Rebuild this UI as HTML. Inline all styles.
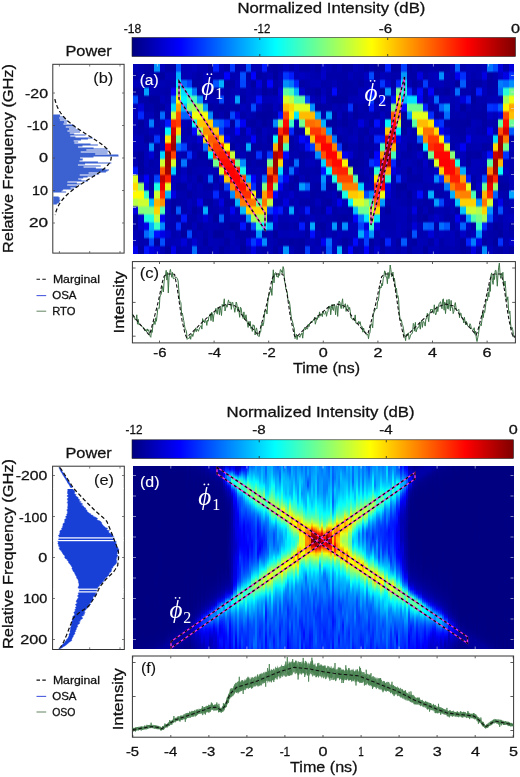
<!DOCTYPE html>
<html><head><meta charset="utf-8"><title>Figure</title>
<style>
html,body{margin:0;padding:0;background:#fff}
#root{position:relative;width:520px;height:777px;overflow:hidden;background:#fff;font-family:"Liberation Sans",sans-serif}
.hm{position:absolute;overflow:hidden;background:#000080}
.hm i{position:absolute;top:0;height:100%;display:block}
.bl{position:absolute;left:0;top:0;right:0;bottom:0;filter:blur(0.7px)}
</style></head><body><div id="root">
<div class="hm" style="left:133px;top:64px;width:381px;height:190px"><div class="bl"><i style="left:0px;width:5px;background:linear-gradient(#0000b5 0.7% 3.5%,#0000a6 4.8% 7.7%,#0000bb 9.0% 11.8%,#0000a1 13.2% 16.0%,#004eff 17.3% 20.2%,#0000b9 21.5% 24.3%,#0000bc 25.7% 28.5%,#0000b4 29.8% 32.7%,#0000b0 34.0% 36.8%,#0000bc 38.2% 41.0%,#0000b8 42.3% 45.2%,#0000ab 46.5% 49.3%,#0000b3 50.7% 53.5%,#0017ff 54.8% 57.7%,#ddff22 59.0% 61.8%,#ffdb00 63.2% 66.0%,#fffc00 67.3% 70.2%,#b9ff46 71.5% 74.3%,#0000e1 75.7% 78.5%,#0000a8 79.8% 82.7%,#0000a6 84.0% 86.8%,#0000b7 88.2% 91.0%,#0000bc 92.3% 95.2%,#0000ec 96.5% 99.3%)"></i><i style="left:5px;width:6px;background:linear-gradient(#0000ad 0.7% 3.5%,#0000b3 4.8% 7.7%,#0000b9 9.0% 11.8%,#0000a4 13.2% 16.0%,#0000aa 17.3% 20.2%,#0000d7 21.5% 24.3%,#0027ff 25.7% 28.5%,#0000a0 29.8% 32.7%,#0000a9 34.0% 36.8%,#0000b7 38.2% 41.0%,#0000b4 42.3% 45.2%,#00009f 46.5% 49.3%,#00009f 50.7% 53.5%,#00009f 54.8% 57.7%,#0000bc 59.0% 61.8%,#97ff68 63.2% 66.0%,#fffc00 67.3% 70.2%,#ceff31 71.5% 74.3%,#83ff7c 75.7% 78.5%,#0000cf 79.8% 82.7%,#0000ca 84.0% 86.8%,#0000b1 88.2% 91.0%,#0000af 92.3% 95.2%,#0000a3 96.5% 99.3%)"></i><i style="left:11px;width:5px;background:linear-gradient(#0000a8 0.7% 3.5%,#00009e 4.8% 7.7%,#0000ab 9.0% 11.8%,#00a0ff 13.2% 16.0%,#0000a8 17.3% 20.2%,#0000aa 21.5% 24.3%,#0000b6 25.7% 28.5%,#0000b7 29.8% 32.7%,#0000ad 34.0% 36.8%,#0000a1 38.2% 41.0%,#0000b4 42.3% 45.2%,#0000ba 46.5% 49.3%,#0000b9 50.7% 53.5%,#0000b1 54.8% 57.7%,#0000ff 59.0% 61.8%,#0000de 63.2% 66.0%,#38ffc7 67.3% 70.2%,#ceff31 71.5% 74.3%,#83ff7c 75.7% 78.5%,#22ffdd 79.8% 82.7%,#0000eb 84.0% 86.8%,#006aff 88.2% 91.0%,#0000b0 92.3% 95.2%,#0013ff 96.5% 99.3%)"></i><i style="left:16px;width:5px;background:linear-gradient(#0000a2 0.7% 3.5%,#0000aa 4.8% 7.7%,#0000b0 9.0% 11.8%,#0000b2 13.2% 16.0%,#00009f 17.3% 20.2%,#0000ac 21.5% 24.3%,#0000b9 25.7% 28.5%,#007dff 29.8% 32.7%,#0000bc 34.0% 36.8%,#0000a8 38.2% 41.0%,#008fff 42.3% 45.2%,#0000d2 46.5% 49.3%,#0000aa 50.7% 53.5%,#0000b1 54.8% 57.7%,#0000ac 59.0% 61.8%,#0000a2 63.2% 66.0%,#0000b5 67.3% 70.2%,#00bdff 71.5% 74.3%,#83ff7c 75.7% 78.5%,#22ffdd 79.8% 82.7%,#00b0ff 84.0% 86.8%,#0095ff 88.2% 91.0%,#0048ff 92.3% 95.2%,#0000e0 96.5% 99.3%)"></i><i style="left:21px;width:6px;background:linear-gradient(#0093ff 0.7% 3.5%,#0000a9 4.8% 7.7%,#0000b2 9.0% 11.8%,#0000af 13.2% 16.0%,#0000a0 17.3% 20.2%,#0000a1 21.5% 24.3%,#0000a2 25.7% 28.5%,#0000ad 29.8% 32.7%,#0000b6 34.0% 36.8%,#0034ff 38.2% 41.0%,#0000a0 42.3% 45.2%,#0000a5 46.5% 49.3%,#0000b1 50.7% 53.5%,#0000ad 54.8% 57.7%,#0041ff 59.0% 61.8%,#1bffe4 63.2% 66.0%,#ceff31 67.3% 70.2%,#ffb000 71.5% 74.3%,#ffd300 75.7% 78.5%,#baff45 79.8% 82.7%,#37ffc8 84.0% 86.8%,#000cff 88.2% 91.0%,#00009f 92.3% 95.2%,#0000d3 96.5% 99.3%)"></i><i style="left:27px;width:5px;background:linear-gradient(#0000bc 0.7% 3.5%,#0000a1 4.8% 7.7%,#0000b4 9.0% 11.8%,#0000ae 13.2% 16.0%,#0000bb 17.3% 20.2%,#0000a2 21.5% 24.3%,#006bff 25.7% 28.5%,#0000bc 29.8% 32.7%,#0000a5 34.0% 36.8%,#0000ab 38.2% 41.0%,#0000bd 42.3% 45.2%,#00d4ff 46.5% 49.3%,#d0ff2f 50.7% 53.5%,#ff5800 54.8% 57.7%,#c10000 59.0% 61.8%,#eb0000 63.2% 66.0%,#ff2800 67.3% 70.2%,#ff8e00 71.5% 74.3%,#50ffaf 75.7% 78.5%,#0000f4 79.8% 82.7%,#008eff 84.0% 86.8%,#0000e7 88.2% 91.0%,#004dff 92.3% 95.2%,#0000b6 96.5% 99.3%)"></i><i style="left:32px;width:6px;background:linear-gradient(#0000a7 0.7% 3.5%,#0000b7 4.8% 7.7%,#0000b1 9.0% 11.8%,#0000aa 13.2% 16.0%,#0000b0 17.3% 20.2%,#0000ba 21.5% 24.3%,#0000b0 25.7% 28.5%,#0017ff 29.8% 32.7%,#00faff 34.0% 36.8%,#ffec00 38.2% 41.0%,#ff0100 42.3% 45.2%,#940000 46.5% 49.3%,#960000 50.7% 53.5%,#a40000 54.8% 57.7%,#ff1f00 59.0% 61.8%,#dfff20 63.2% 66.0%,#00afff 67.3% 70.2%,#0000b5 71.5% 74.3%,#0000ba 75.7% 78.5%,#0000b5 79.8% 82.7%,#0000b0 84.0% 86.8%,#0000cf 88.2% 91.0%,#0000b2 92.3% 95.2%,#0000a1 96.5% 99.3%)"></i><i style="left:38px;width:5px;background:linear-gradient(#0000a8 0.7% 3.5%,#0000b7 4.8% 7.7%,#0000af 9.0% 11.8%,#0000f8 13.2% 16.0%,#0073ff 17.3% 20.2%,#00dbff 21.5% 24.3%,#d0ff2f 25.7% 28.5%,#ff2700 29.8% 32.7%,#d30000 34.0% 36.8%,#b00000 38.2% 41.0%,#9c0000 42.3% 45.2%,#ff4100 46.5% 49.3%,#d8ff27 50.7% 53.5%,#00cdff 54.8% 57.7%,#0000bb 59.0% 61.8%,#0000bc 63.2% 66.0%,#0000e4 67.3% 70.2%,#0000a2 71.5% 74.3%,#0000a1 75.7% 78.5%,#0000b3 79.8% 82.7%,#0000af 84.0% 86.8%,#0000af 88.2% 91.0%,#0000b7 92.3% 95.2%,#0000ed 96.5% 99.3%)"></i><i style="left:43px;width:5px;background:linear-gradient(#0053ff 0.7% 3.5%,#00adff 4.8% 7.7%,#00edff 9.0% 11.8%,#7cff83 13.2% 16.0%,#f6ff09 17.3% 20.2%,#ffa100 21.5% 24.3%,#ff4b00 25.7% 28.5%,#ff3d00 29.8% 32.7%,#ffd400 34.0% 36.8%,#5fffa0 38.2% 41.0%,#006fff 42.3% 45.2%,#0000bb 46.5% 49.3%,#00009e 50.7% 53.5%,#0000a9 54.8% 57.7%,#0000b5 59.0% 61.8%,#0000a4 63.2% 66.0%,#0000b2 67.3% 70.2%,#0000a8 71.5% 74.3%,#005bff 75.7% 78.5%,#0000a5 79.8% 82.7%,#002fff 84.0% 86.8%,#0000b4 88.2% 91.0%,#0000bb 92.3% 95.2%,#0000ad 96.5% 99.3%)"></i><i style="left:48px;width:6px;background:linear-gradient(#0000b6 0.7% 3.5%,#0000b4 4.8% 7.7%,#006bff 9.0% 11.8%,#00dfff 13.2% 16.0%,#00f7ff 17.3% 20.2%,#00b8ff 21.5% 24.3%,#0061ff 25.7% 28.5%,#0000b7 29.8% 32.7%,#0000af 34.0% 36.8%,#0000b1 38.2% 41.0%,#0040ff 42.3% 45.2%,#0000af 46.5% 49.3%,#0074ff 50.7% 53.5%,#0000bc 54.8% 57.7%,#0000c6 59.0% 61.8%,#0000a5 63.2% 66.0%,#0000b1 67.3% 70.2%,#0000af 71.5% 74.3%,#0000ad 75.7% 78.5%,#0016ff 79.8% 82.7%,#0000ab 84.0% 86.8%,#00009f 88.2% 91.0%,#0000d9 92.3% 95.2%,#0000b6 96.5% 99.3%)"></i><i style="left:54px;width:5px;background:linear-gradient(#0000b8 0.7% 3.5%,#0000ba 4.8% 7.7%,#0040ff 9.0% 11.8%,#00dfff 13.2% 16.0%,#47ffb8 17.3% 20.2%,#8bff74 21.5% 24.3%,#005fff 25.7% 28.5%,#0000af 29.8% 32.7%,#0000a5 34.0% 36.8%,#0000ba 38.2% 41.0%,#0000b1 42.3% 45.2%,#0033ff 46.5% 49.3%,#0000ac 50.7% 53.5%,#0000a3 54.8% 57.7%,#0000ae 59.0% 61.8%,#0000bd 63.2% 66.0%,#0000a3 67.3% 70.2%,#0000bd 71.5% 74.3%,#0000b9 75.7% 78.5%,#0000a8 79.8% 82.7%,#0000a6 84.0% 86.8%,#004bff 88.2% 91.0%,#0000b3 92.3% 95.2%,#0000b6 96.5% 99.3%)"></i><i style="left:59px;width:5px;background:linear-gradient(#0000bf 0.7% 3.5%,#0000b0 4.8% 7.7%,#0000a3 9.0% 11.8%,#0076ff 13.2% 16.0%,#47ffb8 17.3% 20.2%,#a3ff5c 21.5% 24.3%,#f3ff0c 25.7% 28.5%,#07fff8 29.8% 32.7%,#0008ff 34.0% 36.8%,#0000b7 38.2% 41.0%,#0000a9 42.3% 45.2%,#0000b9 46.5% 49.3%,#0000a7 50.7% 53.5%,#0000ae 54.8% 57.7%,#0000b9 59.0% 61.8%,#0000af 63.2% 66.0%,#0000b1 67.3% 70.2%,#0000b0 71.5% 74.3%,#0000a1 75.7% 78.5%,#0000ab 79.8% 82.7%,#0000ba 84.0% 86.8%,#0000af 88.2% 91.0%,#0000d0 92.3% 95.2%,#006dff 96.5% 99.3%)"></i><i style="left:64px;width:6px;background:linear-gradient(#0000b3 0.7% 3.5%,#0000a9 4.8% 7.7%,#0000a7 9.0% 11.8%,#0000a2 13.2% 16.0%,#0092ff 17.3% 20.2%,#a3ff5c 21.5% 24.3%,#f3ff0c 25.7% 28.5%,#ffc600 29.8% 32.7%,#9aff65 34.0% 36.8%,#0000d4 38.2% 41.0%,#0000b2 42.3% 45.2%,#0000a1 46.5% 49.3%,#0000aa 50.7% 53.5%,#0000b2 54.8% 57.7%,#0000a1 59.0% 61.8%,#0000b8 63.2% 66.0%,#0000b5 67.3% 70.2%,#0000ea 71.5% 74.3%,#0000af 75.7% 78.5%,#0000b8 79.8% 82.7%,#0000a4 84.0% 86.8%,#0000b7 88.2% 91.0%,#0000b5 92.3% 95.2%,#0000ae 96.5% 99.3%)"></i><i style="left:70px;width:5px;background:linear-gradient(#0000b1 0.7% 3.5%,#0000b8 4.8% 7.7%,#0000ba 9.0% 11.8%,#0000ae 13.2% 16.0%,#0000b4 17.3% 20.2%,#0099ff 21.5% 24.3%,#f3ff0c 25.7% 28.5%,#ffc600 29.8% 32.7%,#ff8d00 34.0% 36.8%,#ffe500 38.2% 41.0%,#006fff 42.3% 45.2%,#0000a4 46.5% 49.3%,#0000ab 50.7% 53.5%,#0000b3 54.8% 57.7%,#0000b6 59.0% 61.8%,#0000a9 63.2% 66.0%,#0000b1 67.3% 70.2%,#0000a2 71.5% 74.3%,#00b1ff 75.7% 78.5%,#0000d4 79.8% 82.7%,#0000b1 84.0% 86.8%,#0000a9 88.2% 91.0%,#0000a2 92.3% 95.2%,#0000b2 96.5% 99.3%)"></i><i style="left:75px;width:5px;background:linear-gradient(#00009f 0.7% 3.5%,#0000aa 4.8% 7.7%,#0000ac 9.0% 11.8%,#0000a8 13.2% 16.0%,#0000b5 17.3% 20.2%,#0000a2 21.5% 24.3%,#008bff 25.7% 28.5%,#ffcd00 29.8% 32.7%,#ff8d00 34.0% 36.8%,#ff5d00 38.2% 41.0%,#ff7c00 42.3% 45.2%,#00f8ff 46.5% 49.3%,#0000a3 50.7% 53.5%,#0000b7 54.8% 57.7%,#006aff 59.0% 61.8%,#0000a7 63.2% 66.0%,#0000b3 67.3% 70.2%,#0000a2 71.5% 74.3%,#0000aa 75.7% 78.5%,#0000b8 79.8% 82.7%,#0000b2 84.0% 86.8%,#0000b5 88.2% 91.0%,#0000b9 92.3% 95.2%,#0000ab 96.5% 99.3%)"></i><i style="left:80px;width:6px;background:linear-gradient(#0021ff 0.7% 3.5%,#0000b0 4.8% 7.7%,#0051ff 9.0% 11.8%,#0000a0 13.2% 16.0%,#0000b3 17.3% 20.2%,#0000ab 21.5% 24.3%,#0000a3 25.7% 28.5%,#0069ff 29.8% 32.7%,#ffc200 34.0% 36.8%,#ff5d00 38.2% 41.0%,#ff3900 42.3% 45.2%,#ff2e00 46.5% 49.3%,#73ff8c 50.7% 53.5%,#0000b5 54.8% 57.7%,#0000aa 59.0% 61.8%,#0000b9 63.2% 66.0%,#0028ff 67.3% 70.2%,#0000b6 71.5% 74.3%,#0000ac 75.7% 78.5%,#0000a0 79.8% 82.7%,#0000b1 84.0% 86.8%,#00009e 88.2% 91.0%,#0000b5 92.3% 95.2%,#0000b8 96.5% 99.3%)"></i><i style="left:86px;width:5px;background:linear-gradient(#0000b4 0.7% 3.5%,#0000b2 4.8% 7.7%,#00afff 9.0% 11.8%,#0000b4 13.2% 16.0%,#004bff 17.3% 20.2%,#0000a2 21.5% 24.3%,#0000b1 25.7% 28.5%,#0058ff 29.8% 32.7%,#0036ff 34.0% 36.8%,#ffd300 38.2% 41.0%,#ff3900 42.3% 45.2%,#ff1d00 46.5% 49.3%,#ff0c00 50.7% 53.5%,#dcff23 54.8% 57.7%,#0000cf 59.0% 61.8%,#0000a4 63.2% 66.0%,#0000b3 67.3% 70.2%,#0000e0 71.5% 74.3%,#0000bb 75.7% 78.5%,#0065ff 79.8% 82.7%,#0000aa 84.0% 86.8%,#00009f 88.2% 91.0%,#0000b3 92.3% 95.2%,#0000a1 96.5% 99.3%)"></i><i style="left:91px;width:6px;background:linear-gradient(#0000a7 0.7% 3.5%,#0000fe 4.8% 7.7%,#0000a1 9.0% 11.8%,#0000a8 13.2% 16.0%,#0000ab 17.3% 20.2%,#0000a8 21.5% 24.3%,#0000a0 25.7% 28.5%,#0023ff 29.8% 32.7%,#0000b9 34.0% 36.8%,#0000f2 38.2% 41.0%,#fffc00 42.3% 45.2%,#ff1d00 46.5% 49.3%,#ff0c00 50.7% 53.5%,#ff0200 54.8% 57.7%,#ffc800 59.0% 61.8%,#003dff 63.2% 66.0%,#0000b2 67.3% 70.2%,#0000a3 71.5% 74.3%,#0000af 75.7% 78.5%,#0000aa 79.8% 82.7%,#0000a6 84.0% 86.8%,#0000b3 88.2% 91.0%,#0000a3 92.3% 95.2%,#0000af 96.5% 99.3%)"></i><i style="left:97px;width:5px;background:linear-gradient(#0038ff 0.7% 3.5%,#0000b2 4.8% 7.7%,#0000a4 9.0% 11.8%,#0000b2 13.2% 16.0%,#0000b7 17.3% 20.2%,#0000aa 21.5% 24.3%,#0048ff 25.7% 28.5%,#00009f 29.8% 32.7%,#0000b4 34.0% 36.8%,#0000b4 38.2% 41.0%,#00009e 42.3% 45.2%,#c6ff39 46.5% 49.3%,#ff0c00 50.7% 53.5%,#ff0200 54.8% 57.7%,#ff0000 59.0% 61.8%,#ff8600 63.2% 66.0%,#008bff 67.3% 70.2%,#0000a0 71.5% 74.3%,#0000f6 75.7% 78.5%,#0000bb 79.8% 82.7%,#00009e 84.0% 86.8%,#0000bc 88.2% 91.0%,#0000bb 92.3% 95.2%,#0000b4 96.5% 99.3%)"></i><i style="left:102px;width:5px;background:linear-gradient(#0000ab 0.7% 3.5%,#0000b5 4.8% 7.7%,#0000c3 9.0% 11.8%,#0000b8 13.2% 16.0%,#00a1ff 17.3% 20.2%,#0000a4 21.5% 24.3%,#0000de 25.7% 28.5%,#0043ff 29.8% 32.7%,#0000ff 34.0% 36.8%,#0000ad 38.2% 41.0%,#0000b7 42.3% 45.2%,#0000ad 46.5% 49.3%,#78ff87 50.7% 53.5%,#ff1000 54.8% 57.7%,#ff0000 59.0% 61.8%,#ff0c00 63.2% 66.0%,#ff6a00 67.3% 70.2%,#00b6ff 71.5% 74.3%,#0000b3 75.7% 78.5%,#0000bb 79.8% 82.7%,#0000a4 84.0% 86.8%,#0000a8 88.2% 91.0%,#0000b3 92.3% 95.2%,#0000bc 96.5% 99.3%)"></i><i style="left:107px;width:6px;background:linear-gradient(#0000af 0.7% 3.5%,#004eff 4.8% 7.7%,#0046ff 9.0% 11.8%,#0000ad 13.2% 16.0%,#0000a7 17.3% 20.2%,#0000bd 21.5% 24.3%,#0000aa 25.7% 28.5%,#0000f7 29.8% 32.7%,#0000a6 34.0% 36.8%,#0000ae 38.2% 41.0%,#0000a8 42.3% 45.2%,#0000b6 46.5% 49.3%,#0088ff 50.7% 53.5%,#1bffe4 54.8% 57.7%,#ff4000 59.0% 61.8%,#ff0c00 63.2% 66.0%,#ff3100 67.3% 70.2%,#ff7c00 71.5% 74.3%,#00bbff 75.7% 78.5%,#0000b9 79.8% 82.7%,#0013ff 84.0% 86.8%,#0000a8 88.2% 91.0%,#0000a4 92.3% 95.2%,#00009e 96.5% 99.3%)"></i><i style="left:113px;width:5px;background:linear-gradient(#004dff 0.7% 3.5%,#0000a7 4.8% 7.7%,#0000b4 9.0% 11.8%,#0000b9 13.2% 16.0%,#0000b6 17.3% 20.2%,#0000b3 21.5% 24.3%,#0000b4 25.7% 28.5%,#0000a5 29.8% 32.7%,#0000de 34.0% 36.8%,#0000b8 38.2% 41.0%,#00aaff 42.3% 45.2%,#0000a5 46.5% 49.3%,#0000a3 50.7% 53.5%,#0000b4 54.8% 57.7%,#00aeff 59.0% 61.8%,#ff8f00 63.2% 66.0%,#ff3100 67.3% 70.2%,#ff7300 71.5% 74.3%,#ffd500 75.7% 78.5%,#0096ff 79.8% 82.7%,#0000a7 84.0% 86.8%,#0000a9 88.2% 91.0%,#0000e0 92.3% 95.2%,#0000b4 96.5% 99.3%)"></i><i style="left:118px;width:5px;background:linear-gradient(#0000b5 0.7% 3.5%,#0000fe 4.8% 7.7%,#0000a2 9.0% 11.8%,#0000b1 13.2% 16.0%,#0000b9 17.3% 20.2%,#004aff 21.5% 24.3%,#0000ad 25.7% 28.5%,#0000a2 29.8% 32.7%,#0000b2 34.0% 36.8%,#0000fc 38.2% 41.0%,#0000a3 42.3% 45.2%,#0000a6 46.5% 49.3%,#0000ae 50.7% 53.5%,#0000af 54.8% 57.7%,#0001ff 59.0% 61.8%,#002eff 63.2% 66.0%,#faff05 67.3% 70.2%,#ff7300 71.5% 74.3%,#ffd500 75.7% 78.5%,#a5ff5a 79.8% 82.7%,#0046ff 84.0% 86.8%,#0000b0 88.2% 91.0%,#003aff 92.3% 95.2%,#0000e0 96.5% 99.3%)"></i><i style="left:123px;width:6px;background:linear-gradient(#0000b4 0.7% 3.5%,#0000a3 4.8% 7.7%,#0000df 9.0% 11.8%,#0000ba 13.2% 16.0%,#0010ff 17.3% 20.2%,#0000bb 21.5% 24.3%,#0000a0 25.7% 28.5%,#0000ae 29.8% 32.7%,#0000a2 34.0% 36.8%,#0000a8 38.2% 41.0%,#0000a5 42.3% 45.2%,#0030ff 46.5% 49.3%,#0000a6 50.7% 53.5%,#0000b4 54.8% 57.7%,#0000b9 59.0% 61.8%,#0000ae 63.2% 66.0%,#0000a1 67.3% 70.2%,#5fffa0 71.5% 74.3%,#ffd500 75.7% 78.5%,#a5ff5a 79.8% 82.7%,#37ffc8 84.0% 86.8%,#0095ff 88.2% 91.0%,#0004ff 92.3% 95.2%,#0000b5 96.5% 99.3%)"></i><i style="left:129px;width:5px;background:linear-gradient(#0019ff 0.7% 3.5%,#0000ad 4.8% 7.7%,#0000a3 9.0% 11.8%,#0000a0 13.2% 16.0%,#0000b6 17.3% 20.2%,#0000a7 21.5% 24.3%,#00009f 25.7% 28.5%,#00009f 29.8% 32.7%,#0000bc 34.0% 36.8%,#0000b5 38.2% 41.0%,#0000aa 42.3% 45.2%,#0000b1 46.5% 49.3%,#0000a5 50.7% 53.5%,#0000b0 54.8% 57.7%,#006dff 59.0% 61.8%,#82ff7d 63.2% 66.0%,#ffa200 67.3% 70.2%,#ff7400 71.5% 74.3%,#ffd300 75.7% 78.5%,#9cff63 79.8% 82.7%,#00feff 84.0% 86.8%,#0000a9 88.2% 91.0%,#008aff 92.3% 95.2%,#0000ae 96.5% 99.3%)"></i><i style="left:134px;width:6px;background:linear-gradient(#0000a6 0.7% 3.5%,#0000b4 4.8% 7.7%,#0001ff 9.0% 11.8%,#0000a9 13.2% 16.0%,#0000b8 17.3% 20.2%,#0000a3 21.5% 24.3%,#0000a0 25.7% 28.5%,#0000a9 29.8% 32.7%,#0000b2 34.0% 36.8%,#0000a2 38.2% 41.0%,#0000a7 42.3% 45.2%,#0038ff 46.5% 49.3%,#7eff81 50.7% 53.5%,#ff6a00 54.8% 57.7%,#c00000 59.0% 61.8%,#eb0000 63.2% 66.0%,#ff2800 67.3% 70.2%,#c1ff3e 71.5% 74.3%,#003dff 75.7% 78.5%,#0000b1 79.8% 82.7%,#00b2ff 84.0% 86.8%,#0000b6 88.2% 91.0%,#0000b5 92.3% 95.2%,#0000b6 96.5% 99.3%)"></i><i style="left:140px;width:5px;background:linear-gradient(#0000a3 0.7% 3.5%,#00009e 4.8% 7.7%,#0000ab 9.0% 11.8%,#00009f 13.2% 16.0%,#0000bc 17.3% 20.2%,#0000bc 21.5% 24.3%,#0000a8 25.7% 28.5%,#008cff 29.8% 32.7%,#0000b3 34.0% 36.8%,#09fff6 38.2% 41.0%,#ffb100 42.3% 45.2%,#af0000 46.5% 49.3%,#960000 50.7% 53.5%,#a40000 54.8% 57.7%,#ff3f00 59.0% 61.8%,#7dff82 63.2% 66.0%,#0002ff 67.3% 70.2%,#0000ae 71.5% 74.3%,#0003ff 75.7% 78.5%,#0000db 79.8% 82.7%,#0000bc 84.0% 86.8%,#00009e 88.2% 91.0%,#0000ae 92.3% 95.2%,#0000a3 96.5% 99.3%)"></i><i style="left:145px;width:5px;background:linear-gradient(#0000ab 0.7% 3.5%,#0000b6 4.8% 7.7%,#0000b9 9.0% 11.8%,#0000db 13.2% 16.0%,#0000cc 17.3% 20.2%,#0000ae 21.5% 24.3%,#000fff 25.7% 28.5%,#8eff71 29.8% 32.7%,#ff2e00 34.0% 36.8%,#b00000 38.2% 41.0%,#9c0000 42.3% 45.2%,#ce0000 46.5% 49.3%,#ffd700 50.7% 53.5%,#00e3ff 54.8% 57.7%,#0053ff 59.0% 61.8%,#0000f7 63.2% 66.0%,#0000ba 67.3% 70.2%,#0000b3 71.5% 74.3%,#0018ff 75.7% 78.5%,#0000b0 79.8% 82.7%,#0000aa 84.0% 86.8%,#0000b9 88.2% 91.0%,#0000a3 92.3% 95.2%,#0000ba 96.5% 99.3%)"></i><i style="left:150px;width:6px;background:linear-gradient(#0000bb 0.7% 3.5%,#0034ff 4.8% 7.7%,#008eff 9.0% 11.8%,#5effa1 13.2% 16.0%,#d8ff27 17.3% 20.2%,#ffbf00 21.5% 24.3%,#ff4b00 25.7% 28.5%,#ff0800 29.8% 32.7%,#d70000 34.0% 36.8%,#ff9f00 38.2% 41.0%,#4affb5 42.3% 45.2%,#0005ff 46.5% 49.3%,#0000b7 50.7% 53.5%,#0000b6 54.8% 57.7%,#0000f1 59.0% 61.8%,#0000b4 63.2% 66.0%,#0000bc 67.3% 70.2%,#0000df 71.5% 74.3%,#0000b5 75.7% 78.5%,#0000b3 79.8% 82.7%,#0000a8 84.0% 86.8%,#0000b5 88.2% 91.0%,#0000a8 92.3% 95.2%,#0094ff 96.5% 99.3%)"></i><i style="left:156px;width:5px;background:linear-gradient(#0000aa 0.7% 3.5%,#001bff 4.8% 7.7%,#0075ff 9.0% 11.8%,#45ffba 13.2% 16.0%,#bfff40 17.3% 20.2%,#ffd800 21.5% 24.3%,#ffeb00 25.7% 28.5%,#39ffc6 29.8% 32.7%,#0028ff 34.0% 36.8%,#0000a7 38.2% 41.0%,#0000a4 42.3% 45.2%,#0000ae 46.5% 49.3%,#0000a9 50.7% 53.5%,#006dff 54.8% 57.7%,#0000af 59.0% 61.8%,#0000a4 63.2% 66.0%,#0000ca 67.3% 70.2%,#0000af 71.5% 74.3%,#00a9ff 75.7% 78.5%,#0000b8 79.8% 82.7%,#0000b0 84.0% 86.8%,#0000bb 88.2% 91.0%,#0000a1 92.3% 95.2%,#0000b7 96.5% 99.3%)"></i><i style="left:161px;width:5px;background:linear-gradient(#0000ba 0.7% 3.5%,#0000b8 4.8% 7.7%,#0024ff 9.0% 11.8%,#00b2ff 13.2% 16.0%,#62ff9d 17.3% 20.2%,#dfff20 21.5% 24.3%,#00e5ff 25.7% 28.5%,#0000b0 29.8% 32.7%,#0000a1 34.0% 36.8%,#0000b9 38.2% 41.0%,#0000ae 42.3% 45.2%,#0000b1 46.5% 49.3%,#006cff 50.7% 53.5%,#0000c2 54.8% 57.7%,#0000a1 59.0% 61.8%,#0000ad 63.2% 66.0%,#0000b1 67.3% 70.2%,#0000b9 71.5% 74.3%,#0000b3 75.7% 78.5%,#0000b9 79.8% 82.7%,#0000a9 84.0% 86.8%,#0000b8 88.2% 91.0%,#0000a5 92.3% 95.2%,#0000a7 96.5% 99.3%)"></i><i style="left:166px;width:6px;background:linear-gradient(#0000a4 0.7% 3.5%,#0000c3 4.8% 7.7%,#0000a6 9.0% 11.8%,#0000ce 13.2% 16.0%,#62ff9d 17.3% 20.2%,#dfff20 21.5% 24.3%,#ffbb00 25.7% 28.5%,#71ff8e 29.8% 32.7%,#0000a6 34.0% 36.8%,#0007ff 38.2% 41.0%,#0000bc 42.3% 45.2%,#0000a5 46.5% 49.3%,#0000ab 50.7% 53.5%,#0000aa 54.8% 57.7%,#0000b9 59.0% 61.8%,#009dff 63.2% 66.0%,#0000b4 67.3% 70.2%,#0000ab 71.5% 74.3%,#0000c0 75.7% 78.5%,#0000ab 79.8% 82.7%,#0019ff 84.0% 86.8%,#0000b6 88.2% 91.0%,#0000a0 92.3% 95.2%,#0000a2 96.5% 99.3%)"></i><i style="left:172px;width:5px;background:linear-gradient(#0000a5 0.7% 3.5%,#0000ba 4.8% 7.7%,#0000ae 9.0% 11.8%,#0000a8 13.2% 16.0%,#0043ff 17.3% 20.2%,#dfff20 21.5% 24.3%,#ffbb00 25.7% 28.5%,#ff6d00 29.8% 32.7%,#e3ff1c 34.0% 36.8%,#0000e2 38.2% 41.0%,#0010ff 42.3% 45.2%,#0000ad 46.5% 49.3%,#0000ba 50.7% 53.5%,#0000ab 54.8% 57.7%,#0000a6 59.0% 61.8%,#0061ff 63.2% 66.0%,#0000b8 67.3% 70.2%,#0000a9 71.5% 74.3%,#001cff 75.7% 78.5%,#0000b5 79.8% 82.7%,#0000aa 84.0% 86.8%,#0000a7 88.2% 91.0%,#0000b2 92.3% 95.2%,#003eff 96.5% 99.3%)"></i><i style="left:177px;width:5px;background:linear-gradient(#0000ae 0.7% 3.5%,#0000b3 4.8% 7.7%,#0000b9 9.0% 11.8%,#0000a8 13.2% 16.0%,#0000bc 17.3% 20.2%,#0093ff 21.5% 24.3%,#ffbb00 25.7% 28.5%,#ff6d00 29.8% 32.7%,#ff3600 34.0% 36.8%,#ffc100 38.2% 41.0%,#0042ff 42.3% 45.2%,#0000b9 46.5% 49.3%,#0000bc 50.7% 53.5%,#0000ad 54.8% 57.7%,#0000b0 59.0% 61.8%,#0000ac 63.2% 66.0%,#0000a3 67.3% 70.2%,#0000aa 71.5% 74.3%,#0000a4 75.7% 78.5%,#0000bc 79.8% 82.7%,#00a9ff 84.0% 86.8%,#000dff 88.2% 91.0%,#0000b6 92.3% 95.2%,#0000b3 96.5% 99.3%)"></i><i style="left:182px;width:6px;background:linear-gradient(#0000a3 0.7% 3.5%,#0000ae 4.8% 7.7%,#0000bb 9.0% 11.8%,#00009e 13.2% 16.0%,#0000ad 17.3% 20.2%,#00009f 21.5% 24.3%,#00a6ff 25.7% 28.5%,#ff7b00 29.8% 32.7%,#ff3600 34.0% 36.8%,#ff1300 38.2% 41.0%,#ff7f00 42.3% 45.2%,#0090ff 46.5% 49.3%,#0000b1 50.7% 53.5%,#0000a9 54.8% 57.7%,#0000b3 59.0% 61.8%,#0000a6 63.2% 66.0%,#0000a8 67.3% 70.2%,#0000bd 71.5% 74.3%,#0000ad 75.7% 78.5%,#0000ae 79.8% 82.7%,#0000a2 84.0% 86.8%,#0000b7 88.2% 91.0%,#0000ae 92.3% 95.2%,#0000ba 96.5% 99.3%)"></i><i style="left:188px;width:5px;background:linear-gradient(#0000c4 0.7% 3.5%,#0000cb 4.8% 7.7%,#0000aa 9.0% 11.8%,#0000b9 13.2% 16.0%,#0000cc 17.3% 20.2%,#0000a5 21.5% 24.3%,#0000ab 25.7% 28.5%,#00afff 29.8% 32.7%,#ff6200 34.0% 36.8%,#ff1300 38.2% 41.0%,#ff0200 42.3% 45.2%,#ff5100 46.5% 49.3%,#00d1ff 50.7% 53.5%,#000fff 54.8% 57.7%,#0096ff 59.0% 61.8%,#0077ff 63.2% 66.0%,#0000aa 67.3% 70.2%,#0000a6 71.5% 74.3%,#0000a0 75.7% 78.5%,#0000b4 79.8% 82.7%,#0000a2 84.0% 86.8%,#0000aa 88.2% 91.0%,#0000f2 92.3% 95.2%,#0000ad 96.5% 99.3%)"></i><i style="left:193px;width:6px;background:linear-gradient(#0000b3 0.7% 3.5%,#0000a9 4.8% 7.7%,#0000ad 9.0% 11.8%,#0000a6 13.2% 16.0%,#0000a7 17.3% 20.2%,#0000a6 21.5% 24.3%,#00a2ff 25.7% 28.5%,#0000a3 29.8% 32.7%,#009fff 34.0% 36.8%,#ff6600 38.2% 41.0%,#ff0200 42.3% 45.2%,#ff0100 46.5% 49.3%,#ff3400 50.7% 53.5%,#01fffe 54.8% 57.7%,#0000b4 59.0% 61.8%,#0000a0 63.2% 66.0%,#0000b1 67.3% 70.2%,#0000a3 71.5% 74.3%,#0000df 75.7% 78.5%,#0000ad 79.8% 82.7%,#0000b5 84.0% 86.8%,#0000b7 88.2% 91.0%,#006bff 92.3% 95.2%,#0058ff 96.5% 99.3%)"></i><i style="left:199px;width:5px;background:linear-gradient(#0000a9 0.7% 3.5%,#0000ab 4.8% 7.7%,#0000b7 9.0% 11.8%,#0008ff 13.2% 16.0%,#00009f 17.3% 20.2%,#0000b5 21.5% 24.3%,#00009f 25.7% 28.5%,#0000a2 29.8% 32.7%,#0000a8 34.0% 36.8%,#0078ff 38.2% 41.0%,#ff8300 42.3% 45.2%,#ff0100 46.5% 49.3%,#ff0a00 50.7% 53.5%,#ff2d00 54.8% 57.7%,#1effe1 59.0% 61.8%,#0000a5 63.2% 66.0%,#0000ba 67.3% 70.2%,#0000b9 71.5% 74.3%,#0000a6 75.7% 78.5%,#0000aa 79.8% 82.7%,#0097ff 84.0% 86.8%,#0000ad 88.2% 91.0%,#0000ba 92.3% 95.2%,#0000bb 96.5% 99.3%)"></i><i style="left:204px;width:5px;background:linear-gradient(#0000b3 0.7% 3.5%,#0000a9 4.8% 7.7%,#0000aa 9.0% 11.8%,#0000a9 13.2% 16.0%,#0000a0 17.3% 20.2%,#0000ae 21.5% 24.3%,#0000bb 25.7% 28.5%,#0000aa 29.8% 32.7%,#0000b8 34.0% 36.8%,#0000a2 38.2% 41.0%,#003cff 42.3% 45.2%,#ffb400 46.5% 49.3%,#ff0a00 50.7% 53.5%,#ff2200 54.8% 57.7%,#ff4800 59.0% 61.8%,#28ffd7 63.2% 66.0%,#00009e 67.3% 70.2%,#0000f1 71.5% 74.3%,#0000b1 75.7% 78.5%,#0000a4 79.8% 82.7%,#0000a2 84.0% 86.8%,#0000bc 88.2% 91.0%,#0000b0 92.3% 95.2%,#00b1ff 96.5% 99.3%)"></i><i style="left:209px;width:6px;background:linear-gradient(#0000a5 0.7% 3.5%,#0000a8 4.8% 7.7%,#0000a5 9.0% 11.8%,#0000a4 13.2% 16.0%,#0000a0 17.3% 20.2%,#0000b6 21.5% 24.3%,#0000a2 25.7% 28.5%,#0000a1 29.8% 32.7%,#0000b1 34.0% 36.8%,#0000ac 38.2% 41.0%,#00009f 42.3% 45.2%,#0000ed 46.5% 49.3%,#fff400 50.7% 53.5%,#ff2200 54.8% 57.7%,#ff4800 59.0% 61.8%,#ff8000 63.2% 66.0%,#1cffe3 67.3% 70.2%,#0000b8 71.5% 74.3%,#0000ae 75.7% 78.5%,#0000a1 79.8% 82.7%,#0090ff 84.0% 86.8%,#0000b4 88.2% 91.0%,#0000a2 92.3% 95.2%,#0000ac 96.5% 99.3%)"></i><i style="left:215px;width:5px;background:linear-gradient(#0000a7 0.7% 3.5%,#0000bb 4.8% 7.7%,#0000a7 9.0% 11.8%,#0000a8 13.2% 16.0%,#0000b4 17.3% 20.2%,#0033ff 21.5% 24.3%,#0000b4 25.7% 28.5%,#0000ac 29.8% 32.7%,#0000ab 34.0% 36.8%,#0000b7 38.2% 41.0%,#0000ad 42.3% 45.2%,#0000d0 46.5% 49.3%,#0000a4 50.7% 53.5%,#b8ff47 54.8% 57.7%,#ff4800 59.0% 61.8%,#ff8000 63.2% 66.0%,#ffc900 67.3% 70.2%,#00faff 71.5% 74.3%,#0000a9 75.7% 78.5%,#0000a8 79.8% 82.7%,#0000b9 84.0% 86.8%,#0000b9 88.2% 91.0%,#0000ae 92.3% 95.2%,#0002ff 96.5% 99.3%)"></i><i style="left:220px;width:5px;background:linear-gradient(#0000b9 0.7% 3.5%,#0000ae 4.8% 7.7%,#0000ad 9.0% 11.8%,#0000a7 13.2% 16.0%,#0000b6 17.3% 20.2%,#0000a5 21.5% 24.3%,#0000a1 25.7% 28.5%,#0000af 29.8% 32.7%,#0000b4 34.0% 36.8%,#0000bc 38.2% 41.0%,#0000ac 42.3% 45.2%,#0000ad 46.5% 49.3%,#0000a0 50.7% 53.5%,#0000a4 54.8% 57.7%,#52ffad 59.0% 61.8%,#ff8000 63.2% 66.0%,#ffc900 67.3% 70.2%,#d9ff26 71.5% 74.3%,#00c1ff 75.7% 78.5%,#0000fd 79.8% 82.7%,#0000bb 84.0% 86.8%,#0000ba 88.2% 91.0%,#0009ff 92.3% 95.2%,#0000a6 96.5% 99.3%)"></i><i style="left:225px;width:6px;background:linear-gradient(#0000b0 0.7% 3.5%,#0000ae 4.8% 7.7%,#0000a5 9.0% 11.8%,#0000bc 13.2% 16.0%,#0000bb 17.3% 20.2%,#0000b0 21.5% 24.3%,#0000ab 25.7% 28.5%,#0000df 29.8% 32.7%,#0000aa 34.0% 36.8%,#0000a4 38.2% 41.0%,#0000a2 42.3% 45.2%,#0000a5 46.5% 49.3%,#0000a5 50.7% 53.5%,#0000aa 54.8% 57.7%,#0000a2 59.0% 61.8%,#00d8ff 63.2% 66.0%,#ffda00 67.3% 70.2%,#d9ff26 71.5% 74.3%,#6bff94 75.7% 78.5%,#0070ff 79.8% 82.7%,#0040ff 84.0% 86.8%,#00acff 88.2% 91.0%,#0000b9 92.3% 95.2%,#0000ad 96.5% 99.3%)"></i><i style="left:231px;width:5px;background:linear-gradient(#0000a2 0.7% 3.5%,#0000c4 4.8% 7.7%,#0000b5 9.0% 11.8%,#0000b9 13.2% 16.0%,#0000bc 17.3% 20.2%,#0000a6 21.5% 24.3%,#0000ae 25.7% 28.5%,#0000b6 29.8% 32.7%,#0000a3 34.0% 36.8%,#0000b5 38.2% 41.0%,#0000a6 42.3% 45.2%,#0000b4 46.5% 49.3%,#0000ae 50.7% 53.5%,#0000b7 54.8% 57.7%,#0000ab 59.0% 61.8%,#0000b7 63.2% 66.0%,#004aff 67.3% 70.2%,#a8ff57 71.5% 74.3%,#6bff94 75.7% 78.5%,#00e8ff 79.8% 82.7%,#0000e1 84.0% 86.8%,#002fff 88.2% 91.0%,#003bff 92.3% 95.2%,#0000ff 96.5% 99.3%)"></i><i style="left:236px;width:5px;background:linear-gradient(#0000ab 0.7% 3.5%,#004aff 4.8% 7.7%,#0000b3 9.0% 11.8%,#0007ff 13.2% 16.0%,#003bff 17.3% 20.2%,#0017ff 21.5% 24.3%,#0000ae 25.7% 28.5%,#0000a0 29.8% 32.7%,#0000bc 34.0% 36.8%,#0000a5 38.2% 41.0%,#0000a9 42.3% 45.2%,#00009f 46.5% 49.3%,#0033ff 50.7% 53.5%,#0000a6 54.8% 57.7%,#0000b6 59.0% 61.8%,#0000ba 63.2% 66.0%,#008dff 67.3% 70.2%,#4effb1 71.5% 74.3%,#d8ff27 75.7% 78.5%,#baff45 79.8% 82.7%,#37ffc8 84.0% 86.8%,#0095ff 88.2% 91.0%,#0000a1 92.3% 95.2%,#0000a6 96.5% 99.3%)"></i><i style="left:241px;width:6px;background:linear-gradient(#0000a1 0.7% 3.5%,#0000a5 4.8% 7.7%,#0000bb 9.0% 11.8%,#0000b8 13.2% 16.0%,#00009f 17.3% 20.2%,#0000b5 21.5% 24.3%,#0000a7 25.7% 28.5%,#000eff 29.8% 32.7%,#0000b9 34.0% 36.8%,#0027ff 38.2% 41.0%,#0000b6 42.3% 45.2%,#0001ff 46.5% 49.3%,#0015ff 50.7% 53.5%,#2affd5 54.8% 57.7%,#ffe500 59.0% 61.8%,#ff2d00 63.2% 66.0%,#ff2800 67.3% 70.2%,#ff7400 71.5% 74.3%,#ffda00 75.7% 78.5%,#00e6ff 79.8% 82.7%,#0000e3 84.0% 86.8%,#0000ae 88.2% 91.0%,#0000b2 92.3% 95.2%,#0000cc 96.5% 99.3%)"></i><i style="left:247px;width:5px;background:linear-gradient(#0000a0 0.7% 3.5%,#0000bb 4.8% 7.7%,#0036ff 9.0% 11.8%,#00009f 13.2% 16.0%,#0012ff 17.3% 20.2%,#0000a7 21.5% 24.3%,#0000bf 25.7% 28.5%,#0000b7 29.8% 32.7%,#0000bb 34.0% 36.8%,#0017ff 38.2% 41.0%,#4dffb2 42.3% 45.2%,#ffa200 46.5% 49.3%,#c50000 50.7% 53.5%,#a40000 54.8% 57.7%,#c00000 59.0% 61.8%,#ff0200 63.2% 66.0%,#edff12 67.3% 70.2%,#009cff 71.5% 74.3%,#0000b2 75.7% 78.5%,#0000b0 79.8% 82.7%,#0000ad 84.0% 86.8%,#0000bd 88.2% 91.0%,#0000a0 92.3% 95.2%,#0000a5 96.5% 99.3%)"></i><i style="left:252px;width:6px;background:linear-gradient(#001fff 0.7% 3.5%,#0000b5 4.8% 7.7%,#0000c6 9.0% 11.8%,#0096ff 13.2% 16.0%,#0000a7 17.3% 20.2%,#0000b5 21.5% 24.3%,#0000ac 25.7% 28.5%,#00faff 29.8% 32.7%,#ffcb00 34.0% 36.8%,#ce0000 38.2% 41.0%,#9c0000 42.3% 45.2%,#940000 46.5% 49.3%,#bc0000 50.7% 53.5%,#ffa600 54.8% 57.7%,#36ffc9 59.0% 61.8%,#0000ea 63.2% 66.0%,#0000d5 67.3% 70.2%,#0000ac 71.5% 74.3%,#0000a1 75.7% 78.5%,#0000ae 79.8% 82.7%,#0000af 84.0% 86.8%,#0000b3 88.2% 91.0%,#0023ff 92.3% 95.2%,#0000b7 96.5% 99.3%)"></i><i style="left:258px;width:5px;background:linear-gradient(#0000a2 0.7% 3.5%,#0000ad 4.8% 7.7%,#0000a4 9.0% 11.8%,#0000b9 13.2% 16.0%,#0013ff 17.3% 20.2%,#7dff82 21.5% 24.3%,#ff5b00 25.7% 28.5%,#ff0800 29.8% 32.7%,#d30000 34.0% 36.8%,#e70000 38.2% 41.0%,#ffb400 42.3% 45.2%,#49ffb6 46.5% 49.3%,#0024ff 50.7% 53.5%,#0000df 54.8% 57.7%,#0000af 59.0% 61.8%,#0000b1 63.2% 66.0%,#0000b3 67.3% 70.2%,#0000b6 71.5% 74.3%,#0000b3 75.7% 78.5%,#0000b1 79.8% 82.7%,#0000ac 84.0% 86.8%,#0000b3 88.2% 91.0%,#0000b8 92.3% 95.2%,#0000b5 96.5% 99.3%)"></i><i style="left:263px;width:5px;background:linear-gradient(#0000a5 0.7% 3.5%,#0000b0 4.8% 7.7%,#0023ff 9.0% 11.8%,#79ff86 13.2% 16.0%,#f6ff09 17.3% 20.2%,#ffa100 21.5% 24.3%,#ff9400 25.7% 28.5%,#c8ff37 29.8% 32.7%,#00efff 34.0% 36.8%,#0000ee 38.2% 41.0%,#0000b9 42.3% 45.2%,#0000b9 46.5% 49.3%,#0000a5 50.7% 53.5%,#0000bc 54.8% 57.7%,#0033ff 59.0% 61.8%,#0000a1 63.2% 66.0%,#0000a6 67.3% 70.2%,#0000b2 71.5% 74.3%,#0000b7 75.7% 78.5%,#0000b4 79.8% 82.7%,#0000bc 84.0% 86.8%,#0000bc 88.2% 91.0%,#0000a4 92.3% 95.2%,#0000ac 96.5% 99.3%)"></i><i style="left:268px;width:6px;background:linear-gradient(#003cff 0.7% 3.5%,#0096ff 4.8% 7.7%,#00edff 9.0% 11.8%,#20ffdf 13.2% 16.0%,#00bcff 17.3% 20.2%,#0008ff 21.5% 24.3%,#0000a2 25.7% 28.5%,#0000a0 29.8% 32.7%,#00009f 34.0% 36.8%,#0000bc 38.2% 41.0%,#0000bd 42.3% 45.2%,#0000ab 46.5% 49.3%,#0000b6 50.7% 53.5%,#0000b2 54.8% 57.7%,#0000b8 59.0% 61.8%,#0000a0 63.2% 66.0%,#0000af 67.3% 70.2%,#0000ac 71.5% 74.3%,#0000bb 75.7% 78.5%,#0000b8 79.8% 82.7%,#0000b5 84.0% 86.8%,#0000b1 88.2% 91.0%,#0058ff 92.3% 95.2%,#0000b9 96.5% 99.3%)"></i><i style="left:274px;width:5px;background:linear-gradient(#0000a2 0.7% 3.5%,#0000a9 4.8% 7.7%,#0000b2 9.0% 11.8%,#0028ff 13.2% 16.0%,#00e2ff 17.3% 20.2%,#6eff91 21.5% 24.3%,#009bff 25.7% 28.5%,#0000a2 29.8% 32.7%,#0000bb 34.0% 36.8%,#0000b0 38.2% 41.0%,#0000a1 42.3% 45.2%,#0000a8 46.5% 49.3%,#0000b7 50.7% 53.5%,#0000a1 54.8% 57.7%,#0000a7 59.0% 61.8%,#0000b1 63.2% 66.0%,#00009f 67.3% 70.2%,#0000a7 71.5% 74.3%,#0000ad 75.7% 78.5%,#0000a6 79.8% 82.7%,#0000ad 84.0% 86.8%,#00009e 88.2% 91.0%,#0000ab 92.3% 95.2%,#0000a3 96.5% 99.3%)"></i><i style="left:279px;width:5px;background:linear-gradient(#0000ac 0.7% 3.5%,#0000a7 4.8% 7.7%,#0000a1 9.0% 11.8%,#0000b2 13.2% 16.0%,#00e2ff 17.3% 20.2%,#6eff91 21.5% 24.3%,#e3ff1c 25.7% 28.5%,#59ffa6 29.8% 32.7%,#0000ac 34.0% 36.8%,#0000b0 38.2% 41.0%,#0000aa 42.3% 45.2%,#0000b1 46.5% 49.3%,#0000b1 50.7% 53.5%,#0000b7 54.8% 57.7%,#0000a6 59.0% 61.8%,#0000b3 63.2% 66.0%,#0000bc 67.3% 70.2%,#0000b5 71.5% 74.3%,#0000e2 75.7% 78.5%,#0000b8 79.8% 82.7%,#0000d9 84.0% 86.8%,#0051ff 88.2% 91.0%,#0000a2 92.3% 95.2%,#0000b5 96.5% 99.3%)"></i><i style="left:284px;width:6px;background:linear-gradient(#0000a3 0.7% 3.5%,#0000e1 4.8% 7.7%,#0000ad 9.0% 11.8%,#0007ff 13.2% 16.0%,#0000f2 17.3% 20.2%,#6eff91 21.5% 24.3%,#e3ff1c 25.7% 28.5%,#ffbc00 29.8% 32.7%,#f8ff07 34.0% 36.8%,#005cff 38.2% 41.0%,#0000a1 42.3% 45.2%,#0000c7 46.5% 49.3%,#0000a6 50.7% 53.5%,#0000ac 54.8% 57.7%,#0000a8 59.0% 61.8%,#0000b4 63.2% 66.0%,#000bff 67.3% 70.2%,#0000ac 71.5% 74.3%,#0000a4 75.7% 78.5%,#0000a4 79.8% 82.7%,#0000b5 84.0% 86.8%,#0000b1 88.2% 91.0%,#0000b9 92.3% 95.2%,#0000b5 96.5% 99.3%)"></i><i style="left:290px;width:5px;background:linear-gradient(#0000a8 0.7% 3.5%,#0000ac 4.8% 7.7%,#003cff 9.0% 11.8%,#0000a3 13.2% 16.0%,#0000a4 17.3% 20.2%,#001fff 21.5% 24.3%,#e2ff1d 25.7% 28.5%,#ffbc00 29.8% 32.7%,#ff7100 34.0% 36.8%,#ff8700 38.2% 41.0%,#00f3ff 42.3% 45.2%,#0000ab 46.5% 49.3%,#0000c8 50.7% 53.5%,#0000b8 54.8% 57.7%,#0000b9 59.0% 61.8%,#0000ad 63.2% 66.0%,#0000af 67.3% 70.2%,#0000a6 71.5% 74.3%,#0000b7 75.7% 78.5%,#00009f 79.8% 82.7%,#0060ff 84.0% 86.8%,#0000b4 88.2% 91.0%,#0000b4 92.3% 95.2%,#0000a0 96.5% 99.3%)"></i><i style="left:295px;width:6px;background:linear-gradient(#0000ab 0.7% 3.5%,#0000b8 4.8% 7.7%,#0000b7 9.0% 11.8%,#0000fc 13.2% 16.0%,#0000bc 17.3% 20.2%,#0000ac 21.5% 24.3%,#002dff 25.7% 28.5%,#ffe600 29.8% 32.7%,#ff7100 34.0% 36.8%,#ff3b00 38.2% 41.0%,#ff2c00 42.3% 45.2%,#72ff8d 46.5% 49.3%,#0000a3 50.7% 53.5%,#0000b4 54.8% 57.7%,#0000ba 59.0% 61.8%,#0000b0 63.2% 66.0%,#00b0ff 67.3% 70.2%,#0000aa 71.5% 74.3%,#0000a3 75.7% 78.5%,#0000b6 79.8% 82.7%,#0059ff 84.0% 86.8%,#0000d8 88.2% 91.0%,#0000a6 92.3% 95.2%,#0000b9 96.5% 99.3%)"></i><i style="left:301px;width:5px;background:linear-gradient(#0000a4 0.7% 3.5%,#0000bf 4.8% 7.7%,#0000b8 9.0% 11.8%,#0000a0 13.2% 16.0%,#0069ff 17.3% 20.2%,#0000b5 21.5% 24.3%,#0000a5 25.7% 28.5%,#001eff 29.8% 32.7%,#ffdb00 34.0% 36.8%,#ff3b00 38.2% 41.0%,#ff1700 42.3% 45.2%,#ff0400 46.5% 49.3%,#daff25 50.7% 53.5%,#0000c5 54.8% 57.7%,#008cff 59.0% 61.8%,#0000b2 63.2% 66.0%,#0000a8 67.3% 70.2%,#009cff 71.5% 74.3%,#0000b1 75.7% 78.5%,#0000c8 79.8% 82.7%,#0000a8 84.0% 86.8%,#0000b5 88.2% 91.0%,#0000c5 92.3% 95.2%,#0000b6 96.5% 99.3%)"></i><i style="left:306px;width:5px;background:linear-gradient(#0000a2 0.7% 3.5%,#008eff 4.8% 7.7%,#0000ba 9.0% 11.8%,#0000a8 13.2% 16.0%,#0000b8 17.3% 20.2%,#0063ff 21.5% 24.3%,#0000b0 25.7% 28.5%,#0032ff 29.8% 32.7%,#0000f2 34.0% 36.8%,#fff200 38.2% 41.0%,#ff1700 42.3% 45.2%,#ff0400 46.5% 49.3%,#ff0000 50.7% 53.5%,#ffd100 54.8% 57.7%,#002cff 59.0% 61.8%,#0000b4 63.2% 66.0%,#0000ad 67.3% 70.2%,#0044ff 71.5% 74.3%,#0000b2 75.7% 78.5%,#0000b8 79.8% 82.7%,#0071ff 84.0% 86.8%,#0000bd 88.2% 91.0%,#0000a9 92.3% 95.2%,#0000ac 96.5% 99.3%)"></i><i style="left:311px;width:6px;background:linear-gradient(#0000a3 0.7% 3.5%,#0000b3 4.8% 7.7%,#0000ad 9.0% 11.8%,#0000a0 13.2% 16.0%,#0000bb 17.3% 20.2%,#0096ff 21.5% 24.3%,#006aff 25.7% 28.5%,#0000aa 29.8% 32.7%,#0000c9 34.0% 36.8%,#0028ff 38.2% 41.0%,#d7ff28 42.3% 45.2%,#ff0400 46.5% 49.3%,#ff0000 50.7% 53.5%,#ff0700 54.8% 57.7%,#ff9700 59.0% 61.8%,#007bff 63.2% 66.0%,#0000b5 67.3% 70.2%,#0000bc 71.5% 74.3%,#0000ac 75.7% 78.5%,#0000a9 79.8% 82.7%,#0055ff 84.0% 86.8%,#0000b6 88.2% 91.0%,#0000b4 92.3% 95.2%,#0000ad 96.5% 99.3%)"></i><i style="left:317px;width:5px;background:linear-gradient(#0000bb 0.7% 3.5%,#0000ae 4.8% 7.7%,#0000b3 9.0% 11.8%,#0000b1 13.2% 16.0%,#0000b3 17.3% 20.2%,#0000af 21.5% 24.3%,#0000ac 25.7% 28.5%,#0000a4 29.8% 32.7%,#0000ab 34.0% 36.8%,#0000ae 38.2% 41.0%,#0000a8 42.3% 45.2%,#88ff77 46.5% 49.3%,#ff0c00 50.7% 53.5%,#ff0700 54.8% 57.7%,#ff1e00 59.0% 61.8%,#ff7d00 63.2% 66.0%,#00b0ff 67.3% 70.2%,#0000b4 71.5% 74.3%,#0000b6 75.7% 78.5%,#0000a9 79.8% 82.7%,#0000a7 84.0% 86.8%,#0000bc 88.2% 91.0%,#0000ba 92.3% 95.2%,#0000b0 96.5% 99.3%)"></i><i style="left:322px;width:5px;background:linear-gradient(#005fff 0.7% 3.5%,#0000ee 4.8% 7.7%,#0000a0 9.0% 11.8%,#006cff 13.2% 16.0%,#0000ba 17.3% 20.2%,#0000bc 21.5% 24.3%,#0000ac 25.7% 28.5%,#0000a4 29.8% 32.7%,#0000a7 34.0% 36.8%,#0000ae 38.2% 41.0%,#0000bc 42.3% 45.2%,#0000b3 46.5% 49.3%,#22ffdd 50.7% 53.5%,#ff4700 54.8% 57.7%,#ff1e00 59.0% 61.8%,#ff4600 63.2% 66.0%,#ff8800 67.3% 70.2%,#00c9ff 71.5% 74.3%,#0000a2 75.7% 78.5%,#0000ef 79.8% 82.7%,#0000bc 84.0% 86.8%,#0000ab 88.2% 91.0%,#0000ae 92.3% 95.2%,#0000ad 96.5% 99.3%)"></i><i style="left:327px;width:6px;background:linear-gradient(#0000ac 0.7% 3.5%,#002eff 4.8% 7.7%,#005bff 9.0% 11.8%,#0000ac 13.2% 16.0%,#0000d8 17.3% 20.2%,#00009f 21.5% 24.3%,#0000b1 25.7% 28.5%,#0000a2 29.8% 32.7%,#0000a4 34.0% 36.8%,#0000a9 38.2% 41.0%,#0000f7 42.3% 45.2%,#0000ba 46.5% 49.3%,#0000b6 50.7% 53.5%,#00a9ff 54.8% 57.7%,#ffa200 59.0% 61.8%,#ff4600 63.2% 66.0%,#ff8100 67.3% 70.2%,#ffd100 71.5% 74.3%,#00c5ff 75.7% 78.5%,#0000b5 79.8% 82.7%,#0062ff 84.0% 86.8%,#0000c7 88.2% 91.0%,#00009e 92.3% 95.2%,#0000a0 96.5% 99.3%)"></i><i style="left:333px;width:5px;background:linear-gradient(#0000b5 0.7% 3.5%,#0000b8 4.8% 7.7%,#0000ae 9.0% 11.8%,#0000ae 13.2% 16.0%,#0027ff 17.3% 20.2%,#0000b4 21.5% 24.3%,#0000a6 25.7% 28.5%,#0000a1 29.8% 32.7%,#0000b9 34.0% 36.8%,#0000eb 38.2% 41.0%,#0000ad 42.3% 45.2%,#0000a2 46.5% 49.3%,#0000a0 50.7% 53.5%,#0000b5 54.8% 57.7%,#001aff 59.0% 61.8%,#e2ff1d 63.2% 66.0%,#ff8100 67.3% 70.2%,#ffd100 71.5% 74.3%,#c9ff36 75.7% 78.5%,#00a2ff 79.8% 82.7%,#0000bf 84.0% 86.8%,#0000af 88.2% 91.0%,#0020ff 92.3% 95.2%,#0000ab 96.5% 99.3%)"></i><i style="left:338px;width:5px;background:linear-gradient(#0000b6 0.7% 3.5%,#0000ae 4.8% 7.7%,#0000a5 9.0% 11.8%,#0000a1 13.2% 16.0%,#00009f 17.3% 20.2%,#0000a9 21.5% 24.3%,#0000a8 25.7% 28.5%,#0000ba 29.8% 32.7%,#0000b5 34.0% 36.8%,#0000b9 38.2% 41.0%,#0000b0 42.3% 45.2%,#0000a4 46.5% 49.3%,#0000bb 50.7% 53.5%,#0000bb 54.8% 57.7%,#0000a9 59.0% 61.8%,#0000a0 63.2% 66.0%,#4affb5 67.3% 70.2%,#ffd100 71.5% 74.3%,#c9ff36 75.7% 78.5%,#4fffb0 79.8% 82.7%,#0000a4 84.0% 86.8%,#0000b9 88.2% 91.0%,#007dff 92.3% 95.2%,#0000e0 96.5% 99.3%)"></i><i style="left:343px;width:6px;background:linear-gradient(#0000b3 0.7% 3.5%,#0000b5 4.8% 7.7%,#0000a6 9.0% 11.8%,#001aff 13.2% 16.0%,#0000ae 17.3% 20.2%,#0000ad 21.5% 24.3%,#0000a6 25.7% 28.5%,#0000b4 29.8% 32.7%,#0000af 34.0% 36.8%,#0000ba 38.2% 41.0%,#0000b2 42.3% 45.2%,#0000a2 46.5% 49.3%,#0000bb 50.7% 53.5%,#0000b5 54.8% 57.7%,#0000b8 59.0% 61.8%,#0000ca 63.2% 66.0%,#0000a5 67.3% 70.2%,#0095ff 71.5% 74.3%,#adff52 75.7% 78.5%,#78ff87 79.8% 82.7%,#37ffc8 84.0% 86.8%,#0095ff 88.2% 91.0%,#0000e3 92.3% 95.2%,#0000ae 96.5% 99.3%)"></i><i style="left:349px;width:5px;background:linear-gradient(#0000b9 0.7% 3.5%,#0000e3 4.8% 7.7%,#0000b4 9.0% 11.8%,#0000bc 13.2% 16.0%,#0000af 17.3% 20.2%,#0000a7 21.5% 24.3%,#0000a3 25.7% 28.5%,#0000a3 29.8% 32.7%,#0000a6 34.0% 36.8%,#0000ba 38.2% 41.0%,#0000a3 42.3% 45.2%,#0000bc 46.5% 49.3%,#0000b7 50.7% 53.5%,#0000b1 54.8% 57.7%,#004dff 59.0% 61.8%,#67ff98 63.2% 66.0%,#ffb600 67.3% 70.2%,#ff7400 71.5% 74.3%,#ffd300 75.7% 78.5%,#a6ff59 79.8% 82.7%,#002aff 84.0% 86.8%,#0000b3 88.2% 91.0%,#0000a3 92.3% 95.2%,#008eff 96.5% 99.3%)"></i><i style="left:354px;width:6px;background:linear-gradient(#0074ff 0.7% 3.5%,#0000a7 4.8% 7.7%,#0000a5 9.0% 11.8%,#0000aa 13.2% 16.0%,#0000b5 17.3% 20.2%,#0031ff 21.5% 24.3%,#0000c5 25.7% 28.5%,#0000b1 29.8% 32.7%,#0000fa 34.0% 36.8%,#0000b5 38.2% 41.0%,#0000a8 42.3% 45.2%,#000eff 46.5% 49.3%,#5affa5 50.7% 53.5%,#ff8700 54.8% 57.7%,#c00000 59.0% 61.8%,#eb0000 63.2% 66.0%,#ff2800 67.3% 70.2%,#d4ff2b 71.5% 74.3%,#0095ff 75.7% 78.5%,#0054ff 79.8% 82.7%,#0000b6 84.0% 86.8%,#0000aa 88.2% 91.0%,#0000b0 92.3% 95.2%,#0000ba 96.5% 99.3%)"></i><i style="left:360px;width:5px;background:linear-gradient(#004aff 0.7% 3.5%,#0000b0 4.8% 7.7%,#0000a9 9.0% 11.8%,#0000ae 13.2% 16.0%,#0000b9 17.3% 20.2%,#0029ff 21.5% 24.3%,#0000bb 25.7% 28.5%,#0000ac 29.8% 32.7%,#0000ab 34.0% 36.8%,#00daff 38.2% 41.0%,#ffd700 42.3% 45.2%,#c90000 46.5% 49.3%,#960000 50.7% 53.5%,#a40000 54.8% 57.7%,#ff2700 59.0% 61.8%,#98ff67 63.2% 66.0%,#005eff 67.3% 70.2%,#0000ba 71.5% 74.3%,#0000ae 75.7% 78.5%,#0000b8 79.8% 82.7%,#00009f 84.0% 86.8%,#0000a7 88.2% 91.0%,#00009f 92.3% 95.2%,#0000ab 96.5% 99.3%)"></i><i style="left:365px;width:5px;background:linear-gradient(#0000dd 0.7% 3.5%,#0000c7 4.8% 7.7%,#007dff 9.0% 11.8%,#0069ff 13.2% 16.0%,#0000b1 17.3% 20.2%,#005fff 21.5% 24.3%,#0000d7 25.7% 28.5%,#5fffa0 29.8% 32.7%,#ff5200 34.0% 36.8%,#b00000 38.2% 41.0%,#9c0000 42.3% 45.2%,#b40000 46.5% 49.3%,#ffb600 50.7% 53.5%,#07fff8 54.8% 57.7%,#0000a8 59.0% 61.8%,#0000a1 63.2% 66.0%,#0000b2 67.3% 70.2%,#0000ea 71.5% 74.3%,#004fff 75.7% 78.5%,#0000ad 79.8% 82.7%,#0000a6 84.0% 86.8%,#00009f 88.2% 91.0%,#0031ff 92.3% 95.2%,#0000a4 96.5% 99.3%)"></i><i style="left:370px;width:6px;background:linear-gradient(#0000ac 0.7% 3.5%,#0000e7 4.8% 7.7%,#006cff 9.0% 11.8%,#29ffd6 13.2% 16.0%,#a3ff5c 17.3% 20.2%,#fff400 21.5% 24.3%,#ff4b00 25.7% 28.5%,#ff0800 29.8% 32.7%,#d30000 34.0% 36.8%,#ff7800 38.2% 41.0%,#73ff8c 42.3% 45.2%,#0030ff 46.5% 49.3%,#0000b4 50.7% 53.5%,#0000bc 54.8% 57.7%,#0000ad 59.0% 61.8%,#0000a2 63.2% 66.0%,#0000ad 67.3% 70.2%,#0000ac 71.5% 74.3%,#0000b9 75.7% 78.5%,#0000bb 79.8% 82.7%,#0000b6 84.0% 86.8%,#0000b2 88.2% 91.0%,#0000b2 92.3% 95.2%,#0000b0 96.5% 99.3%)"></i><i style="left:376px;width:5px;background:linear-gradient(#0000dd 0.7% 3.5%,#0034ff 4.8% 7.7%,#008dff 9.0% 11.8%,#74ff8b 13.2% 16.0%,#eeff11 17.3% 20.2%,#ffa800 21.5% 24.3%,#ffc100 25.7% 28.5%,#69ff96 29.8% 32.7%,#005aff 34.0% 36.8%,#0000ad 38.2% 41.0%,#0000b7 42.3% 45.2%,#0000ac 46.5% 49.3%,#0000b2 50.7% 53.5%,#0000ad 54.8% 57.7%,#0000ba 59.0% 61.8%,#0000b9 63.2% 66.0%,#00a6ff 67.3% 70.2%,#0000b5 71.5% 74.3%,#0000b2 75.7% 78.5%,#0000c1 79.8% 82.7%,#0000a7 84.0% 86.8%,#0000ad 88.2% 91.0%,#0000cd 92.3% 95.2%,#0000a3 96.5% 99.3%)"></i></div></div>
<div class="hm" style="left:133px;top:466px;width:381px;height:183px"><div class="bl" style="filter:blur(0.55px)"><i style="left:0px;width:2px;background:linear-gradient(#000081,#000081,#000081,#000080,#000080,#000080,#000080,#000080,#000080,#000080,#000080,#000080,#000080,#000080,#000080,#000080,#000081,#000080,#000080,#000080,#000080,#000081,#000081,#000081,#000081,#000080,#000080,#000080,#000080,#000080,#000080,#000080,#000080,#000081,#000081,#000081,#000081,#000080,#000081,#000081,#000081,#000081,#000081,#000081,#000082,#000082,#000083)"></i><i style="left:2px;width:2px;background:linear-gradient(#000080,#000080,#000080,#000080,#000080,#000080,#000080,#000081,#000082,#000082,#000081,#000080,#000080,#000080,#000080,#000080,#000081,#000083,#000083,#000083,#000082,#000082,#000082,#000082,#000081,#000080,#000080,#000080,#000080,#000080,#000080,#000080,#000081,#000080,#000080,#000080,#000080,#000081,#000083,#000083,#000083,#000083,#000082,#000081,#000081,#000081,#000081)"></i><i style="left:4px;width:2px;background:linear-gradient(#000080,#000080,#000080,#000080,#000080,#000080,#000080,#000080,#000080,#000080,#000080,#000080,#000080,#000080,#000080,#000080,#000080,#000080,#000080,#000080,#000080,#000080,#000080,#000081,#000080,#000080,#000080,#000080,#000080,#000080,#000080,#000080,#000080,#000080,#000080,#000080,#000080,#000080,#000080,#000080,#000080,#000080,#000080,#000082,#000083,#000083,#000083)"></i><i style="left:6px;width:2px;background:linear-gradient(#000080,#000080,#000080,#000080,#000080,#000080,#000081,#000080,#000080,#000080,#000080,#000080,#000080,#000080,#000080,#000080,#000080,#000080,#000080,#000080,#000080,#000080,#000080,#000080,#000080,#000080,#000080,#000080,#000080,#000080,#000080,#000080,#000080,#000080,#000080,#000080,#000080,#000080,#000080,#000080,#000080,#000080,#000080,#000081,#000082,#000084,#000085)"></i><i style="left:8px;width:2px;background:linear-gradient(#000080,#000080,#000080,#000080,#000080,#000080,#000080,#000080,#000080,#000080,#000080,#000080,#000080,#000080,#000080,#000080,#000080,#000080,#000080,#000080,#000080,#000080,#000080,#000080,#000080,#000080,#000080,#000080,#000080,#000080,#000080,#000080,#000080,#000080,#000080,#000080,#000080,#000080,#000080,#000080,#000080,#000080,#000080,#000082,#000082,#000082,#000084)"></i><i style="left:10px;width:2px;background:linear-gradient(#000080,#000080,#000080,#000080,#000080,#000080,#000080,#000080,#000080,#000080,#000080,#000080,#000080,#000080,#000080,#000080,#000080,#000081,#000080,#000080,#000080,#000080,#000080,#000080,#000080,#000080,#000080,#000080,#000080,#000081,#000082,#000081,#000081,#000080,#000080,#000080,#000080,#000080,#000081,#000081,#000081,#000081,#000081,#000082,#000083,#000085,#000088)"></i><i style="left:12px;width:2px;background:linear-gradient(#000081,#000080,#000080,#000080,#000080,#000080,#000080,#000080,#000080,#000080,#000080,#000080,#000080,#000080,#000080,#000080,#000080,#000080,#000080,#000080,#000080,#000081,#000082,#000080,#000080,#000080,#000080,#000080,#000080,#000080,#000080,#000081,#000081,#000082,#000083,#000081,#000080,#000080,#000080,#000081,#000081,#000081,#000080,#000080,#000082,#000084,#000088)"></i><i style="left:14px;width:2px;background:linear-gradient(#000081,#000080,#000080,#000080,#000080,#000080,#000081,#000081,#000080,#000080,#000080,#000080,#000080,#000080,#000080,#000080,#000080,#000081,#000081,#000081,#000080,#000080,#000080,#000080,#000081,#000081,#000080,#000080,#000080,#000080,#000080,#000081,#000081,#000082,#000082,#000082,#000082,#000081,#000081,#000081,#000081,#000081,#000081,#000082,#000083,#000086,#000089)"></i><i style="left:16px;width:2px;background:linear-gradient(#000080,#000080,#000080,#000080,#000080,#000080,#000080,#000080,#000080,#000080,#000080,#000080,#000080,#000081,#000081,#000081,#000082,#000081,#000080,#000080,#000080,#000080,#000080,#000080,#000080,#000080,#000080,#000080,#000080,#000080,#000080,#000080,#000080,#000080,#000080,#000080,#000080,#000080,#000080,#000080,#000080,#000080,#000080,#000082,#000084,#000086,#000089)"></i><i style="left:18px;width:2px;background:linear-gradient(#000080,#000080,#000080,#000080,#000080,#000080,#000080,#000080,#000080,#000080,#000080,#000080,#000080,#000080,#000080,#000080,#000080,#000080,#000080,#000080,#000080,#000080,#000080,#000080,#000080,#000080,#000080,#000080,#000080,#000080,#000080,#000080,#000080,#000080,#000080,#000080,#000080,#000080,#000080,#000080,#000080,#000080,#000081,#000082,#000084,#000086,#00008b)"></i><i style="left:20px;width:2px;background:linear-gradient(#000080,#000080,#000080,#000080,#000080,#000080,#000080,#000080,#000080,#000080,#000080,#000080,#000080,#000080,#000080,#000080,#000080,#000080,#000080,#000080,#000080,#000080,#000080,#000080,#000080,#000080,#000080,#000080,#000080,#000080,#000080,#000080,#000080,#000080,#000080,#000080,#000080,#000080,#000080,#000080,#000080,#000080,#000081,#000082,#000084,#000087,#00008e)"></i><i style="left:22px;width:2px;background:linear-gradient(#000081,#000081,#000081,#000081,#000081,#000081,#000080,#000080,#000080,#000080,#000080,#000080,#000080,#000080,#000080,#000080,#000080,#000080,#000081,#000081,#000082,#000082,#000081,#000081,#000080,#000080,#000080,#000082,#000083,#000084,#000083,#000081,#000080,#000080,#000081,#000082,#000082,#000081,#000080,#000080,#000081,#000081,#000082,#000083,#000086,#00008b,#000096)"></i><i style="left:24px;width:2px;background:linear-gradient(#000081,#000080,#000080,#000080,#000080,#000080,#000080,#000080,#000080,#000080,#000080,#000080,#000080,#000080,#000080,#000080,#000080,#000080,#000080,#000080,#000080,#000080,#000080,#000080,#000080,#000080,#000080,#000080,#000080,#000080,#000080,#000080,#000080,#000080,#000080,#000080,#000080,#000080,#000080,#000080,#000080,#000080,#000082,#000084,#000087,#00008c,#000098)"></i><i style="left:26px;width:2px;background:linear-gradient(#000083,#000083,#000083,#000083,#000082,#000082,#000082,#000081,#000080,#000080,#000080,#000080,#000081,#000082,#000082,#000082,#000081,#000081,#000080,#000080,#000081,#000082,#000082,#000082,#000082,#000082,#000082,#000082,#000082,#000081,#000081,#000081,#000082,#000083,#000084,#000083,#000082,#000081,#000082,#000082,#000082,#000083,#000083,#000084,#000088,#00008f,#00009e)"></i><i style="left:28px;width:2px;background:linear-gradient(#000080,#000080,#000080,#000080,#000080,#000080,#000080,#000080,#000080,#000080,#000080,#000080,#000080,#000080,#000080,#000080,#000080,#000080,#000080,#000080,#000080,#000080,#000080,#000080,#000080,#000080,#000080,#000080,#000080,#000080,#000080,#000080,#000080,#000080,#000080,#000080,#000080,#000080,#000080,#000080,#000080,#000080,#000081,#000083,#000088,#000092,#00009c)"></i><i style="left:30px;width:2px;background:linear-gradient(#000080,#000080,#000080,#000080,#000080,#000080,#000080,#000080,#000080,#000080,#000081,#000080,#000080,#000080,#000080,#000080,#000080,#000080,#000080,#000080,#000080,#000080,#000080,#000080,#000080,#000080,#000080,#000080,#000080,#000080,#000080,#000080,#000080,#000080,#000080,#000080,#000080,#000081,#000081,#000081,#000081,#000081,#000082,#000084,#00008a,#000099,#00009d)"></i><i style="left:32px;width:2px;background:linear-gradient(#000081,#000081,#000081,#000081,#000081,#000081,#000080,#000080,#000080,#000080,#000080,#000080,#000080,#000080,#000080,#000080,#000080,#000080,#000080,#000080,#000080,#000080,#000080,#000080,#000080,#000080,#000080,#000080,#000080,#000080,#000080,#000080,#000080,#000080,#000080,#000080,#000080,#000080,#000080,#000080,#000080,#000082,#000084,#000088,#000091,#00009f,#00009e)"></i><i style="left:34px;width:2px;background:linear-gradient(#000081,#000081,#000080,#000080,#000080,#000080,#000080,#000081,#000080,#000080,#000080,#000080,#000080,#000080,#000080,#000080,#000080,#000080,#000080,#000080,#000080,#000080,#000080,#000080,#000080,#000080,#000080,#000080,#000080,#000080,#000080,#000080,#000080,#000080,#000080,#000080,#000080,#000080,#000080,#000080,#000081,#000083,#000086,#00008b,#000097,#0000a1,#0000a1)"></i><i style="left:36px;width:2px;background:linear-gradient(#000082,#000082,#000082,#000081,#000081,#000080,#000080,#000080,#000080,#000080,#000080,#000080,#000080,#000080,#000080,#000080,#000080,#000080,#000080,#000080,#000080,#000080,#000080,#000080,#000081,#000081,#000082,#000082,#000081,#000081,#000081,#000081,#000081,#000081,#000081,#000081,#000081,#000082,#000083,#000082,#000081,#000081,#000085,#00008d,#00009d,#00009f,#00009f)"></i><i style="left:38px;width:2px;background:linear-gradient(#000083,#000081,#000080,#000080,#000080,#000080,#000080,#000080,#000080,#000080,#000080,#000080,#000080,#000080,#000080,#000081,#000080,#000080,#000080,#000080,#000080,#000080,#000080,#000080,#000080,#000080,#000080,#000080,#000080,#000080,#000080,#000080,#000080,#000081,#000080,#000080,#000080,#000081,#000082,#000083,#000083,#000084,#000087,#00008f,#00009d,#00009d,#00009a)"></i><i style="left:40px;width:2px;background:linear-gradient(#000084,#000082,#000082,#000081,#000081,#000080,#000081,#000081,#000081,#000082,#000082,#000081,#000080,#000080,#000080,#000080,#000080,#000080,#000080,#000080,#000080,#000080,#000080,#000080,#000080,#000081,#000081,#000081,#000081,#000081,#000081,#000081,#000081,#000081,#000081,#000081,#000081,#000081,#000082,#000084,#000086,#000086,#00008a,#000093,#00009c,#00009e,#000096)"></i><i style="left:42px;width:2px;background:linear-gradient(#000083,#000082,#000081,#000081,#000080,#000080,#000080,#000080,#000080,#000080,#000080,#000080,#000080,#000080,#000080,#000081,#000080,#000080,#000080,#000080,#000080,#000080,#000080,#000080,#000080,#000080,#000080,#000080,#000080,#000080,#000080,#000080,#000080,#000080,#000080,#000080,#000080,#000080,#000080,#000080,#000082,#000086,#00008e,#00009c,#00009d,#00009c,#00008f)"></i><i style="left:44px;width:2px;background:linear-gradient(#000082,#000082,#000081,#000081,#000080,#000080,#000080,#000081,#000080,#000080,#000080,#000080,#000080,#000080,#000080,#000080,#000080,#000080,#000080,#000080,#000080,#000080,#000081,#000080,#000080,#000080,#000080,#000080,#000080,#000080,#000080,#000080,#000080,#000080,#000080,#000080,#000080,#000080,#000080,#000081,#000084,#000088,#000091,#00009e,#00009d,#000097,#00008b)"></i><i style="left:46px;width:2px;background:linear-gradient(#000083,#000082,#000081,#000080,#000080,#000080,#000080,#000080,#000080,#000080,#000080,#000080,#000080,#000080,#000080,#000080,#000080,#000080,#000080,#000080,#000080,#000080,#000080,#000080,#000080,#000080,#000080,#000080,#000080,#000080,#000080,#000080,#000080,#000080,#000080,#000080,#000080,#000080,#000080,#000081,#000083,#000088,#000094,#00009d,#00009d,#000094,#00008c)"></i><i style="left:48px;width:2px;background:linear-gradient(#000084,#000083,#000081,#000080,#000080,#000080,#000080,#000080,#000080,#000080,#000080,#000080,#000080,#000080,#000080,#000080,#000080,#000080,#000080,#000080,#000080,#000080,#000080,#000080,#000080,#000080,#000080,#000080,#000080,#000081,#000081,#000082,#000081,#000080,#000080,#000080,#000080,#000081,#000082,#000084,#000088,#00008f,#00009f,#00009f,#00009f,#000092,#00008b)"></i><i style="left:50px;width:2px;background:linear-gradient(#000083,#000083,#000082,#000081,#000080,#000080,#000080,#000080,#000080,#000080,#000080,#000080,#000080,#000080,#000080,#000080,#000080,#000080,#000080,#000080,#000080,#000080,#000080,#000080,#000080,#000080,#000080,#000080,#000080,#000080,#000080,#000080,#000080,#000080,#000080,#000080,#000080,#000082,#000084,#000086,#00008a,#000092,#00009f,#00009f,#00009a,#00008e,#000088)"></i><i style="left:52px;width:2px;background:linear-gradient(#000085,#000084,#000083,#000083,#000082,#000082,#000081,#000080,#000080,#000080,#000080,#000080,#000080,#000081,#000081,#000080,#000080,#000080,#000080,#000080,#000080,#000080,#000080,#000080,#000080,#000080,#000080,#000082,#000083,#000082,#000081,#000080,#000080,#000080,#000080,#000081,#000082,#000083,#000085,#000088,#00008d,#000099,#00009e,#00009e,#000094,#00008c,#000088)"></i><i style="left:54px;width:2px;background:linear-gradient(#00008a,#000088,#000087,#000086,#000085,#000084,#000083,#000083,#000083,#000084,#000084,#000083,#000082,#000082,#000082,#000082,#000082,#000082,#000082,#000082,#000082,#000082,#000082,#000082,#000082,#000082,#000082,#000082,#000083,#000083,#000084,#000084,#000084,#000084,#000085,#000085,#000086,#000087,#000089,#00008d,#000094,#0000a4,#0000a3,#0000a2,#000095,#00008e,#00008b)"></i><i style="left:56px;width:2px;background:linear-gradient(#000087,#000083,#000082,#000081,#000081,#000081,#000080,#000080,#000080,#000080,#000080,#000080,#000080,#000081,#000081,#000080,#000080,#000080,#000080,#000080,#000080,#000080,#000080,#000080,#000080,#000080,#000080,#000080,#000080,#000080,#000080,#000080,#000080,#000080,#000080,#000081,#000081,#000082,#000083,#000088,#000092,#00009f,#00009e,#000098,#00008f,#00008a,#000088)"></i><i style="left:58px;width:2px;background:linear-gradient(#00008b,#000088,#000086,#000084,#000083,#000082,#000082,#000082,#000081,#000080,#000080,#000080,#000080,#000080,#000080,#000080,#000080,#000080,#000080,#000080,#000080,#000080,#000080,#000080,#000080,#000080,#000080,#000080,#000081,#000081,#000081,#000080,#000080,#000080,#000080,#000082,#000084,#000087,#00008b,#000095,#0000aa,#0000b4,#0000b5,#0000a8,#00009d,#000096,#000092)"></i><i style="left:60px;width:2px;background:linear-gradient(#00008b,#000087,#000086,#000085,#000084,#000082,#000081,#000081,#000081,#000080,#000081,#000081,#000081,#000081,#000080,#000080,#000080,#000080,#000080,#000080,#000081,#000082,#000081,#000081,#000081,#000080,#000080,#000080,#000080,#000081,#000081,#000082,#000082,#000083,#000084,#000086,#000088,#00008c,#000093,#0000a3,#0000be,#0000b8,#0000b0,#0000ae,#0000a3,#00009c,#000099)"></i><i style="left:62px;width:2px;background:linear-gradient(#000090,#000089,#000086,#000084,#000082,#000081,#000081,#000080,#000080,#000080,#000081,#000081,#000080,#000080,#000080,#000080,#000080,#000080,#000080,#000080,#000080,#000080,#000081,#000081,#000081,#000080,#000080,#000080,#000080,#000080,#000080,#000081,#000082,#000082,#000083,#000086,#00008a,#000091,#00009f,#0000bc,#0000e1,#0000e1,#0000d5,#0000ba,#0000ad,#0000a5,#00009f)"></i><i style="left:64px;width:2px;background:linear-gradient(#000094,#00008b,#000086,#000084,#000084,#000084,#000083,#000082,#000080,#000080,#000080,#000081,#000081,#000081,#000080,#000080,#000080,#000080,#000080,#000080,#000080,#000080,#000080,#000081,#000081,#000082,#000082,#000082,#000082,#000082,#000083,#000084,#000086,#000087,#000089,#00008c,#000091,#00009a,#0000af,#0000e8,#0000f6,#0000f1,#0000d1,#0000b6,#0000b2,#0000aa,#0000a6)"></i><i style="left:66px;width:2px;background:linear-gradient(#000097,#00008c,#000087,#000083,#000082,#000080,#000080,#000080,#000080,#000080,#000080,#000080,#000080,#000080,#000080,#000080,#000080,#000080,#000080,#000081,#000080,#000080,#000080,#000080,#000080,#000080,#000080,#000080,#000081,#000082,#000082,#000082,#000083,#000084,#000085,#00008a,#000092,#0000a2,#0000bc,#0003ff,#000cff,#0007ff,#0000df,#0000c7,#0000ba,#0000b2,#0000ac)"></i><i style="left:68px;width:2px;background:linear-gradient(#0000a0,#000091,#00008b,#000087,#000084,#000081,#000081,#000081,#000081,#000081,#000080,#000080,#000080,#000081,#000081,#000081,#000082,#000082,#000081,#000081,#000080,#000081,#000082,#000083,#000083,#000082,#000082,#000083,#000084,#000085,#000085,#000086,#000087,#000089,#00008d,#000093,#00009f,#0000b6,#0000fd,#0031ff,#0029ff,#000aff,#0000ed,#0000e1,#0000db,#0000bd,#0000b7)"></i><i style="left:70px;width:2px;background:linear-gradient(#0000a5,#000091,#000088,#000084,#000082,#000081,#000081,#000080,#000080,#000080,#000080,#000080,#000080,#000080,#000081,#000081,#000080,#000080,#000080,#000080,#000081,#000082,#000081,#000080,#000080,#000080,#000080,#000080,#000080,#000080,#000082,#000083,#000085,#000087,#00008c,#000095,#0000a5,#0000c6,#001dff,#003fff,#003fff,#0017ff,#0000f5,#0000d9,#0000c5,#0000b8,#0000ba)"></i><i style="left:72px;width:2px;background:linear-gradient(#0000b2,#000099,#00008f,#000089,#000086,#000083,#000082,#000081,#000081,#000081,#000081,#000081,#000081,#000081,#000080,#000080,#000080,#000080,#000080,#000080,#000080,#000080,#000080,#000081,#000081,#000081,#000081,#000081,#000082,#000083,#000085,#000086,#000089,#00008c,#000093,#00009e,#0000b4,#0000e8,#003fff,#003eff,#0034ff,#0007ff,#0000ef,#0000e2,#0000db,#0000d1,#0000c8)"></i><i style="left:74px;width:2px;background:linear-gradient(#0000b3,#00009e,#00008f,#000087,#000084,#000083,#000083,#000082,#000081,#000081,#000080,#000080,#000080,#000080,#000080,#000080,#000080,#000080,#000080,#000080,#000080,#000080,#000081,#000082,#000083,#000082,#000081,#000081,#000082,#000083,#000085,#000087,#00008a,#00008f,#000097,#0000a6,#0000c3,#000cff,#004fff,#0052ff,#0036ff,#000eff,#0000f4,#0000e7,#0000df,#0000da,#0000d4)"></i><i style="left:76px;width:2px;background:linear-gradient(#0000b4,#0000a8,#000093,#00008a,#000087,#000085,#000085,#000084,#000083,#000083,#000083,#000083,#000083,#000081,#000080,#000080,#000080,#000080,#000081,#000081,#000082,#000082,#000082,#000082,#000082,#000081,#000081,#000081,#000082,#000083,#000085,#000088,#00008d,#000093,#00009d,#0000b0,#0000d2,#0042ff,#0068ff,#006fff,#0033ff,#0004ff,#0000e3,#0000cb,#0000b8,#0000af,#0000b6)"></i><i style="left:78px;width:2px;background:linear-gradient(#0000b5,#0000b4,#000098,#00008d,#000087,#000084,#000082,#000081,#000080,#000080,#000080,#000080,#000080,#000080,#000080,#000080,#000080,#000080,#000080,#000080,#000080,#000080,#000080,#000080,#000080,#000080,#000080,#000081,#000082,#000084,#000086,#00008a,#00008f,#000097,#0000a5,#0000be,#0004ff,#0079ff,#0082ff,#006fff,#0037ff,#0010ff,#0000eb,#0000cf,#0000bb,#0000bd,#0000c0)"></i><i style="left:80px;width:2px;background:linear-gradient(#0000ad,#0000ae,#00009c,#00008e,#000088,#000085,#000084,#000083,#000082,#000080,#000080,#000080,#000080,#000080,#000080,#000080,#000080,#000080,#000080,#000080,#000080,#000080,#000080,#000080,#000080,#000080,#000080,#000080,#000082,#000084,#000087,#00008b,#000091,#00009b,#0000ae,#0000c7,#0026ff,#007aff,#0084ff,#004fff,#0013ff,#0000eb,#0000de,#0000d6,#0000d1,#0000cd,#0000ca)"></i><i style="left:82px;width:2px;background:linear-gradient(#0000b2,#0000b3,#0000aa,#000095,#00008c,#000087,#000085,#000083,#000081,#000080,#000080,#000080,#000080,#000080,#000080,#000080,#000080,#000080,#000080,#000080,#000080,#000080,#000080,#000080,#000080,#000081,#000081,#000082,#000084,#000086,#00008a,#00008f,#000097,#0000a4,#0000be,#0000f0,#0069ff,#0079ff,#0084ff,#0058ff,#0032ff,#0009ff,#0000e9,#0000d4,#0000ce,#0000cb,#0000c7)"></i><i style="left:84px;width:2px;background:linear-gradient(#0000af,#0000b2,#0000b3,#00009a,#00008f,#00008a,#000087,#000085,#000084,#000083,#000081,#000080,#000080,#000080,#000080,#000080,#000080,#000081,#000081,#000081,#000080,#000080,#000080,#000081,#000081,#000082,#000084,#000086,#000088,#00008b,#00008f,#000095,#0000a0,#0000b2,#0000ec,#0039ff,#00b0ff,#00b5ff,#00a9ff,#0073ff,#0046ff,#0027ff,#0011ff,#0000fe,#0000f0,#0000e5,#0000e4)"></i><i style="left:86px;width:2px;background:linear-gradient(#0000a4,#0000b0,#0000ae,#00009c,#00008e,#000088,#000085,#000083,#000083,#000081,#000080,#000080,#000080,#000080,#000080,#000080,#000080,#000080,#000080,#000080,#000080,#000080,#000080,#000081,#000081,#000082,#000083,#000084,#000085,#000088,#00008d,#000095,#0000a2,#0000ba,#0000f2,#006bff,#00b2ff,#009dff,#0063ff,#002eff,#000cff,#0000f2,#0000f5,#0004ff,#0014ff,#0008ff,#0000f1)"></i><i style="left:88px;width:2px;background:linear-gradient(#0000a1,#0000bb,#0000bb,#0000b0,#000097,#00008c,#000087,#000085,#000083,#000083,#000082,#000081,#000081,#000081,#000082,#000082,#000081,#000081,#000081,#000081,#000080,#000080,#000080,#000080,#000080,#000082,#000085,#000088,#00008a,#00008e,#000093,#00009c,#0000ab,#0000c9,#0013ff,#00baff,#00c6ff,#00adff,#005dff,#0029ff,#0013ff,#0005ff,#0000ff,#0008ff,#0011ff,#0011ff,#0000fc)"></i><i style="left:90px;width:2px;background:linear-gradient(#0000b5,#0000f4,#0000f8,#0001ff,#0000c9,#0000a7,#000097,#00008d,#000087,#000085,#000084,#000084,#000084,#000082,#000081,#000080,#000080,#000080,#000080,#000080,#000080,#000080,#000080,#000080,#000080,#000081,#000084,#000086,#000089,#00008e,#000095,#0000a1,#0000b7,#0000df,#002cff,#0093ff,#008eff,#0083ff,#0055ff,#0035ff,#001fff,#0011ff,#0006ff,#0000fd,#0000f8,#0000ef,#0000e3)"></i><i style="left:92px;width:2px;background:linear-gradient(#0000de,#0032ff,#0069ff,#005dff,#0009ff,#0000c6,#0000aa,#00009a,#000091,#00008c,#000088,#000086,#000084,#000082,#000081,#000081,#000080,#000081,#000081,#000081,#000081,#000082,#000082,#000083,#000084,#000086,#000088,#00008b,#00008f,#000094,#00009d,#0000ac,#0000d9,#0013ff,#0099ff,#00ebff,#00e7ff,#00b6ff,#007dff,#0055ff,#0038ff,#0021ff,#0010ff,#0006ff,#000cff,#0012ff,#0014ff)"></i><i style="left:94px;width:2px;background:linear-gradient(#0000d5,#0027ff,#00aaff,#00a2ff,#006cff,#0000ee,#0000bf,#0000a9,#00009b,#000093,#00008d,#00008a,#000087,#000086,#000085,#000086,#000087,#000088,#00008a,#00008b,#00008c,#00008c,#00008c,#00008c,#00008a,#000087,#000086,#000089,#00008e,#000095,#0000a1,#0000b4,#0000df,#0027ff,#00d0ff,#00c8ff,#00c6ff,#0086ff,#0063ff,#005bff,#005aff,#0050ff,#0039ff,#0027ff,#0019ff,#0011ff,#000bff)"></i><i style="left:96px;width:2px;background:linear-gradient(#0000c1,#0005ff,#009eff,#00abff,#009dff,#000dff,#0000c8,#0000b9,#0000a4,#000098,#000090,#000090,#000092,#000093,#000094,#000094,#000095,#000095,#000096,#000096,#000097,#000097,#000097,#000097,#000098,#000098,#000099,#000099,#000099,#00009b,#0000a5,#0000b9,#0000e3,#003fff,#00b1ff,#00b0ff,#00a0ff,#0070ff,#0047ff,#0026ff,#000eff,#0004ff,#0001ff,#0000ff,#0000f7,#0000ed,#0000e4)"></i><i style="left:98px;width:2px;background:linear-gradient(#0000db,#001cff,#00b6ff,#39ffc6,#3fffc0,#00afff,#0022ff,#0000df,#0000b5,#0000ae,#0000ab,#0000a9,#0000a8,#0000a8,#0000a7,#0000a7,#0000a7,#0000a8,#0000a9,#0000aa,#0000ac,#0000ad,#0000ae,#0000af,#0000af,#0000af,#0000b1,#0000b4,#0000b7,#0000b5,#0000b7,#0000c8,#0004ff,#00a1ff,#01fffe,#02fffd,#00d1ff,#009aff,#0070ff,#0051ff,#003bff,#002cff,#0020ff,#0019ff,#0014ff,#0010ff,#0009ff)"></i><i style="left:100px;width:2px;background:linear-gradient(#0000d9,#0008ff,#006fff,#21ffde,#1bffe4,#00d9ff,#003bff,#0011ff,#0004ff,#0000f7,#0000e2,#0000d2,#0000c9,#0000cb,#0000cd,#0000cd,#0000bf,#0000be,#0000be,#0000c1,#0000be,#0000bf,#0000c7,#0000ce,#0000d4,#0000d6,#0000da,#0000dd,#0000e2,#0000ec,#0002ff,#002fff,#0085ff,#35ffca,#27ffd8,#16ffe9,#00caff,#009fff,#0081ff,#0069ff,#0055ff,#0046ff,#003eff,#0040ff,#0042ff,#003cff,#0029ff)"></i><i style="left:102px;width:2px;background:linear-gradient(#0000b7,#0000d2,#0031ff,#00f6ff,#1affe5,#13ffec,#0080ff,#0034ff,#0010ff,#0000fb,#0000f1,#0000ec,#0000e9,#0000e7,#0000e7,#0000e5,#0000e2,#0000e0,#0000da,#0000d1,#0000c8,#0000cd,#0000d9,#0000e6,#0000e8,#0000e5,#0000e3,#0000e5,#0000ec,#0000f8,#0014ff,#0045ff,#00a0ff,#00fdff,#00faff,#00dcff,#00a5ff,#0080ff,#0066ff,#0050ff,#003dff,#0030ff,#001cff,#0007ff,#0000f3,#0000f0,#0000f4)"></i><i style="left:104px;width:2px;background:linear-gradient(#0000b4,#0000d0,#0015ff,#00c5ff,#3effc1,#4cffb3,#00fdff,#009aff,#0061ff,#003aff,#0022ff,#000dff,#0000fa,#0000ec,#0000e7,#0000eb,#0000f0,#0000f0,#0000ea,#0000e5,#0000e5,#0000e8,#0000ec,#0000f3,#0000fd,#000aff,#0012ff,#0015ff,#001dff,#003aff,#0074ff,#00cdff,#4cffb3,#6cff93,#5effa1,#1effe1,#00e1ff,#00b5ff,#0097ff,#0082ff,#0073ff,#0066ff,#005aff,#0050ff,#0042ff,#0031ff,#0020ff)"></i><i style="left:106px;width:2px;background:linear-gradient(#0000ac,#0000e9,#0053ff,#00dcff,#6cff93,#6fff90,#3fffc0,#00b6ff,#0065ff,#004bff,#003fff,#003bff,#002dff,#0020ff,#0016ff,#000aff,#0000fd,#0000f3,#0000f3,#0000f4,#0000f7,#000aff,#001fff,#0036ff,#0030ff,#0027ff,#0021ff,#0028ff,#0037ff,#004dff,#007dff,#00c8ff,#37ffc8,#30ffcf,#20ffdf,#00d1ff,#00a2ff,#0081ff,#0068ff,#0055ff,#0046ff,#003bff,#0030ff,#0026ff,#001eff,#0012ff,#0005ff)"></i><i style="left:108px;width:2px;background:linear-gradient(#0000de,#0026ff,#0083ff,#00ddff,#3cffc3,#2effd1,#21ffde,#00c2ff,#007aff,#0061ff,#0059ff,#0059ff,#0048ff,#0035ff,#0025ff,#0017ff,#000dff,#0005ff,#0000ff,#0000fd,#0000fc,#0005ff,#0013ff,#0023ff,#002fff,#003cff,#004dff,#0057ff,#0064ff,#007aff,#00baff,#25ffda,#87ff78,#77ff88,#33ffcc,#00d5ff,#00a4ff,#0086ff,#0070ff,#0057ff,#0040ff,#002dff,#0031ff,#003cff,#0049ff,#0041ff,#0033ff)"></i><i style="left:110px;width:2px;background:linear-gradient(#0000e2,#001cff,#0063ff,#00b8ff,#13ffec,#42ffbd,#42ffbd,#06fff9,#00b3ff,#007cff,#0065ff,#0053ff,#0046ff,#002bff,#0012ff,#0000fb,#0000f6,#0000f4,#0000f5,#0000f8,#0000fd,#0004ff,#0009ff,#0010ff,#0019ff,#0025ff,#0035ff,#004bff,#006cff,#009aff,#00d5ff,#19ffe6,#20ffdf,#12ffed,#00ecff,#00c9ff,#00b0ff,#0099ff,#0087ff,#007bff,#0063ff,#004bff,#0037ff,#0031ff,#002fff,#002eff,#001eff)"></i><i style="left:112px;width:2px;background:linear-gradient(#0004ff,#0025ff,#0048ff,#008bff,#00e5ff,#41ffbe,#4affb5,#3cffc3,#00eaff,#00a9ff,#0077ff,#0050ff,#003bff,#002eff,#0025ff,#001aff,#0011ff,#000bff,#0005ff,#0001ff,#0000fe,#0004ff,#000eff,#001bff,#0026ff,#0032ff,#0043ff,#005aff,#0078ff,#00a2ff,#00e2ff,#32ffcd,#38ffc7,#4cffb3,#27ffd8,#0dfff2,#00dcff,#00acff,#0086ff,#006cff,#0059ff,#004aff,#003bff,#002eff,#0022ff,#001fff,#0021ff)"></i><i style="left:114px;width:2px;background:linear-gradient(#001bff,#0053ff,#009cff,#00eeff,#34ffcb,#75ff8a,#83ff7c,#73ff8c,#13ffec,#00bbff,#008aff,#006aff,#0052ff,#0039ff,#0022ff,#000fff,#000dff,#0012ff,#0019ff,#000fff,#0001ff,#0000f4,#0000fa,#000bff,#001fff,#0032ff,#0048ff,#0065ff,#008fff,#00c7ff,#13ffec,#44ffbb,#45ffba,#22ffdd,#00e5ff,#00b7ff,#0095ff,#0074ff,#0058ff,#0041ff,#0037ff,#0033ff,#0031ff,#002fff,#002dff,#002bff,#0027ff)"></i><i style="left:116px;width:2px;background:linear-gradient(#006fff,#009bff,#00bdff,#00deff,#02fffd,#51ffae,#93ff6c,#aaff55,#57ffa8,#00e8ff,#0099ff,#0072ff,#0055ff,#003eff,#002bff,#001cff,#0012ff,#000cff,#0009ff,#0009ff,#0010ff,#001aff,#0026ff,#0036ff,#004aff,#0060ff,#006aff,#007aff,#0095ff,#00d2ff,#25ffda,#3bffc4,#4affb5,#1effe1,#00f1ff,#00d2ff,#00bbff,#00a7ff,#0081ff,#0062ff,#004aff,#0048ff,#0046ff,#0046ff,#0046ff,#0047ff,#0047ff)"></i><i style="left:118px;width:2px;background:linear-gradient(#0065ff,#008aff,#00adff,#00cdff,#00f6ff,#2bffd4,#5cffa3,#5effa1,#52ffad,#00fdff,#00bfff,#0091ff,#006aff,#004cff,#0035ff,#002cff,#0027ff,#0026ff,#001aff,#0010ff,#0008ff,#0010ff,#001aff,#0029ff,#0041ff,#005fff,#0086ff,#00b3ff,#00edff,#3dffc2,#7eff81,#6aff95,#4affb5,#0dfff2,#00dfff,#00bcff,#00a4ff,#0092ff,#0084ff,#006dff,#0059ff,#0048ff,#0045ff,#0044ff,#0043ff,#0037ff,#002bff)"></i><i style="left:120px;width:2px;background:linear-gradient(#006eff,#0095ff,#00bcff,#00e9ff,#00fbff,#15ffea,#3affc5,#5bffa4,#71ff8e,#38ffc7,#00ddff,#009aff,#0068ff,#0052ff,#0042ff,#0037ff,#002dff,#0028ff,#0025ff,#0025ff,#0028ff,#002eff,#0036ff,#0042ff,#0053ff,#0073ff,#009cff,#00d2ff,#0bfff4,#56ffa9,#7eff81,#89ff76,#69ff96,#2effd1,#00f8ff,#00d0ff,#00b0ff,#008cff,#006eff,#0055ff,#004eff,#0049ff,#0046ff,#0055ff,#0064ff,#0072ff,#0060ff)"></i><i style="left:122px;width:2px;background:linear-gradient(#009cff,#00a3ff,#00adff,#00cdff,#03fffc,#44ffbb,#87ff78,#adff52,#afff50,#72ff8d,#08fff7,#00b7ff,#0089ff,#0071ff,#0061ff,#0052ff,#0046ff,#003eff,#003dff,#0041ff,#0049ff,#004dff,#004eff,#0055ff,#0066ff,#0082ff,#00a9ff,#00e0ff,#2fffd0,#98ff67,#9fff60,#8bff74,#34ffcb,#00f6ff,#00d2ff,#00b7ff,#00a1ff,#0090ff,#0082ff,#007aff,#0074ff,#0071ff,#006fff,#006eff,#006fff,#006aff,#0061ff)"></i><i style="left:124px;width:2px;background:linear-gradient(#0084ff,#0088ff,#00a2ff,#00c7ff,#00f5ff,#19ffe6,#41ffbe,#6eff91,#78ff87,#7dff82,#2dffd2,#00d4ff,#0088ff,#004eff,#002fff,#001cff,#000eff,#000cff,#0010ff,#0018ff,#0013ff,#000bff,#0006ff,#001fff,#0047ff,#007bff,#00a6ff,#00d6ff,#19ffe6,#6fff90,#80ff7f,#7eff81,#2dffd2,#00e8ff,#00b3ff,#0092ff,#007aff,#0068ff,#005cff,#0054ff,#004eff,#0048ff,#0043ff,#003eff,#003bff,#0038ff,#0036ff)"></i><i style="left:126px;width:2px;background:linear-gradient(#0080ff,#008dff,#0098ff,#00a8ff,#00c9ff,#00f6ff,#30ffcf,#71ff8e,#87ff78,#8eff71,#3affc5,#00e3ff,#00a4ff,#0073ff,#004eff,#0032ff,#0024ff,#001dff,#001aff,#000fff,#0004ff,#0000fc,#0020ff,#0058ff,#009cff,#00c4ff,#00e9ff,#1effe1,#7bff84,#b4ff4b,#bbff44,#7aff85,#20ffdf,#00d9ff,#00b6ff,#00a1ff,#0092ff,#0079ff,#0060ff,#004bff,#003cff,#002fff,#0024ff,#002cff,#003bff,#0049ff,#0044ff)"></i><i style="left:128px;width:2px;background:linear-gradient(#00a0ff,#00afff,#00bbff,#00c8ff,#00dbff,#00f6ff,#1effe1,#51ffae,#72ff8d,#6eff91,#3fffc0,#00f3ff,#00c2ff,#009eff,#007fff,#0065ff,#0052ff,#003aff,#0021ff,#000cff,#000fff,#0021ff,#0039ff,#005aff,#0086ff,#00c0ff,#00faff,#3bffc4,#91ff6e,#99ff66,#a1ff5e,#5affa5,#13ffec,#00d4ff,#00a4ff,#0089ff,#007bff,#0070ff,#005fff,#004cff,#003bff,#0036ff,#0037ff,#0039ff,#0034ff,#0029ff,#0020ff)"></i><i style="left:130px;width:2px;background:linear-gradient(#0093ff,#009eff,#009fff,#00a3ff,#00b8ff,#00f3ff,#3cffc3,#81ff7e,#9dff62,#7bff84,#62ff9d,#1cffe3,#00e8ff,#00baff,#0082ff,#0057ff,#0039ff,#002bff,#0023ff,#0022ff,#002bff,#0038ff,#004bff,#0062ff,#0082ff,#00b2ff,#00ffff,#68ff97,#ceff31,#d7ff28,#c6ff39,#6eff91,#16ffe9,#00d0ff,#00a9ff,#00acff,#00b1ff,#00acff,#008cff,#006fff,#005cff,#005aff,#0059ff,#0057ff,#004fff,#0049ff,#0043ff)"></i><i style="left:132px;width:2px;background:linear-gradient(#006eff,#0068ff,#006fff,#0087ff,#00a3ff,#00bdff,#00d1ff,#00edff,#1dffe2,#32ffcd,#38ffc7,#00fcff,#00bfff,#0092ff,#0073ff,#005eff,#0052ff,#0045ff,#0036ff,#002cff,#0030ff,#0044ff,#0060ff,#0080ff,#00a6ff,#00d9ff,#1dffe2,#75ff8a,#99ff66,#96ff69,#64ff9b,#1fffe0,#00deff,#009eff,#006bff,#0047ff,#0030ff,#001eff,#0019ff,#0024ff,#0030ff,#002fff,#001dff,#000cff,#0006ff,#000dff,#0015ff)"></i><i style="left:134px;width:2px;background:linear-gradient(#00a8ff,#00a9ff,#00aaff,#00aeff,#00b5ff,#00c0ff,#00cfff,#00ebff,#31ffce,#6cff93,#7cff83,#45ffba,#00e5ff,#00a2ff,#0086ff,#0074ff,#006aff,#0065ff,#0067ff,#006dff,#0063ff,#0060ff,#0069ff,#0094ff,#00cdff,#18ffe7,#68ff97,#d5ff2a,#d6ff29,#e0ff1f,#8fff70,#4bffb4,#0dfff2,#00dcff,#00b6ff,#0092ff,#0074ff,#005fff,#0060ff,#0062ff,#0064ff,#0059ff,#0051ff,#0048ff,#003eff,#0035ff,#002dff)"></i><i style="left:136px;width:2px;background:linear-gradient(#00a2ff,#00a9ff,#00b3ff,#00c0ff,#00ceff,#00e0ff,#00fbff,#2bffd4,#68ff97,#adff52,#9fff60,#8bff74,#22ffdd,#00e9ff,#00c0ff,#00a3ff,#0089ff,#007aff,#0075ff,#007aff,#0089ff,#009eff,#00b0ff,#00ccff,#00f6ff,#35ffca,#89ff76,#d6ff29,#eaff15,#deff21,#8bff74,#26ffd9,#00d5ff,#009dff,#008eff,#0085ff,#007dff,#006eff,#0061ff,#0055ff,#0042ff,#0031ff,#0026ff,#003aff,#004eff,#005bff,#004dff)"></i><i style="left:138px;width:2px;background:linear-gradient(#00aeff,#00b8ff,#00c7ff,#00daff,#00f2ff,#0cfff3,#2cffd3,#55ffaa,#77ff88,#a1ff5e,#9dff62,#abff54,#71ff8e,#2cffd3,#00e4ff,#00adff,#0085ff,#0078ff,#0077ff,#007fff,#0084ff,#0090ff,#00a6ff,#00cdff,#05fffa,#51ffae,#b5ff4a,#daff25,#d3ff2c,#adff52,#79ff86,#52ffad,#21ffde,#00f7ff,#00d7ff,#00b9ff,#009fff,#008aff,#0074ff,#0060ff,#004fff,#004aff,#0047ff,#0046ff,#0047ff,#0049ff,#004cff)"></i><i style="left:140px;width:2px;background:linear-gradient(#007dff,#0088ff,#0095ff,#00b5ff,#00dcff,#09fff6,#1effe1,#39ffc6,#5effa1,#91ff6e,#b5ff4a,#aaff55,#8dff72,#3cffc3,#01fffe,#00b6ff,#007dff,#0054ff,#004eff,#0052ff,#005fff,#0083ff,#00b4ff,#00f7ff,#22ffdd,#5affa5,#a6ff59,#a7ff58,#aaff55,#55ffaa,#1effe1,#00f4ff,#00d5ff,#00adff,#008cff,#0071ff,#0063ff,#0058ff,#0050ff,#004dff,#004cff,#004cff,#003aff,#0027ff,#0016ff,#001fff,#002aff)"></i><i style="left:142px;width:2px;background:linear-gradient(#0070ff,#007cff,#008cff,#009fff,#00aeff,#00bbff,#00ccff,#00ecff,#20ffdf,#60ff9f,#a1ff5e,#8fff70,#7aff85,#11ffee,#00c9ff,#0096ff,#007aff,#0070ff,#006fff,#0073ff,#007aff,#008cff,#00a9ff,#00d2ff,#0efff1,#68ff97,#bdff42,#c7ff38,#a4ff5b,#48ffb7,#02fffd,#00cfff,#00acff,#0092ff,#007bff,#0066ff,#0056ff,#0053ff,#005bff,#0064ff,#0062ff,#0056ff,#004bff,#0044ff,#003fff,#003bff,#0038ff)"></i><i style="left:144px;width:2px;background:linear-gradient(#005eff,#0075ff,#008fff,#00abff,#00b8ff,#00c9ff,#00dfff,#07fff8,#38ffc7,#77ff88,#bcff43,#d3ff2c,#d2ff2d,#79ff86,#1affe5,#00d5ff,#00b9ff,#00abff,#00a8ff,#008eff,#0080ff,#007eff,#00b2ff,#00f9ff,#5bffa4,#b8ff47,#ceff31,#bfff40,#85ff7a,#41ffbe,#0cfff3,#00ddff,#00b9ff,#009eff,#0094ff,#008fff,#008bff,#0079ff,#006aff,#005cff,#0059ff,#0057ff,#0056ff,#0057ff,#0058ff,#005aff,#0047ff)"></i><i style="left:146px;width:2px;background:linear-gradient(#007fff,#0073ff,#0068ff,#006eff,#008eff,#00b2ff,#00d2ff,#00ecff,#0ffff0,#3bffc4,#74ff8b,#a1ff5e,#a2ff5d,#80ff7f,#27ffd8,#00e5ff,#00b7ff,#009aff,#008cff,#008bff,#0098ff,#00b0ff,#00d1ff,#04fffb,#4fffb0,#b5ff4a,#b2ff4d,#b6ff49,#74ff8b,#42ffbd,#11ffee,#00deff,#00b7ff,#0094ff,#0073ff,#0057ff,#0048ff,#0048ff,#004aff,#0042ff,#0030ff,#001fff,#001aff,#0024ff,#002fff,#0034ff,#0032ff)"></i><i style="left:148px;width:2px;background:linear-gradient(#00a0ff,#00adff,#00baff,#00caff,#00daff,#00ecff,#05fffa,#1fffe0,#40ffbf,#6cff93,#a4ff5b,#ecff13,#e4ff1b,#d8ff27,#5cffa3,#03fffc,#00c9ff,#00a6ff,#0094ff,#009bff,#00b7ff,#00e5ff,#18ffe7,#57ffa8,#b0ff4f,#fff900,#ffe600,#fffe00,#a6ff59,#5bffa4,#21ffde,#00f5ff,#00d5ff,#00bcff,#00a4ff,#0090ff,#007fff,#0069ff,#0051ff,#003bff,#003aff,#0044ff,#004eff,#004eff,#0048ff,#0043ff,#0040ff)"></i><i style="left:150px;width:2px;background:linear-gradient(#005dff,#0082ff,#00a9ff,#00bcff,#00bcff,#00bfff,#00caff,#00deff,#00f9ff,#31ffce,#8aff75,#fcff03,#ffed00,#dcff23,#5cffa3,#05fffa,#00e4ff,#00d5ff,#00c6ff,#00baff,#00c0ff,#00e0ff,#1fffe0,#77ff88,#dfff20,#e7ff18,#cdff32,#8cff73,#5bffa4,#37ffc8,#03fffc,#00c4ff,#0091ff,#0074ff,#0066ff,#005bff,#0058ff,#005cff,#0061ff,#005eff,#0056ff,#004fff,#004cff,#004dff,#004fff,#0047ff,#0038ff)"></i><i style="left:152px;width:2px;background:linear-gradient(#008cff,#0095ff,#00a1ff,#00aeff,#00beff,#00bdff,#00bdff,#00c0ff,#00e8ff,#1effe1,#60ff9f,#9bff64,#c8ff37,#beff41,#89ff76,#1dffe2,#00d0ff,#00c3ff,#00c9ff,#00e1ff,#00e5ff,#00fbff,#25ffda,#82ff7d,#f8ff07,#fffb00,#fdff02,#9eff61,#56ffa9,#05fffa,#00c4ff,#0090ff,#0078ff,#0066ff,#0057ff,#005bff,#0060ff,#0067ff,#005aff,#004dff,#0042ff,#0040ff,#0040ff,#0041ff,#003aff,#0033ff,#002dff)"></i><i style="left:154px;width:2px;background:linear-gradient(#005eff,#0073ff,#008fff,#00aeff,#00b9ff,#00c3ff,#00d1ff,#00dbff,#00e9ff,#00feff,#28ffd7,#62ff9d,#adff52,#b2ff4d,#b8ff47,#53ffac,#21ffde,#07fff8,#02fffd,#00f3ff,#00f7ff,#11ffee,#53ffac,#b6ff49,#ffff00,#edff12,#abff54,#46ffb9,#00faff,#00c1ff,#0094ff,#0084ff,#007dff,#0078ff,#005eff,#0044ff,#002dff,#002eff,#0033ff,#0039ff,#0031ff,#0028ff,#0020ff,#0013ff,#0007ff,#0000f9,#0001ff)"></i><i style="left:156px;width:2px;background:linear-gradient(#006fff,#0064ff,#0079ff,#0094ff,#00b1ff,#00b3ff,#00b3ff,#00b5ff,#00f0ff,#3fffc0,#9eff61,#c4ff3b,#ebff14,#deff21,#e4ff1b,#a3ff5c,#53ffac,#19ffe6,#00f8ff,#00f0ff,#00f7ff,#15ffea,#4bffb4,#b7ff48,#dcff23,#e7ff18,#9aff65,#4bffb4,#0ffff0,#00eaff,#00d0ff,#00bdff,#00a0ff,#0087ff,#0072ff,#0060ff,#0050ff,#0043ff,#004cff,#0059ff,#0067ff,#0057ff,#0044ff,#0032ff,#0028ff,#0020ff,#0018ff)"></i><i style="left:158px;width:2px;background:linear-gradient(#00a4ff,#00abff,#00aeff,#00a8ff,#00a4ff,#00a3ff,#00a9ff,#00b2ff,#00caff,#00fbff,#39ffc6,#83ff7c,#ddff22,#ffcc00,#ffc400,#fffd00,#88ff77,#3dffc2,#1bffe4,#15ffea,#27ffd8,#52ffad,#9cff63,#f9ff06,#f3ff0c,#dfff20,#7eff81,#36ffc9,#00feff,#00d1ff,#00acff,#008eff,#0076ff,#0064ff,#0056ff,#004fff,#0052ff,#0056ff,#0053ff,#0043ff,#0034ff,#002dff,#0030ff,#0034ff,#0034ff,#002fff,#0029ff)"></i><i style="left:160px;width:2px;background:linear-gradient(#008bff,#008fff,#0097ff,#00aaff,#00bfff,#00d5ff,#00e6ff,#00fbff,#13ffec,#24ffdb,#3cffc3,#62ff9d,#a3ff5c,#f9ff06,#fffb00,#ffe400,#bcff43,#74ff8b,#34ffcb,#14ffeb,#1effe1,#6cff93,#e5ff1a,#ffc200,#ffc400,#fffb00,#a7ff58,#65ff9a,#32ffcd,#07fff8,#00daff,#00b7ff,#009dff,#008dff,#0080ff,#0075ff,#0069ff,#005eff,#0059ff,#005dff,#0061ff,#0062ff,#0056ff,#004cff,#0043ff,#003dff,#0038ff)"></i><i style="left:162px;width:2px;background:linear-gradient(#007cff,#0082ff,#0084ff,#0087ff,#0093ff,#00a6ff,#00bcff,#00d5ff,#00f3ff,#18ffe7,#39ffc6,#58ffa7,#83ff7c,#ccff33,#f6ff09,#fffa00,#beff41,#69ff96,#39ffc6,#31ffce,#4effb1,#8dff72,#f3ff0c,#fffb00,#fffe00,#aaff55,#58ffa7,#19ffe6,#00e3ff,#00b7ff,#0093ff,#0087ff,#008bff,#0091ff,#0083ff,#0067ff,#004eff,#0044ff,#0045ff,#0046ff,#0049ff,#004dff,#0051ff,#004fff,#0048ff,#0042ff,#0036ff)"></i><i style="left:164px;width:2px;background:linear-gradient(#0096ff,#009dff,#00a5ff,#00adff,#00a5ff,#009eff,#0099ff,#00a4ff,#00b3ff,#00c7ff,#00f7ff,#34ffcb,#80ff7f,#e3ff1c,#ffb800,#ff9600,#ffe900,#89ff76,#35ffca,#5fffa0,#aeff51,#ffd500,#ff7a00,#ff8700,#ffa700,#f2ff0d,#a5ff5a,#69ff96,#19ffe6,#00d7ff,#00a4ff,#0096ff,#008bff,#0083ff,#007eff,#007aff,#0078ff,#006fff,#0067ff,#0060ff,#0054ff,#0048ff,#003dff,#0038ff,#0032ff,#002eff,#002eff)"></i><i style="left:166px;width:2px;background:linear-gradient(#0085ff,#0094ff,#00a9ff,#00bfff,#00ccff,#00d9ff,#00e8ff,#00eeff,#00f4ff,#00feff,#19ffe6,#3effc1,#70ff8f,#bcff43,#ffd900,#ffbd00,#ff9c00,#ffed00,#e7ff18,#daff25,#f5ff0a,#ffc100,#ffc000,#fbff04,#8bff74,#3fffc0,#14ffeb,#00f3ff,#00d3ff,#00b9ff,#00a5ff,#0096ff,#008aff,#0081ff,#0076ff,#006dff,#0065ff,#0053ff,#003fff,#002bff,#0031ff,#003fff,#004cff,#0054ff,#0059ff,#005fff,#005bff)"></i><i style="left:168px;width:2px;background:linear-gradient(#006cff,#007bff,#0090ff,#00a6ff,#00bfff,#00b0ff,#00a0ff,#0092ff,#00b6ff,#00e2ff,#17ffe8,#40ffbf,#74ff8b,#b7ff48,#fdff02,#ffe400,#ffe300,#faff05,#d0ff2f,#d1ff2e,#deff21,#ffe800,#f9ff06,#cdff32,#5cffa3,#00fbff,#00e8ff,#00ddff,#00d7ff,#00adff,#0089ff,#006bff,#005eff,#0053ff,#004bff,#004aff,#004bff,#004cff,#003cff,#002dff,#001eff,#0021ff,#0026ff,#002aff,#001fff,#0014ff,#0009ff)"></i><i style="left:170px;width:2px;background:linear-gradient(#0092ff,#0098ff,#009cff,#00a1ff,#00a0ff,#009aff,#0096ff,#009dff,#00abff,#00bdff,#00ddff,#09fff6,#41ffbe,#7aff85,#bdff42,#ffff00,#ffe200,#ffda00,#f3ff0c,#deff21,#ebff14,#fff600,#e5ff1a,#baff45,#59ffa6,#14ffeb,#00e0ff,#00baff,#00a7ff,#00a0ff,#009bff,#0089ff,#0071ff,#005cff,#0053ff,#0053ff,#0053ff,#0053ff,#0052ff,#0051ff,#0040ff,#0024ff,#000aff,#000fff,#0026ff,#003eff,#003cff)"></i><i style="left:172px;width:2px;background:linear-gradient(#006fff,#006eff,#0075ff,#007cff,#0084ff,#008fff,#009dff,#00abff,#00aeff,#00b4ff,#00bfff,#00e5ff,#16ffe9,#55ffaa,#abff54,#ffdf00,#ffab00,#ff6a00,#ff9000,#ff9000,#ff8200,#ff9300,#ffcd00,#e7ff18,#8bff74,#43ffbc,#00e9ff,#00a2ff,#006dff,#0071ff,#0076ff,#007bff,#0070ff,#0068ff,#0060ff,#0052ff,#0046ff,#003bff,#003aff,#0039ff,#0038ff,#003aff,#003cff,#003cff,#002eff,#0020ff,#0014ff)"></i><i style="left:174px;width:2px;background:linear-gradient(#0087ff,#00a1ff,#00a4ff,#007eff,#0057ff,#0052ff,#008cff,#00cbff,#00f8ff,#01fffe,#0dfff2,#1effe1,#36ffc9,#58ffa7,#96ff69,#fff400,#ff9500,#ff5400,#ff7500,#ff9700,#ff7d00,#ffa900,#ffd900,#b9ff46,#73ff8c,#40ffbf,#15ffea,#00ebff,#00caff,#00abff,#0089ff,#006cff,#005aff,#0055ff,#0051ff,#0051ff,#0053ff,#0057ff,#0057ff,#0051ff,#004bff,#0046ff,#003fff,#0038ff,#0030ff,#0025ff,#001bff)"></i><i style="left:176px;width:2px;background:linear-gradient(#007aff,#007eff,#007aff,#0076ff,#0076ff,#0085ff,#0095ff,#00a8ff,#00bfff,#00d9ff,#00f6ff,#0cfff3,#29ffd6,#53ffac,#95ff6a,#f1ff0e,#ffa800,#ff7000,#ff5900,#ff7000,#ff6800,#ffa500,#ffee00,#9bff64,#45ffba,#09fff6,#00e3ff,#00c7ff,#00b4ff,#00afff,#00adff,#00a7ff,#008aff,#0070ff,#005bff,#0051ff,#0049ff,#0043ff,#0041ff,#0040ff,#003cff,#002dff,#001eff,#0012ff,#0013ff,#0015ff,#0018ff)"></i><i style="left:178px;width:2px;background:linear-gradient(#008dff,#0094ff,#009cff,#00a4ff,#00aeff,#00baff,#00c8ff,#00ceff,#00c8ff,#00c3ff,#00d0ff,#00f6ff,#26ffd9,#66ff99,#bfff40,#ffc600,#ff2400,#bd0000,#800000,#800000,#c70000,#ff6200,#fff300,#a9ff56,#63ff9c,#2fffd0,#08fff7,#00e9ff,#00c9ff,#00a3ff,#0083ff,#0073ff,#0076ff,#007aff,#0077ff,#006aff,#005fff,#0055ff,#004eff,#0047ff,#003dff,#002fff,#0021ff,#001cff,#0021ff,#0027ff,#002aff)"></i><i style="left:180px;width:2px;background:linear-gradient(#0095ff,#009cff,#00a4ff,#00adff,#00a9ff,#00a5ff,#00a3ff,#00b1ff,#00c2ff,#00d7ff,#00eaff,#04fffb,#24ffdb,#56ffa9,#9aff65,#faff05,#ff6200,#c60000,#800000,#800000,#d40000,#ff7000,#ffe600,#bdff42,#7dff82,#31ffce,#00f6ff,#00c8ff,#00b9ff,#00afff,#00a7ff,#0087ff,#006aff,#0051ff,#0046ff,#003dff,#0035ff,#0042ff,#004fff,#005cff,#0057ff,#0053ff,#004fff,#004dff,#004cff,#004bff,#0041ff)"></i><i style="left:182px;width:2px;background:linear-gradient(#00afff,#00aeff,#00aeff,#00b8ff,#00c3ff,#00cfff,#00d2ff,#00d7ff,#00dfff,#00f6ff,#13ffec,#34ffcb,#45ffba,#60ff9f,#8aff75,#eeff11,#ff8600,#e30000,#860000,#840000,#9b0000,#ff2100,#ffc600,#beff41,#6dff92,#33ffcc,#08fff7,#00e4ff,#00c9ff,#00b3ff,#008fff,#0070ff,#0055ff,#005aff,#005fff,#0064ff,#0052ff,#0040ff,#0031ff,#003bff,#0044ff,#004eff,#0054ff,#005cff,#0062ff,#0051ff,#0040ff)"></i><i style="left:184px;width:2px;background:linear-gradient(#0093ff,#0097ff,#008cff,#0082ff,#007eff,#0081ff,#0085ff,#0094ff,#00b0ff,#00cfff,#00edff,#0bfff4,#2fffd0,#58ffa7,#8aff75,#d3ff2c,#ffbc00,#ff1f00,#db0000,#d30000,#c20000,#ff4e00,#ffd800,#c8ff37,#87ff78,#49ffb6,#0afff5,#00d8ff,#00bbff,#00b1ff,#00a9ff,#009bff,#0086ff,#0073ff,#005fff,#0049ff,#0035ff,#002dff,#0033ff,#0039ff,#003cff,#003bff,#003bff,#003aff,#003aff,#003aff,#003bff)"></i><i style="left:186px;width:2px;background:linear-gradient(#0079ff,#0088ff,#008cff,#0091ff,#0096ff,#009aff,#009fff,#00a9ff,#00beff,#00d5ff,#00ecff,#00f5ff,#05fffa,#1effe1,#4effb1,#94ff6b,#fff600,#ff2700,#a80000,#800000,#8b0000,#ff3a00,#ffef00,#72ff8d,#01fffe,#00bbff,#00afff,#00a9ff,#00a1ff,#008fff,#0080ff,#0073ff,#0064ff,#0057ff,#004bff,#003eff,#0033ff,#002bff,#002dff,#002fff,#0030ff,#002eff,#002cff,#002cff,#0030ff,#0035ff,#0037ff)"></i><i style="left:188px;width:2px;background:linear-gradient(#0085ff,#007aff,#0083ff,#008fff,#009cff,#009eff,#00a1ff,#00a5ff,#00b5ff,#00c9ff,#00e2ff,#00f7ff,#14ffeb,#3affc5,#81ff7e,#e8ff17,#ff8600,#e70000,#ba0000,#cd0000,#f60000,#ffae00,#a2ff5d,#74ff8b,#5dffa2,#53ffac,#0dfff2,#00cdff,#0099ff,#008dff,#0086ff,#0082ff,#0070ff,#005fff,#004fff,#0052ff,#0057ff,#005dff,#004fff,#0041ff,#0033ff,#0038ff,#003fff,#0047ff,#003aff,#002cff,#001eff)"></i><i style="left:190px;width:3px;background:linear-gradient(#0099ff,#0093ff,#008dff,#0087ff,#0083ff,#0080ff,#007eff,#0087ff,#0097ff,#00a9ff,#00bfff,#00dbff,#00fdff,#1bffe4,#3effc1,#73ff8c,#e5ff1a,#ff6e00,#ff1100,#ff0100,#f50000,#ff8200,#f4ff0b,#93ff6c,#50ffaf,#01fffe,#00b8ff,#007dff,#0073ff,#007dff,#0088ff,#0085ff,#007cff,#0075ff,#0066ff,#0056ff,#0046ff,#003fff,#003cff,#0039ff,#0032ff,#0029ff,#0020ff,#0025ff,#002fff,#0039ff,#0032ff)"></i><i style="left:193px;width:2px;background:linear-gradient(#0071ff,#0079ff,#0081ff,#0086ff,#0081ff,#007dff,#0084ff,#009eff,#00bcff,#00d5ff,#00e1ff,#00f2ff,#0afff5,#2bffd4,#5bffa4,#b4ff4b,#ffa400,#cb0000,#800000,#910000,#c70000,#ff7200,#f9ff06,#8dff72,#3fffc0,#06fff9,#00daff,#00b4ff,#008dff,#006cff,#005aff,#005fff,#0065ff,#0065ff,#005bff,#0053ff,#004bff,#0043ff,#003bff,#0036ff,#0036ff,#0035ff,#0033ff,#002fff,#002bff,#0029ff,#002cff)"></i><i style="left:195px;width:2px;background:linear-gradient(#005eff,#0068ff,#0072ff,#007dff,#008eff,#00a1ff,#00b5ff,#00b5ff,#00b6ff,#00b9ff,#00ccff,#00e4ff,#04fffb,#3effc1,#8cff73,#f7ff08,#ff8d00,#ff1400,#b50000,#b60000,#e00000,#ff4900,#ffe900,#a0ff5f,#4cffb3,#11ffee,#00e4ff,#00c2ff,#00abff,#009aff,#008cff,#0077ff,#0065ff,#0055ff,#0046ff,#0039ff,#002dff,#0037ff,#0042ff,#004cff,#0048ff,#0045ff,#0041ff,#0038ff,#002fff,#0026ff,#0025ff)"></i><i style="left:197px;width:2px;background:linear-gradient(#0098ff,#00a6ff,#00a6ff,#00a7ff,#00abff,#00b6ff,#00c3ff,#00d1ff,#00ddff,#00ecff,#00ffff,#18ffe7,#37ffc8,#62ff9d,#9fff60,#f4ff0b,#ff9400,#ff4800,#ef0000,#db0000,#f40000,#ff2c00,#ffac00,#cfff30,#70ff8f,#30ffcf,#0afff5,#00edff,#00d8ff,#00c8ff,#00bcff,#00abff,#008cff,#0070ff,#005aff,#004bff,#003dff,#0036ff,#003bff,#0041ff,#0042ff,#0039ff,#0031ff,#002fff,#003aff,#0045ff,#0049ff)"></i><i style="left:199px;width:2px;background:linear-gradient(#0066ff,#0065ff,#0061ff,#005dff,#0062ff,#006bff,#0076ff,#0071ff,#0068ff,#0060ff,#0073ff,#0095ff,#00bfff,#00feff,#54ffab,#c6ff39,#ffdd00,#ffc500,#ffc400,#ffbd00,#ff9e00,#ffb300,#f8ff07,#88ff77,#37ffc8,#00f7ff,#00c7ff,#00a2ff,#0089ff,#0077ff,#0068ff,#0058ff,#0048ff,#003aff,#0034ff,#0032ff,#0031ff,#0028ff,#001bff,#0010ff,#0015ff,#0020ff,#002cff,#0027ff,#001cff,#0011ff,#000dff)"></i><i style="left:201px;width:2px;background:linear-gradient(#008aff,#0085ff,#007fff,#007aff,#0090ff,#00abff,#00c9ff,#00c3ff,#00baff,#00b3ff,#00c6ff,#00e2ff,#08fff7,#41ffbe,#8eff71,#f8ff07,#ffa800,#ff5f00,#ff4c00,#ff3d00,#ff0100,#ff2000,#ff6a00,#fffe00,#95ff6a,#41ffbe,#01fffe,#00cdff,#00bcff,#00b2ff,#00abff,#0094ff,#007eff,#006aff,#0062ff,#005dff,#0058ff,#0048ff,#0037ff,#0026ff,#002fff,#003aff,#0046ff,#004bff,#0050ff,#0055ff,#004eff)"></i><i style="left:203px;width:2px;background:linear-gradient(#0086ff,#008dff,#0096ff,#009dff,#009fff,#00a3ff,#00a9ff,#00b1ff,#00bcff,#00cfff,#00f3ff,#21ffde,#58ffa7,#a0ff5f,#ffff00,#ff8f00,#ff8200,#ff7a00,#ffbc00,#ffba00,#ff8200,#ff9300,#ffd100,#b2ff4d,#54ffab,#31ffce,#19ffe6,#02fffd,#00deff,#00c2ff,#00abff,#0097ff,#0086ff,#0077ff,#006bff,#0061ff,#0059ff,#0057ff,#0055ff,#0054ff,#0053ff,#0052ff,#0052ff,#0053ff,#0055ff,#0051ff,#003eff)"></i><i style="left:205px;width:2px;background:linear-gradient(#0091ff,#0093ff,#0092ff,#008cff,#0086ff,#008bff,#00a3ff,#00bdff,#00d7ff,#00f0ff,#11ffee,#32ffcd,#53ffac,#81ff7e,#ccff33,#ffc800,#ff9700,#ff7e00,#ffc100,#ffce00,#ffb200,#ffb000,#ffe800,#c7ff38,#69ff96,#23ffdc,#00f2ff,#00d3ff,#00bcff,#00a8ff,#0094ff,#0085ff,#0072ff,#005aff,#0044ff,#003dff,#0048ff,#0053ff,#005dff,#0063ff,#0069ff,#0060ff,#0040ff,#0020ff,#0016ff,#0028ff,#003aff)"></i><i style="left:207px;width:2px;background:linear-gradient(#007fff,#009aff,#00b7ff,#00bfff,#00baff,#00b6ff,#00beff,#00d0ff,#00e5ff,#00f6ff,#08fff7,#20ffdf,#4cffb3,#8fff70,#e8ff17,#ffe200,#ffd800,#f9ff06,#c7ff38,#c9ff36,#f8ff07,#ffaa00,#ffa600,#ffaa00,#e3ff1c,#84ff7b,#3cffc3,#04fffb,#00d8ff,#00b6ff,#00a5ff,#009eff,#009aff,#0082ff,#0060ff,#0041ff,#003bff,#0043ff,#004cff,#004bff,#0045ff,#003fff,#0041ff,#0048ff,#004fff,#0048ff,#003aff)"></i><i style="left:209px;width:2px;background:linear-gradient(#007eff,#0087ff,#0095ff,#00a5ff,#00b6ff,#00b9ff,#00beff,#00c4ff,#00d8ff,#00f1ff,#12ffed,#31ffce,#5bffa4,#93ff6c,#f5ff0a,#ffe200,#ffbf00,#e8ff17,#abff54,#98ff67,#d7ff28,#ffb100,#ff8300,#ffb100,#d0ff2f,#5cffa3,#1effe1,#00efff,#00ccff,#00b7ff,#00a7ff,#009cff,#0082ff,#006cff,#0058ff,#005cff,#0063ff,#006bff,#004fff,#0032ff,#0016ff,#001fff,#002bff,#0036ff,#0039ff,#003cff,#003fff)"></i><i style="left:211px;width:2px;background:linear-gradient(#0076ff,#007bff,#008cff,#00a0ff,#00b6ff,#00c0ff,#00caff,#00d6ff,#00e3ff,#00f5ff,#0efff1,#4fffb0,#a8ff57,#ffe400,#ff9f00,#ffad00,#ffd300,#d1ff2e,#a9ff56,#aaff55,#c1ff3e,#ffff00,#ffd700,#ffdd00,#f1ff0e,#98ff67,#47ffb8,#06fff9,#00d3ff,#00bdff,#00b0ff,#00a8ff,#0093ff,#0080ff,#006fff,#0065ff,#005dff,#0056ff,#0058ff,#005cff,#0061ff,#005dff,#0058ff,#0054ff,#004aff,#0040ff,#0037ff)"></i><i style="left:213px;width:2px;background:linear-gradient(#00b3ff,#00a9ff,#009fff,#00a5ff,#00b6ff,#00caff,#00dbff,#00ecff,#03fffc,#16ffe9,#2bffd4,#47ffb8,#82ff7d,#dfff20,#ffdf00,#ffbd00,#ffdd00,#e3ff1c,#b7ff48,#a4ff5b,#b6ff49,#fffe00,#ff8700,#ff8300,#ff9400,#f1ff0e,#96ff69,#46ffb9,#02fffd,#00cbff,#00a4ff,#0087ff,#006fff,#0065ff,#0063ff,#0063ff,#0068ff,#006fff,#0078ff,#006fff,#005cff,#0049ff,#003fff,#003cff,#0038ff,#003fff,#004dff)"></i><i style="left:215px;width:2px;background:linear-gradient(#0090ff,#0090ff,#0090ff,#0092ff,#0099ff,#00a2ff,#00aeff,#00c7ff,#00e5ff,#0bfff4,#1affe5,#31ffce,#51ffae,#bcff43,#eaff15,#ffec00,#bbff44,#7cff83,#60ff9f,#5cffa3,#7aff85,#bbff44,#ffed00,#ffe800,#fbff04,#b8ff47,#6eff91,#37ffc8,#00f6ff,#00c3ff,#009aff,#0091ff,#008bff,#0088ff,#0079ff,#006cff,#0062ff,#005cff,#0058ff,#0054ff,#0044ff,#0035ff,#0026ff,#002dff,#0033ff,#003aff,#0037ff)"></i><i style="left:217px;width:2px;background:linear-gradient(#00b9ff,#00b3ff,#00aeff,#00aeff,#00bcff,#00ccff,#00deff,#00f0ff,#08fff7,#27ffd8,#54ffab,#8dff72,#daff25,#ffd500,#ffc900,#ffda00,#c6ff39,#8eff71,#6fff90,#5bffa4,#66ff99,#90ff6f,#ddff22,#ffef00,#fffb00,#edff12,#a4ff5b,#6cff93,#40ffbf,#1fffe0,#00fcff,#00cbff,#00a1ff,#0084ff,#007bff,#0074ff,#006dff,#0062ff,#0058ff,#0052ff,#0053ff,#0055ff,#0058ff,#005aff,#005dff,#005eff,#0058ff)"></i><i style="left:219px;width:2px;background:linear-gradient(#006aff,#0071ff,#006eff,#006bff,#0068ff,#0088ff,#00b2ff,#00e2ff,#00f5ff,#0afff5,#27ffd8,#55ffaa,#93ff6c,#afff50,#caff35,#a4ff5b,#64ff9b,#13ffec,#00daff,#00bbff,#00daff,#19ffe6,#77ff88,#eeff11,#faff05,#ffff00,#acff53,#6fff90,#41ffbe,#02fffd,#00cbff,#00a0ff,#008dff,#0081ff,#0078ff,#006aff,#005cff,#0051ff,#004dff,#004bff,#004aff,#0045ff,#0041ff,#003cff,#0030ff,#0023ff,#0016ff)"></i><i style="left:221px;width:2px;background:linear-gradient(#00a9ff,#00aaff,#00adff,#00b1ff,#00b6ff,#00beff,#00beff,#00c1ff,#00c8ff,#00edff,#21ffde,#62ff9d,#c4ff3b,#e4ff1b,#fffe00,#89ff76,#2cffd3,#00eeff,#00ddff,#00e4ff,#02fffd,#38ffc7,#8bff74,#fffb00,#ffdb00,#ffe100,#c9ff36,#6fff90,#2bffd4,#00f5ff,#00d3ff,#00baff,#00a7ff,#0093ff,#0081ff,#0073ff,#0076ff,#007bff,#0082ff,#006fff,#005cff,#0049ff,#0047ff,#0047ff,#0047ff,#0038ff,#0028ff)"></i><i style="left:223px;width:2px;background:linear-gradient(#009dff,#00a6ff,#00afff,#00baff,#00c9ff,#00ddff,#00f5ff,#0ffff0,#23ffdc,#3effc1,#66ff99,#a5ff5a,#dcff23,#d7ff28,#a8ff57,#3affc5,#00f3ff,#00d6ff,#00ceff,#00d6ff,#00ecff,#19ffe6,#5affa5,#acff53,#e5ff1a,#deff21,#cfff30,#8aff75,#50ffaf,#15ffea,#00e6ff,#00bcff,#008dff,#0065ff,#004bff,#0048ff,#0046ff,#0045ff,#0045ff,#0046ff,#0048ff,#004aff,#004dff,#004dff,#0047ff,#0041ff,#003dff)"></i><i style="left:225px;width:2px;background:linear-gradient(#0080ff,#007fff,#007eff,#0084ff,#008cff,#0097ff,#00b2ff,#00d4ff,#00feff,#23ffdc,#50ffaf,#8cff73,#baff45,#ceff31,#97ff68,#1cffe3,#00beff,#007cff,#007bff,#008fff,#00b4ff,#00eeff,#43ffbc,#b9ff46,#ffda00,#fff000,#f2ff0d,#86ff79,#34ffcb,#00f5ff,#00c9ff,#00a8ff,#008dff,#007dff,#0071ff,#0068ff,#0056ff,#0046ff,#0037ff,#003bff,#0041ff,#0048ff,#0043ff,#003cff,#0037ff,#0039ff,#003cff)"></i><i style="left:227px;width:2px;background:linear-gradient(#0098ff,#009dff,#00a4ff,#00b1ff,#00c2ff,#00d5ff,#00e7ff,#00feff,#1effe1,#45ffba,#78ff87,#beff41,#caff35,#d4ff2b,#71ff8e,#1dffe2,#00e1ff,#00bdff,#00b2ff,#00b8ff,#00cfff,#00f6ff,#33ffcc,#89ff76,#f6ff09,#ffe700,#ffee00,#c4ff3b,#6eff91,#2dffd2,#00fcff,#00d8ff,#00bcff,#00acff,#00a1ff,#0098ff,#007dff,#0065ff,#0050ff,#004aff,#0046ff,#0041ff,#0034ff,#0028ff,#001dff,#0026ff,#002fff)"></i><i style="left:229px;width:2px;background:linear-gradient(#0073ff,#0077ff,#0079ff,#007aff,#007eff,#008eff,#00a7ff,#00c6ff,#00efff,#26ffd9,#6bff94,#9eff61,#9aff65,#72ff8d,#04fffb,#00acff,#006dff,#005dff,#0068ff,#007fff,#009fff,#00cbff,#0cfff3,#65ff9a,#e1ff1e,#ffb200,#ffbe00,#faff05,#82ff7d,#34ffcb,#00fdff,#00d4ff,#00b2ff,#0097ff,#0081ff,#0071ff,#0064ff,#005bff,#0057ff,#0057ff,#0058ff,#004eff,#0040ff,#0033ff,#0027ff,#001cff,#0011ff)"></i><i style="left:231px;width:2px;background:linear-gradient(#008cff,#0090ff,#0098ff,#00a8ff,#00bcff,#00d0ff,#00e4ff,#00feff,#23ffdc,#55ffaa,#96ff69,#b8ff47,#d1ff2e,#9aff65,#44ffbb,#00edff,#00aeff,#008fff,#0094ff,#00a7ff,#00beff,#00ceff,#00edff,#21ffde,#75ff8a,#e3ff1c,#e9ff16,#fff900,#baff45,#79ff86,#3bffc4,#0afff5,#00e1ff,#00bbff,#009bff,#0085ff,#0078ff,#006eff,#0063ff,#0057ff,#004cff,#0044ff,#0042ff,#0040ff,#0042ff,#004cff,#0057ff)"></i><i style="left:233px;width:2px;background:linear-gradient(#0063ff,#0074ff,#0085ff,#0091ff,#00a0ff,#00b1ff,#00c5ff,#00dfff,#07fff8,#46ffb9,#96ff69,#aaff55,#c5ff3a,#74ff8b,#24ffdb,#00baff,#006bff,#003fff,#0049ff,#005dff,#0074ff,#0086ff,#00a4ff,#00daff,#42ffbd,#cdff32,#fff800,#e4ff1b,#80ff7f,#1dffe2,#00dcff,#00abff,#0088ff,#0073ff,#0064ff,#005eff,#0068ff,#0073ff,#0075ff,#0061ff,#004eff,#0044ff,#004dff,#0056ff,#0056ff,#0041ff,#002dff)"></i><i style="left:235px;width:2px;background:linear-gradient(#0059ff,#0059ff,#0066ff,#0080ff,#009fff,#00bbff,#00d7ff,#00faff,#25ffda,#57ffa8,#7eff81,#75ff8a,#43ffbc,#00e5ff,#00a5ff,#007bff,#005eff,#0055ff,#005eff,#0071ff,#007fff,#0087ff,#0099ff,#00c1ff,#06fff9,#63ff9c,#c2ff3d,#e4ff1b,#e1ff1e,#8eff71,#3dffc2,#00ffff,#00ceff,#00a6ff,#0087ff,#006fff,#005dff,#004eff,#0041ff,#0035ff,#002bff,#002bff,#0036ff,#0040ff,#0042ff,#003aff,#0032ff)"></i><i style="left:237px;width:2px;background:linear-gradient(#0076ff,#0082ff,#0091ff,#009eff,#00abff,#00bdff,#00d9ff,#02fffd,#35ffca,#7cff83,#9fff60,#aeff51,#62ff9d,#09fff6,#00c7ff,#009aff,#007bff,#0069ff,#0059ff,#004eff,#004bff,#0067ff,#009eff,#00e7ff,#2affd5,#6fff90,#cbff34,#c2ff3d,#c5ff3a,#6bff94,#34ffcb,#13ffec,#00faff,#00ccff,#0095ff,#0067ff,#0056ff,#0057ff,#005aff,#0057ff,#0051ff,#004dff,#0041ff,#0030ff,#0021ff,#0019ff,#0016ff)"></i><i style="left:239px;width:2px;background:linear-gradient(#0089ff,#00a2ff,#00c1ff,#00e4ff,#00f5ff,#04fffb,#19ffe6,#40ffbf,#76ff89,#b7ff48,#adff52,#98ff67,#2bffd4,#00d8ff,#009bff,#006fff,#004dff,#0035ff,#0026ff,#0040ff,#006cff,#00a4ff,#00cdff,#00fcff,#3dffc2,#7cff83,#c9ff36,#cdff32,#deff21,#baff45,#81ff7e,#29ffd6,#00d9ff,#0098ff,#0081ff,#0077ff,#0070ff,#0064ff,#0057ff,#004dff,#0040ff,#0034ff,#0029ff,#0028ff,#0029ff,#002bff,#002cff)"></i><i style="left:241px;width:2px;background:linear-gradient(#0090ff,#0093ff,#0099ff,#008fff,#0086ff,#007eff,#00b5ff,#00fdff,#58ffa7,#7fff80,#7dff82,#52ffad,#04fffb,#00caff,#00a2ff,#007bff,#005eff,#004bff,#0044ff,#0044ff,#004cff,#005fff,#007cff,#00a4ff,#00dfff,#2effd1,#99ff66,#ffeb00,#ffc500,#ffc500,#b3ff4c,#48ffb7,#00f3ff,#00cfff,#00b4ff,#00a0ff,#0083ff,#0069ff,#0053ff,#004bff,#0045ff,#0041ff,#0046ff,#004cff,#0052ff,#004cff,#0045ff)"></i><i style="left:243px;width:2px;background:linear-gradient(#00a7ff,#00a7ff,#00a7ff,#00a7ff,#00aaff,#00b4ff,#00ccff,#00ecff,#1bffe4,#33ffcc,#3effc1,#03fffc,#00bdff,#008cff,#0069ff,#0055ff,#004aff,#0049ff,#005dff,#0079ff,#0092ff,#0090ff,#0095ff,#00a9ff,#00e3ff,#32ffcd,#93ff6c,#f7ff08,#e0ff1f,#cdff32,#71ff8e,#2affd5,#00f6ff,#00dcff,#00c9ff,#00b6ff,#0098ff,#007fff,#006eff,#006bff,#006aff,#0068ff,#005fff,#0058ff,#004cff,#0032ff,#0018ff)"></i><i style="left:245px;width:2px;background:linear-gradient(#007bff,#008aff,#009bff,#00a4ff,#00afff,#00beff,#00daff,#01fffe,#2cffd3,#3dffc2,#46ffb9,#04fffb,#00b9ff,#007eff,#0052ff,#0042ff,#003cff,#003cff,#0038ff,#0038ff,#003dff,#003eff,#0043ff,#004dff,#0083ff,#00d2ff,#3dffc2,#aaff55,#d7ff28,#d4ff2b,#95ff6a,#46ffb9,#09fff6,#00d7ff,#00b0ff,#0092ff,#007cff,#006cff,#005fff,#0057ff,#0052ff,#004fff,#0050ff,#0052ff,#0055ff,#0044ff,#0030ff)"></i><i style="left:247px;width:2px;background:linear-gradient(#0087ff,#0095ff,#00a8ff,#00c0ff,#00d8ff,#00f0ff,#10ffef,#3bffc4,#56ffa9,#54ffab,#31ffce,#00f8ff,#00cfff,#00a3ff,#006eff,#0044ff,#002fff,#0031ff,#0039ff,#0046ff,#005aff,#0074ff,#008cff,#009aff,#00afff,#00d8ff,#22ffdd,#83ff7c,#e9ff16,#fff500,#fff600,#aeff51,#51ffae,#09fff6,#00d8ff,#00c0ff,#00aeff,#009bff,#0085ff,#0073ff,#0062ff,#0052ff,#0043ff,#003bff,#003bff,#003cff,#0039ff)"></i><i style="left:249px;width:2px;background:linear-gradient(#0078ff,#0083ff,#008eff,#009dff,#00b3ff,#00d9ff,#09fff6,#46ffb9,#5effa1,#6dff92,#29ffd6,#00d5ff,#0097ff,#006bff,#0051ff,#003fff,#0034ff,#002fff,#002fff,#0030ff,#002fff,#0031ff,#003eff,#005eff,#0089ff,#00c2ff,#12ffed,#7bff84,#fffd00,#faff05,#edff12,#83ff7c,#2effd1,#00eaff,#00bfff,#00b1ff,#00a8ff,#009aff,#0077ff,#0059ff,#0047ff,#0053ff,#0060ff,#0064ff,#004fff,#003bff,#002fff)"></i><i style="left:251px;width:2px;background:linear-gradient(#008eff,#0090ff,#0094ff,#00a1ff,#00b7ff,#00d3ff,#00f3ff,#13ffec,#0bfff4,#00faff,#00b4ff,#0081ff,#005fff,#0049ff,#003aff,#002fff,#0028ff,#0025ff,#0024ff,#0025ff,#002aff,#003bff,#0057ff,#007aff,#0099ff,#00b9ff,#00e5ff,#1bffe4,#5dffa2,#68ff97,#61ff9e,#38ffc7,#00fcff,#00e2ff,#00dbff,#00d8ff,#00bcff,#0094ff,#0072ff,#0060ff,#0059ff,#0053ff,#004eff,#004aff,#0046ff,#003bff,#002aff)"></i><i style="left:253px;width:2px;background:linear-gradient(#00c9ff,#00d2ff,#00d9ff,#00d1ff,#00cdff,#00d5ff,#0dfff2,#36ffc9,#44ffbb,#16ffe9,#00ceff,#009dff,#0088ff,#007aff,#006cff,#004aff,#002eff,#001dff,#0025ff,#0030ff,#003fff,#0053ff,#006bff,#0087ff,#009bff,#00b7ff,#00e1ff,#2fffd0,#96ff69,#ecff13,#b7ff48,#6aff95,#03fffc,#00f3ff,#00eaff,#00e0ff,#00c7ff,#00b4ff,#00a4ff,#008eff,#007dff,#0070ff,#006fff,#006fff,#006eff,#0067ff,#0060ff)"></i><i style="left:255px;width:2px;background:linear-gradient(#0073ff,#0070ff,#007fff,#0093ff,#00adff,#00dbff,#15ffea,#2effd1,#3effc1,#08fff7,#00d3ff,#00a1ff,#007bff,#005dff,#003cff,#0022ff,#000eff,#0012ff,#0018ff,#0020ff,#001eff,#001eff,#0026ff,#004fff,#0081ff,#00baff,#00ccff,#00e6ff,#12ffed,#90ff6f,#b3ff4c,#c9ff36,#6dff92,#21ffde,#00e5ff,#00b8ff,#0094ff,#0079ff,#0075ff,#0073ff,#0071ff,#0065ff,#005aff,#0051ff,#0047ff,#003eff,#0037ff)"></i><i style="left:257px;width:2px;background:linear-gradient(#0079ff,#0082ff,#008fff,#009fff,#00aeff,#00c4ff,#00dbff,#00dfff,#00d5ff,#009aff,#0071ff,#0052ff,#003cff,#002dff,#0023ff,#001dff,#0019ff,#0019ff,#001cff,#0024ff,#002fff,#003bff,#0035ff,#0032ff,#0036ff,#005cff,#008dff,#00ccff,#20ffdf,#8fff70,#d0ff2f,#dcff23,#afff50,#64ff9b,#0afff5,#00c2ff,#008eff,#0087ff,#0084ff,#0080ff,#0060ff,#0044ff,#002dff,#0029ff,#0026ff,#0024ff,#0021ff)"></i><i style="left:259px;width:2px;background:linear-gradient(#0088ff,#00a6ff,#00c8ff,#00e8ff,#0cfff3,#39ffc6,#46ffb9,#34ffcb,#00f7ff,#00b8ff,#0091ff,#0075ff,#0056ff,#0038ff,#0020ff,#0018ff,#001dff,#0024ff,#002aff,#002fff,#0038ff,#0041ff,#004bff,#0059ff,#0064ff,#006dff,#007bff,#00b5ff,#1dffe2,#a7ff58,#fcff03,#c8ff37,#7eff81,#2bffd4,#02fffd,#00e4ff,#00bdff,#0093ff,#0071ff,#0065ff,#0067ff,#006aff,#0061ff,#0051ff,#0042ff,#0035ff,#0029ff)"></i><i style="left:261px;width:2px;background:linear-gradient(#008cff,#008cff,#008eff,#009aff,#00b5ff,#00d9ff,#00eaff,#0dfff2,#00e9ff,#00beff,#0086ff,#005cff,#003dff,#0029ff,#0019ff,#0010ff,#000dff,#000eff,#000fff,#0011ff,#0015ff,#001fff,#0031ff,#0047ff,#0061ff,#0080ff,#00a7ff,#00d7ff,#0dfff2,#56ffa9,#b7ff48,#aeff51,#9aff65,#47ffb8,#18ffe7,#00f4ff,#00d2ff,#00a5ff,#0080ff,#0062ff,#004aff,#0036ff,#002eff,#003fff,#0050ff,#0056ff,#0047ff)"></i><i style="left:263px;width:2px;background:linear-gradient(#0064ff,#0064ff,#007aff,#00b2ff,#00f7ff,#26ffd9,#0afff5,#00daff,#0088ff,#0056ff,#0032ff,#001eff,#0018ff,#0016ff,#000dff,#0000f9,#0000e9,#0000e4,#0000ec,#0000f7,#0000fd,#0000fe,#0001ff,#000bff,#0020ff,#003bff,#0057ff,#0075ff,#009eff,#00e0ff,#4cffb3,#8dff72,#90ff6f,#55ffaa,#07fff8,#00d0ff,#00afff,#0097ff,#0082ff,#006dff,#005dff,#0046ff,#0025ff,#0008ff,#0000ff,#0016ff,#002bff)"></i><i style="left:265px;width:2px;background:linear-gradient(#0051ff,#005bff,#007bff,#00aaff,#00e7ff,#0afff5,#14ffeb,#00e6ff,#009bff,#0063ff,#003bff,#0016ff,#0000f6,#0000dd,#0000d9,#0000dd,#0000e2,#0000e6,#0000ec,#0000f3,#0000f1,#0000ef,#0000ee,#0000ff,#0019ff,#0038ff,#0056ff,#007eff,#00b5ff,#00f9ff,#5bffa4,#bfff40,#afff50,#89ff76,#27ffd8,#00ebff,#00c3ff,#00a4ff,#0087ff,#006eff,#005aff,#0059ff,#005dff,#0063ff,#005cff,#0054ff,#004cff)"></i><i style="left:267px;width:2px;background:linear-gradient(#000dff,#001fff,#003fff,#006cff,#00a5ff,#00aeff,#00b4ff,#0066ff,#002aff,#0002ff,#0000e5,#0000d2,#0000c3,#0000bb,#0000b7,#0000b5,#0000b4,#0000b4,#0000b6,#0000bc,#0000c6,#0000d2,#0000de,#0000ed,#0000fe,#0014ff,#002eff,#0051ff,#007aff,#00b0ff,#02fffd,#82ff7d,#8eff71,#85ff7a,#2affd5,#00d9ff,#009cff,#0080ff,#0074ff,#006dff,#0061ff,#0054ff,#004aff,#0040ff,#0038ff,#0031ff,#0020ff)"></i><i style="left:269px;width:2px;background:linear-gradient(#0032ff,#0047ff,#0064ff,#0091ff,#00b6ff,#00aaff,#0082ff,#003aff,#000fff,#0000f2,#0000dd,#0000ce,#0000c3,#0000b9,#0000b0,#0000b8,#0000b7,#0000b9,#0000bb,#0000bd,#0000d1,#0000d6,#0000d4,#0000d1,#0000d0,#0000de,#0000f4,#0013ff,#002eff,#0055ff,#0092ff,#10ffef,#6eff91,#81ff7e,#5affa5,#16ffe9,#00e4ff,#00b3ff,#008aff,#0069ff,#0054ff,#0045ff,#0038ff,#0032ff,#002eff,#002cff,#0025ff)"></i><i style="left:271px;width:2px;background:linear-gradient(#0000f5,#0011ff,#003bff,#007eff,#009aff,#0097ff,#0056ff,#001fff,#0000ff,#0000ed,#0000da,#0000bb,#0000b4,#0000af,#0000ab,#0000a8,#0000a6,#0000a6,#0000a6,#0000a7,#0000a9,#0000ac,#0000b0,#0000b6,#0000c1,#0000c9,#0000d2,#0000e1,#0000fd,#002bff,#0073ff,#00d8ff,#53ffac,#3effc1,#2fffd0,#00e7ff,#00b3ff,#00a2ff,#009aff,#0098ff,#007eff,#0064ff,#004eff,#003cff,#002dff,#0020ff,#0016ff)"></i><i style="left:273px;width:2px;background:linear-gradient(#0000fa,#0007ff,#0021ff,#005aff,#005aff,#005aff,#000aff,#0000e0,#0000cb,#0000b2,#0000aa,#0000a4,#0000a0,#00009d,#00009c,#00009a,#000099,#000099,#000099,#00009b,#00009d,#00009f,#0000a1,#0000a4,#0000a8,#0000af,#0000b9,#0000d8,#0000f6,#0024ff,#0067ff,#00c7ff,#77ff88,#8bff74,#91ff6e,#44ffbb,#02fffd,#00d5ff,#00b6ff,#009cff,#007fff,#0068ff,#0056ff,#004bff,#0041ff,#003aff,#0035ff)"></i><i style="left:275px;width:2px;background:linear-gradient(#0000ae,#0000b0,#0000d1,#0000f8,#0000f2,#0000dc,#0000b1,#0000ab,#00009d,#000095,#000091,#00008e,#00008c,#00008a,#000088,#000087,#000086,#000086,#000087,#000088,#000089,#00008b,#00008d,#000090,#000092,#000096,#00009b,#0000a3,#0000b0,#0000b1,#0000e0,#0036ff,#00cdff,#3dffc2,#2effd1,#00f3ff,#00a4ff,#006aff,#004eff,#0042ff,#003bff,#0028ff,#0011ff,#0000fd,#0000fb,#0002ff,#0008ff)"></i><i style="left:277px;width:2px;background:linear-gradient(#000099,#0000ad,#0000e0,#0002ff,#000aff,#0000d5,#0000a3,#000092,#000089,#000085,#000083,#000082,#000082,#000082,#000081,#000080,#000080,#000080,#000080,#000082,#000083,#000083,#000084,#000085,#000087,#00008a,#00008e,#000094,#00009e,#0000ae,#0000cc,#0008ff,#0085ff,#58ffa7,#4effb1,#3cffc3,#00f6ff,#00c6ff,#0098ff,#005eff,#002fff,#0015ff,#0016ff,#0018ff,#0019ff,#0012ff,#000cff)"></i><i style="left:279px;width:2px;background:linear-gradient(#000091,#0000a1,#0000bf,#0000bd,#0000bb,#0000a0,#000091,#00008b,#000087,#000086,#000084,#000083,#000082,#000081,#000081,#000081,#000081,#000082,#000082,#000083,#000082,#000082,#000082,#000084,#000086,#000089,#00008d,#000092,#00009b,#0000a8,#0000cb,#0000fa,#0054ff,#24ffdb,#57ffa8,#5fffa0,#18ffe7,#00cdff,#0089ff,#0055ff,#0038ff,#0033ff,#0032ff,#002dff,#001eff,#0012ff,#0007ff)"></i><i style="left:281px;width:2px;background:linear-gradient(#00008c,#000099,#0000aa,#0000ab,#0000a0,#00008f,#000088,#000084,#000083,#000081,#000082,#000082,#000083,#000082,#000081,#000080,#000081,#000081,#000082,#000082,#000082,#000083,#000084,#000086,#000088,#00008a,#00008c,#000091,#000097,#0000a1,#0000b2,#0000d2,#001eff,#00c5ff,#60ff9f,#64ff9b,#34ffcb,#00e7ff,#00b1ff,#008bff,#0067ff,#004bff,#0035ff,#002aff,#0022ff,#001cff,#0010ff)"></i><i style="left:283px;width:2px;background:linear-gradient(#000090,#0000a1,#0000a9,#0000a9,#000098,#00008d,#000088,#000085,#000082,#000081,#000081,#000082,#000084,#000083,#000081,#000080,#000080,#000080,#000080,#000080,#000080,#000081,#000082,#000084,#000085,#000087,#00008a,#00008f,#000094,#00009c,#0000a9,#0000b9,#0000f8,#007dff,#61ff9e,#5affa5,#42ffbd,#00dbff,#0090ff,#0058ff,#0036ff,#0021ff,#0011ff,#0006ff,#0000ff,#0000fa,#0000f5)"></i><i style="left:285px;width:2px;background:linear-gradient(#000092,#0000a6,#0000a5,#0000a3,#00008f,#000087,#000084,#000083,#000081,#000080,#000080,#000080,#000080,#000080,#000081,#000081,#000082,#000081,#000080,#000080,#000080,#000081,#000083,#000083,#000084,#000085,#000088,#00008b,#000090,#000097,#0000a2,#0000b6,#0000d6,#002eff,#00f6ff,#28ffd7,#1fffe0,#00cdff,#0097ff,#0072ff,#0058ff,#003dff,#0029ff,#001aff,#000cff,#0002ff,#0000f8)"></i><i style="left:287px;width:2px;background:linear-gradient(#00009b,#0000a9,#0000a9,#00009f,#000090,#000089,#000085,#000083,#000082,#000081,#000080,#000081,#000082,#000083,#000081,#000080,#000080,#000080,#000081,#000082,#000082,#000083,#000083,#000084,#000086,#000088,#000089,#00008b,#00008e,#000094,#00009f,#0000af,#0000d7,#0020ff,#00beff,#4dffb2,#43ffbc,#08fff7,#00b2ff,#0076ff,#004dff,#003cff,#0032ff,#002cff,#001cff,#000fff,#0005ff)"></i><i style="left:289px;width:2px;background:linear-gradient(#0000a1,#0000a8,#0000a8,#000096,#00008b,#000086,#000083,#000081,#000080,#000080,#000080,#000080,#000080,#000080,#000080,#000080,#000080,#000080,#000080,#000080,#000080,#000080,#000081,#000081,#000081,#000081,#000082,#000085,#000089,#00008f,#000098,#0000a5,#0000b2,#0000df,#0041ff,#01fffe,#13ffec,#17ffe8,#00c5ff,#0083ff,#0055ff,#0036ff,#0026ff,#001bff,#000eff,#0000f8,#0000e5)"></i><i style="left:291px;width:2px;background:linear-gradient(#0000aa,#0000a9,#0000a4,#000091,#000089,#000087,#000085,#000083,#000082,#000081,#000080,#000080,#000080,#000081,#000082,#000082,#000080,#000080,#000080,#000080,#000080,#000080,#000080,#000080,#000081,#000082,#000085,#000087,#00008b,#00008f,#000096,#0000a0,#0000b1,#0000c9,#0017ff,#00c7ff,#05fffa,#00f9ff,#00a8ff,#0065ff,#003cff,#001fff,#000eff,#0005ff,#0000ff,#0000fc,#0000fb)"></i><i style="left:293px;width:2px;background:linear-gradient(#0000a8,#0000a8,#00009c,#00008d,#000087,#000084,#000082,#000081,#000080,#000080,#000080,#000080,#000080,#000080,#000080,#000080,#000080,#000080,#000080,#000080,#000080,#000081,#000081,#000082,#000082,#000083,#000085,#000087,#000089,#00008c,#000091,#00009a,#0000a9,#0000bb,#0000f1,#006aff,#00ecff,#00f3ff,#00ceff,#0088ff,#005dff,#0041ff,#002fff,#0018ff,#0006ff,#0000f6,#0000ef)"></i><i style="left:295px;width:2px;background:linear-gradient(#0000ab,#0000aa,#000095,#00008a,#000086,#000084,#000083,#000082,#000080,#000080,#000080,#000080,#000080,#000080,#000080,#000080,#000080,#000080,#000080,#000080,#000080,#000080,#000081,#000082,#000083,#000083,#000084,#000086,#000089,#00008c,#000091,#000097,#0000a1,#0000b5,#0000d0,#002aff,#00daff,#00dfff,#00daff,#008bff,#0058ff,#0037ff,#001eff,#0004ff,#0000ef,#0000e0,#0000d8)"></i><i style="left:297px;width:2px;background:linear-gradient(#0000a9,#0000a6,#000093,#00008a,#000085,#000083,#000082,#000082,#000082,#000080,#000080,#000080,#000080,#000080,#000080,#000080,#000080,#000080,#000080,#000080,#000080,#000080,#000080,#000080,#000081,#000082,#000084,#000085,#000086,#000089,#00008d,#000093,#00009d,#0000ad,#0000cc,#000bff,#0095ff,#00c3ff,#00beff,#0085ff,#0050ff,#002aff,#0007ff,#0000ec,#0000d9,#0000cd,#0000c4)"></i><i style="left:299px;width:2px;background:linear-gradient(#0000a7,#00009a,#00008c,#000086,#000083,#000082,#000081,#000080,#000080,#000080,#000080,#000080,#000080,#000080,#000080,#000080,#000080,#000080,#000080,#000080,#000080,#000080,#000080,#000080,#000081,#000081,#000081,#000081,#000083,#000086,#00008a,#000090,#000099,#0000a8,#0000be,#0000ee,#0048ff,#00b5ff,#00b1ff,#0086ff,#003dff,#000eff,#0000ed,#0000df,#0000d6,#0000d1,#0000c9)"></i><i style="left:301px;width:2px;background:linear-gradient(#0000a8,#000095,#00008b,#000087,#000085,#000084,#000083,#000082,#000082,#000081,#000080,#000080,#000080,#000080,#000080,#000080,#000080,#000080,#000080,#000080,#000080,#000080,#000080,#000081,#000081,#000082,#000084,#000085,#000086,#000087,#00008a,#00008d,#000092,#00009c,#0000af,#0000d6,#0023ff,#00a6ff,#0089ff,#0076ff,#0037ff,#000fff,#0000f6,#0000e8,#0000df,#0000d7,#0000cc)"></i><i style="left:303px;width:2px;background:linear-gradient(#0000a0,#00008f,#000088,#000085,#000084,#000083,#000083,#000083,#000082,#000081,#000080,#000080,#000080,#000080,#000080,#000080,#000081,#000081,#000080,#000080,#000080,#000080,#000081,#000081,#000081,#000081,#000081,#000082,#000083,#000085,#000088,#00008c,#000091,#000099,#0000a7,#0000c5,#0000fb,#0079ff,#00b3ff,#00b8ff,#0079ff,#003aff,#0010ff,#0000f3,#0000de,#0000cd,#0000c0)"></i><i style="left:305px;width:2px;background:linear-gradient(#000099,#00008d,#000089,#000087,#000085,#000084,#000082,#000081,#000081,#000080,#000080,#000080,#000080,#000080,#000080,#000080,#000080,#000080,#000080,#000080,#000080,#000080,#000081,#000081,#000082,#000083,#000084,#000085,#000085,#000085,#000085,#000089,#00008e,#000096,#0000a1,#0000b5,#0000e9,#0048ff,#00b7ff,#00b7ff,#008dff,#0043ff,#0015ff,#0000f8,#0000e6,#0000da,#0000da)"></i><i style="left:307px;width:2px;background:linear-gradient(#000094,#00008a,#000086,#000084,#000083,#000082,#000082,#000082,#000081,#000081,#000081,#000080,#000081,#000082,#000083,#000082,#000081,#000080,#000080,#000081,#000081,#000080,#000080,#000080,#000080,#000081,#000082,#000082,#000083,#000084,#000086,#000089,#00008c,#000092,#00009b,#0000ab,#0000d6,#001fff,#00b8ff,#00b3ff,#00a9ff,#004fff,#0010ff,#0000e6,#0000ca,#0000c1,#0000bd)"></i><i style="left:309px;width:2px;background:linear-gradient(#000090,#000088,#000085,#000083,#000083,#000083,#000082,#000082,#000081,#000081,#000080,#000080,#000080,#000080,#000081,#000080,#000080,#000080,#000080,#000081,#000081,#000081,#000082,#000082,#000081,#000081,#000081,#000081,#000082,#000083,#000085,#000086,#000089,#00008e,#000095,#0000a0,#0000b7,#0000ee,#0062ff,#008eff,#007eff,#0033ff,#0005ff,#0000ef,#0000e4,#0000d2,#0000bf)"></i><i style="left:311px;width:2px;background:linear-gradient(#00008f,#000088,#000084,#000082,#000081,#000080,#000080,#000080,#000080,#000081,#000081,#000081,#000081,#000081,#000081,#000081,#000080,#000080,#000080,#000080,#000080,#000080,#000080,#000080,#000080,#000080,#000081,#000082,#000082,#000082,#000083,#000085,#000089,#00008d,#000092,#000099,#0000a8,#0000c3,#0006ff,#0057ff,#0061ff,#004aff,#0013ff,#0000e0,#0000bf,#0000a9,#0000b5)"></i><i style="left:313px;width:2px;background:linear-gradient(#00008a,#000086,#000084,#000083,#000082,#000081,#000080,#000081,#000081,#000082,#000082,#000082,#000081,#000081,#000081,#000081,#000081,#000081,#000081,#000081,#000081,#000082,#000081,#000081,#000081,#000081,#000082,#000082,#000083,#000084,#000085,#000086,#000088,#00008a,#00008e,#000095,#0000a0,#0000b5,#0000ed,#0054ff,#0055ff,#0053ff,#000eff,#0000e1,#0000c7,#0000b8,#0000b0)"></i><i style="left:315px;width:2px;background:linear-gradient(#000088,#000085,#000084,#000083,#000082,#000081,#000081,#000080,#000080,#000080,#000080,#000080,#000080,#000080,#000080,#000081,#000081,#000080,#000080,#000080,#000080,#000080,#000080,#000080,#000080,#000080,#000080,#000080,#000080,#000080,#000080,#000082,#000085,#000088,#00008a,#00008d,#000094,#0000a2,#0000b1,#0000f2,#000aff,#0000fc,#0000ca,#0000b3,#0000ad,#0000b1,#0000a9)"></i><i style="left:317px;width:2px;background:linear-gradient(#000088,#000086,#000084,#000083,#000081,#000080,#000080,#000080,#000080,#000080,#000081,#000081,#000080,#000080,#000080,#000080,#000081,#000081,#000080,#000080,#000080,#000080,#000080,#000080,#000080,#000081,#000082,#000083,#000084,#000084,#000084,#000084,#000084,#000085,#000087,#00008a,#00008f,#000099,#0000ad,#0000d4,#000dff,#0011ff,#0003ff,#0000db,#0000ba,#0000aa,#0000a0)"></i><i style="left:319px;width:2px;background:linear-gradient(#000084,#000083,#000083,#000082,#000080,#000080,#000080,#000080,#000080,#000080,#000080,#000080,#000080,#000080,#000080,#000080,#000080,#000080,#000080,#000080,#000080,#000080,#000080,#000080,#000080,#000080,#000080,#000080,#000080,#000081,#000081,#000081,#000081,#000082,#000082,#000084,#000088,#00008f,#00009c,#0000b9,#0000f1,#0000fa,#0000fb,#0000cb,#0000b1,#0000a2,#000099)"></i><i style="left:321px;width:2px;background:linear-gradient(#000084,#000082,#000081,#000080,#000080,#000080,#000080,#000080,#000080,#000080,#000080,#000080,#000080,#000080,#000080,#000080,#000080,#000080,#000080,#000080,#000080,#000080,#000080,#000080,#000080,#000080,#000080,#000080,#000080,#000080,#000080,#000080,#000081,#000082,#000083,#000085,#000088,#00008c,#000094,#0000a5,#0000cc,#0000dd,#0000da,#0000bb,#0000a8,#00009a,#000092)"></i><i style="left:323px;width:2px;background:linear-gradient(#000086,#000085,#000083,#000080,#000080,#000080,#000080,#000080,#000080,#000080,#000081,#000080,#000080,#000080,#000081,#000081,#000081,#000081,#000080,#000080,#000081,#000082,#000082,#000080,#000080,#000080,#000080,#000080,#000080,#000080,#000080,#000080,#000080,#000081,#000083,#000084,#000086,#000088,#00008d,#000096,#0000ac,#0000d1,#0000d2,#0000bc,#0000a2,#000095,#00008e)"></i><i style="left:325px;width:2px;background:linear-gradient(#000085,#000084,#000082,#000081,#000080,#000080,#000080,#000080,#000080,#000080,#000080,#000080,#000080,#000080,#000080,#000080,#000080,#000080,#000080,#000080,#000080,#000080,#000080,#000080,#000080,#000080,#000080,#000081,#000081,#000080,#000080,#000080,#000080,#000080,#000080,#000081,#000083,#000084,#000087,#00008b,#000095,#0000ac,#0000ab,#0000ab,#000098,#00008e,#000089)"></i><i style="left:327px;width:2px;background:linear-gradient(#000080,#000080,#000080,#000080,#000080,#000080,#000080,#000080,#000080,#000080,#000080,#000080,#000080,#000080,#000080,#000080,#000080,#000080,#000080,#000080,#000080,#000080,#000080,#000080,#000080,#000080,#000080,#000080,#000080,#000080,#000080,#000080,#000080,#000080,#000080,#000080,#000080,#000080,#000081,#000084,#000088,#000094,#00009b,#00009b,#000091,#000089,#000086)"></i><i style="left:329px;width:2px;background:linear-gradient(#000083,#000081,#000080,#000080,#000080,#000080,#000080,#000080,#000080,#000080,#000080,#000080,#000080,#000080,#000080,#000080,#000080,#000080,#000080,#000081,#000081,#000081,#000080,#000080,#000080,#000080,#000080,#000081,#000081,#000080,#000081,#000081,#000081,#000080,#000080,#000080,#000080,#000080,#000082,#000085,#00008a,#000093,#00009f,#00009e,#000098,#00008c,#000087)"></i><i style="left:331px;width:2px;background:linear-gradient(#000081,#000081,#000080,#000080,#000080,#000080,#000080,#000080,#000080,#000080,#000081,#000082,#000081,#000080,#000080,#000080,#000080,#000080,#000080,#000080,#000080,#000080,#000080,#000080,#000080,#000080,#000080,#000080,#000080,#000080,#000080,#000080,#000080,#000080,#000080,#000080,#000080,#000081,#000083,#000084,#000087,#00008e,#00009d,#00009e,#00009e,#000091,#00008a)"></i><i style="left:333px;width:2px;background:linear-gradient(#000082,#000081,#000082,#000082,#000082,#000081,#000081,#000080,#000080,#000080,#000080,#000080,#000080,#000080,#000080,#000080,#000080,#000080,#000080,#000080,#000080,#000080,#000080,#000080,#000080,#000080,#000080,#000080,#000080,#000080,#000080,#000080,#000080,#000080,#000080,#000080,#000080,#000080,#000080,#000081,#000083,#000088,#000093,#00009b,#00009c,#000093,#00008a)"></i><i style="left:335px;width:2px;background:linear-gradient(#000083,#000082,#000081,#000080,#000080,#000080,#000080,#000080,#000080,#000080,#000080,#000080,#000080,#000080,#000081,#000081,#000080,#000080,#000080,#000080,#000080,#000080,#000080,#000081,#000081,#000080,#000080,#000080,#000080,#000080,#000080,#000080,#000080,#000080,#000080,#000081,#000081,#000082,#000083,#000083,#000084,#000087,#000090,#00009d,#00009e,#00009a,#00008e)"></i><i style="left:337px;width:2px;background:linear-gradient(#000080,#000080,#000080,#000080,#000080,#000080,#000080,#000080,#000080,#000080,#000080,#000080,#000080,#000080,#000082,#000082,#000081,#000080,#000080,#000080,#000080,#000080,#000080,#000080,#000080,#000080,#000080,#000080,#000080,#000080,#000080,#000080,#000080,#000080,#000080,#000080,#000080,#000081,#000082,#000083,#000084,#000086,#00008c,#00009b,#00009c,#00009d,#000091)"></i><i style="left:339px;width:2px;background:linear-gradient(#000081,#000081,#000081,#000082,#000081,#000080,#000080,#000080,#000080,#000080,#000080,#000080,#000080,#000080,#000080,#000081,#000081,#000081,#000080,#000080,#000080,#000080,#000080,#000080,#000080,#000080,#000080,#000080,#000080,#000080,#000080,#000080,#000080,#000080,#000080,#000080,#000080,#000080,#000080,#000081,#000082,#000085,#00008a,#000095,#00009c,#00009c,#000093)"></i><i style="left:341px;width:2px;background:linear-gradient(#000081,#000080,#000080,#000080,#000080,#000080,#000081,#000080,#000080,#000080,#000080,#000080,#000080,#000080,#000080,#000080,#000081,#000082,#000083,#000082,#000080,#000080,#000080,#000080,#000080,#000080,#000080,#000080,#000081,#000081,#000081,#000081,#000080,#000080,#000080,#000081,#000081,#000082,#000082,#000083,#000084,#000086,#00008a,#000092,#0000a0,#0000a0,#00009c)"></i><i style="left:343px;width:2px;background:linear-gradient(#000080,#000080,#000080,#000080,#000080,#000080,#000080,#000080,#000080,#000080,#000080,#000080,#000080,#000080,#000080,#000080,#000080,#000080,#000080,#000080,#000080,#000080,#000080,#000080,#000080,#000080,#000080,#000080,#000080,#000080,#000080,#000080,#000080,#000080,#000080,#000080,#000080,#000080,#000080,#000080,#000080,#000080,#000085,#00008c,#00009c,#00009e,#00009d)"></i><i style="left:345px;width:2px;background:linear-gradient(#000081,#000081,#000080,#000080,#000080,#000080,#000080,#000080,#000081,#000081,#000082,#000082,#000082,#000082,#000082,#000082,#000082,#000082,#000082,#000082,#000081,#000081,#000081,#000081,#000081,#000081,#000080,#000080,#000080,#000080,#000080,#000080,#000081,#000081,#000082,#000082,#000083,#000083,#000083,#000083,#000084,#000085,#000087,#00008c,#000097,#00009f,#00009f)"></i><i style="left:347px;width:2px;background:linear-gradient(#000080,#000080,#000080,#000080,#000080,#000080,#000080,#000080,#000080,#000080,#000081,#000081,#000081,#000081,#000080,#000080,#000080,#000080,#000080,#000080,#000080,#000080,#000080,#000080,#000080,#000081,#000080,#000080,#000080,#000080,#000080,#000080,#000080,#000080,#000080,#000080,#000080,#000081,#000081,#000082,#000083,#000084,#000085,#000088,#00008f,#00009d,#00009d)"></i><i style="left:349px;width:2px;background:linear-gradient(#000080,#000080,#000080,#000080,#000080,#000080,#000080,#000080,#000080,#000080,#000080,#000080,#000080,#000080,#000081,#000081,#000080,#000080,#000080,#000080,#000080,#000080,#000080,#000080,#000080,#000080,#000081,#000081,#000081,#000080,#000080,#000080,#000080,#000080,#000080,#000080,#000081,#000081,#000082,#000082,#000082,#000082,#000083,#000086,#00008d,#00009c,#00009f)"></i><i style="left:351px;width:2px;background:linear-gradient(#000081,#000080,#000080,#000080,#000081,#000081,#000080,#000080,#000080,#000080,#000080,#000080,#000081,#000082,#000082,#000081,#000081,#000080,#000080,#000080,#000080,#000080,#000080,#000080,#000080,#000080,#000080,#000080,#000080,#000080,#000080,#000081,#000081,#000080,#000080,#000080,#000080,#000080,#000081,#000082,#000083,#000084,#000084,#000085,#00008a,#000096,#0000a0)"></i><i style="left:353px;width:2px;background:linear-gradient(#000081,#000081,#000081,#000080,#000080,#000080,#000080,#000080,#000081,#000081,#000081,#000081,#000081,#000080,#000080,#000080,#000080,#000080,#000080,#000080,#000080,#000081,#000081,#000080,#000080,#000080,#000080,#000080,#000080,#000080,#000080,#000080,#000080,#000080,#000080,#000080,#000080,#000080,#000080,#000080,#000080,#000081,#000082,#000083,#000087,#000090,#00009f)"></i><i style="left:355px;width:2px;background:linear-gradient(#000080,#000080,#000080,#000080,#000081,#000080,#000080,#000080,#000080,#000080,#000081,#000080,#000080,#000080,#000080,#000081,#000082,#000081,#000081,#000080,#000080,#000080,#000080,#000080,#000080,#000080,#000080,#000081,#000081,#000080,#000080,#000080,#000080,#000080,#000080,#000080,#000080,#000080,#000080,#000080,#000080,#000081,#000082,#000084,#000086,#00008b,#000098)"></i><i style="left:357px;width:2px;background:linear-gradient(#000081,#000081,#000081,#000080,#000080,#000081,#000081,#000082,#000080,#000080,#000080,#000080,#000080,#000080,#000080,#000080,#000081,#000081,#000081,#000081,#000081,#000081,#000081,#000081,#000081,#000082,#000081,#000080,#000080,#000080,#000080,#000080,#000080,#000080,#000080,#000080,#000081,#000082,#000081,#000080,#000080,#000080,#000081,#000082,#000084,#00008a,#000095)"></i><i style="left:359px;width:2px;background:linear-gradient(#000080,#000080,#000080,#000080,#000080,#000080,#000080,#000080,#000080,#000080,#000080,#000080,#000080,#000081,#000081,#000081,#000080,#000080,#000080,#000080,#000080,#000080,#000080,#000080,#000080,#000080,#000080,#000080,#000080,#000080,#000080,#000080,#000080,#000080,#000080,#000081,#000081,#000082,#000082,#000083,#000083,#000082,#000081,#000081,#000084,#000089,#000092)"></i><i style="left:361px;width:2px;background:linear-gradient(#000080,#000080,#000080,#000080,#000080,#000080,#000080,#000080,#000080,#000080,#000080,#000080,#000080,#000080,#000080,#000080,#000080,#000080,#000080,#000080,#000080,#000080,#000080,#000080,#000080,#000080,#000080,#000080,#000080,#000080,#000080,#000080,#000080,#000080,#000080,#000080,#000080,#000080,#000080,#000080,#000081,#000081,#000081,#000081,#000082,#000084,#00008a)"></i><i style="left:363px;width:2px;background:linear-gradient(#000080,#000080,#000080,#000080,#000080,#000080,#000080,#000080,#000080,#000080,#000080,#000080,#000080,#000080,#000080,#000080,#000080,#000080,#000080,#000080,#000081,#000081,#000081,#000081,#000081,#000080,#000080,#000080,#000080,#000080,#000080,#000080,#000080,#000080,#000080,#000080,#000080,#000080,#000080,#000081,#000082,#000083,#000083,#000084,#000086,#000087,#00008a)"></i><i style="left:365px;width:2px;background:linear-gradient(#000080,#000080,#000080,#000080,#000080,#000080,#000080,#000080,#000080,#000080,#000081,#000081,#000080,#000080,#000080,#000080,#000080,#000080,#000080,#000080,#000080,#000080,#000080,#000080,#000080,#000080,#000080,#000080,#000080,#000082,#000082,#000082,#000081,#000080,#000080,#000080,#000080,#000080,#000080,#000080,#000080,#000080,#000080,#000081,#000082,#000084,#000087)"></i><i style="left:367px;width:2px;background:linear-gradient(#000080,#000080,#000080,#000080,#000080,#000080,#000080,#000080,#000080,#000080,#000080,#000080,#000080,#000080,#000080,#000080,#000080,#000080,#000080,#000080,#000080,#000080,#000080,#000080,#000080,#000080,#000080,#000080,#000080,#000080,#000080,#000080,#000080,#000080,#000080,#000080,#000080,#000080,#000080,#000080,#000080,#000080,#000080,#000081,#000082,#000083,#000086)"></i><i style="left:369px;width:2px;background:linear-gradient(#000080,#000080,#000080,#000080,#000080,#000080,#000081,#000080,#000080,#000080,#000080,#000080,#000080,#000080,#000080,#000080,#000080,#000080,#000080,#000080,#000080,#000080,#000080,#000080,#000081,#000080,#000080,#000080,#000080,#000080,#000081,#000080,#000080,#000080,#000080,#000080,#000080,#000080,#000080,#000080,#000080,#000080,#000080,#000080,#000080,#000080,#000082)"></i><i style="left:371px;width:2px;background:linear-gradient(#000080,#000080,#000080,#000080,#000080,#000080,#000080,#000080,#000080,#000081,#000080,#000080,#000080,#000081,#000082,#000082,#000081,#000080,#000080,#000080,#000080,#000080,#000080,#000080,#000080,#000080,#000081,#000081,#000081,#000082,#000081,#000080,#000080,#000080,#000080,#000081,#000082,#000082,#000082,#000082,#000081,#000081,#000082,#000083,#000085,#000086,#000087)"></i><i style="left:373px;width:2px;background:linear-gradient(#000080,#000080,#000081,#000081,#000081,#000080,#000080,#000080,#000080,#000080,#000080,#000080,#000080,#000080,#000080,#000080,#000080,#000080,#000080,#000080,#000080,#000080,#000080,#000080,#000080,#000080,#000080,#000080,#000080,#000080,#000080,#000080,#000080,#000080,#000080,#000080,#000080,#000080,#000080,#000080,#000080,#000080,#000080,#000080,#000080,#000081,#000082)"></i><i style="left:375px;width:2px;background:linear-gradient(#000080,#000081,#000081,#000081,#000081,#000081,#000081,#000081,#000081,#000080,#000080,#000080,#000082,#000083,#000084,#000084,#000083,#000082,#000081,#000080,#000080,#000080,#000080,#000080,#000081,#000081,#000082,#000081,#000081,#000080,#000080,#000080,#000080,#000080,#000081,#000082,#000082,#000082,#000082,#000082,#000083,#000084,#000084,#000084,#000084,#000084,#000085)"></i><i style="left:377px;width:2px;background:linear-gradient(#000080,#000080,#000080,#000080,#000080,#000080,#000080,#000080,#000080,#000080,#000080,#000080,#000080,#000080,#000080,#000080,#000080,#000080,#000080,#000080,#000080,#000080,#000080,#000080,#000080,#000080,#000080,#000080,#000080,#000080,#000080,#000080,#000080,#000080,#000080,#000080,#000080,#000080,#000080,#000080,#000080,#000080,#000080,#000081,#000081,#000081,#000082)"></i><i style="left:379px;width:2px;background:linear-gradient(#000080,#000080,#000080,#000080,#000080,#000080,#000080,#000080,#000080,#000080,#000080,#000080,#000080,#000080,#000080,#000080,#000080,#000080,#000080,#000080,#000081,#000081,#000081,#000081,#000080,#000080,#000080,#000080,#000080,#000080,#000080,#000080,#000080,#000080,#000080,#000080,#000080,#000080,#000080,#000080,#000080,#000080,#000081,#000081,#000081,#000082,#000082)"></i></div></div>
<svg width="520" height="777" viewBox="0 0 520 777" style="position:absolute;left:0;top:0" font-family="Liberation Sans,sans-serif" stroke-linecap="butt"><g stroke="#111" stroke-width="0" id="all"><defs><linearGradient id="jet" x1="0" x2="1" y1="0" y2="0"><stop offset="0.0000" stop-color="#000080"/><stop offset="0.0312" stop-color="#00009f"/><stop offset="0.0625" stop-color="#0000bf"/><stop offset="0.0938" stop-color="#0000df"/><stop offset="0.1250" stop-color="#0000ff"/><stop offset="0.1562" stop-color="#0020ff"/><stop offset="0.1875" stop-color="#0040ff"/><stop offset="0.2188" stop-color="#0060ff"/><stop offset="0.2500" stop-color="#0080ff"/><stop offset="0.2812" stop-color="#009fff"/><stop offset="0.3125" stop-color="#00bfff"/><stop offset="0.3438" stop-color="#00dfff"/><stop offset="0.3750" stop-color="#00ffff"/><stop offset="0.4062" stop-color="#20ffdf"/><stop offset="0.4375" stop-color="#40ffbf"/><stop offset="0.4688" stop-color="#60ff9f"/><stop offset="0.5000" stop-color="#80ff80"/><stop offset="0.5312" stop-color="#9fff60"/><stop offset="0.5625" stop-color="#bfff40"/><stop offset="0.5938" stop-color="#dfff20"/><stop offset="0.6250" stop-color="#ffff00"/><stop offset="0.6562" stop-color="#ffdf00"/><stop offset="0.6875" stop-color="#ffbf00"/><stop offset="0.7188" stop-color="#ff9f00"/><stop offset="0.7500" stop-color="#ff8000"/><stop offset="0.7812" stop-color="#ff6000"/><stop offset="0.8125" stop-color="#ff4000"/><stop offset="0.8438" stop-color="#ff2000"/><stop offset="0.8750" stop-color="#ff0000"/><stop offset="0.9062" stop-color="#df0000"/><stop offset="0.9375" stop-color="#bf0000"/><stop offset="0.9688" stop-color="#9f0000"/><stop offset="1.0000" stop-color="#800000"/></linearGradient></defs><rect x="132" y="37.5" width="383.5" height="19" fill="url(#jet)" stroke="#222" stroke-width="0.6"/><rect x="132" y="439.8" width="381.5" height="18.7" fill="url(#jet)" stroke="#222" stroke-width="0.6"/><path d="M259.8 37.8v2.2M259.8 56.2v-2.2M259.2 440.1v2.2M259.2 458.2v-2.2M387.7 37.8v2.2M387.7 56.2v-2.2M386.3 440.1v2.2M386.3 458.2v-2.2" stroke="#222" stroke-width="0.8"/><text x="237.4" y="13.2" font-size="15" text-anchor="start" fill="#111" stroke="#111" stroke-width="0.28" textLength="188.0" lengthAdjust="spacingAndGlyphs">Normalized Intensity (dB)</text><text x="226.6" y="416.6" font-size="15" text-anchor="start" fill="#111" stroke="#111" stroke-width="0.28" textLength="188.0" lengthAdjust="spacingAndGlyphs">Normalized Intensity (dB)</text><text x="132.5" y="33.2" font-size="12.6" text-anchor="middle" fill="#111" stroke="#111" stroke-width="0.28" textLength="17.5" lengthAdjust="spacingAndGlyphs">-18</text><text x="262.0" y="33.2" font-size="12.6" text-anchor="middle" fill="#111" stroke="#111" stroke-width="0.28" textLength="16.5" lengthAdjust="spacingAndGlyphs">-12</text><text x="385.4" y="33.2" font-size="12.6" text-anchor="middle" fill="#111" stroke="#111" stroke-width="0.28" textLength="13.4" lengthAdjust="spacingAndGlyphs">-6</text><text x="515.5" y="33.2" font-size="12.6" text-anchor="middle" fill="#111" stroke="#111" stroke-width="0.28" textLength="9.0" lengthAdjust="spacingAndGlyphs">0</text><text x="134.0" y="433.6" font-size="12.6" text-anchor="middle" fill="#111" stroke="#111" stroke-width="0.28" textLength="16.9" lengthAdjust="spacingAndGlyphs">-12</text><text x="259.0" y="433.6" font-size="12.6" text-anchor="middle" fill="#111" stroke="#111" stroke-width="0.28" textLength="13.4" lengthAdjust="spacingAndGlyphs">-8</text><text x="386.0" y="433.6" font-size="12.6" text-anchor="middle" fill="#111" stroke="#111" stroke-width="0.28" textLength="13.4" lengthAdjust="spacingAndGlyphs">-4</text><text x="513.2" y="433.6" font-size="12.6" text-anchor="middle" fill="#111" stroke="#111" stroke-width="0.28" textLength="9.0" lengthAdjust="spacingAndGlyphs">0</text><text x="65.4" y="56.2" font-size="15" text-anchor="start" fill="#111" stroke="#111" stroke-width="0.28" textLength="46.4" lengthAdjust="spacingAndGlyphs">Power</text><text x="65.4" y="458.2" font-size="15" text-anchor="start" fill="#111" stroke="#111" stroke-width="0.28" textLength="46.4" lengthAdjust="spacingAndGlyphs">Power</text><text x="13.3" y="253.0" font-size="14" text-anchor="start" fill="#111" stroke="#111" stroke-width="0.28" textLength="189.0" lengthAdjust="spacingAndGlyphs" transform="rotate(-90 13.3 253.0)">Relative Frequency (GHz)</text><text x="13.3" y="649.0" font-size="14" text-anchor="start" fill="#111" stroke="#111" stroke-width="0.28" textLength="190.0" lengthAdjust="spacingAndGlyphs" transform="rotate(-90 13.3 649.0)">Relative Frequency (GHz)</text><text x="124.3" y="333.5" font-size="15" text-anchor="start" fill="#111" stroke="#111" stroke-width="0.28" textLength="62.5" lengthAdjust="spacingAndGlyphs" transform="rotate(-90 124.3 333.5)">Intensity</text><text x="123.4" y="730.3" font-size="15" text-anchor="start" fill="#111" stroke="#111" stroke-width="0.28" textLength="62.3" lengthAdjust="spacingAndGlyphs" transform="rotate(-90 123.4 730.3)">Intensity</text><text x="326.5" y="373.2" font-size="15" text-anchor="middle" fill="#111" stroke="#111" stroke-width="0.28" textLength="67.0" lengthAdjust="spacingAndGlyphs">Time (ns)</text><text x="323.8" y="772.0" font-size="15" text-anchor="middle" fill="#111" stroke="#111" stroke-width="0.28" textLength="67.5" lengthAdjust="spacingAndGlyphs">Time (ns)</text><text x="48.0" y="97.7" font-size="12.5" text-anchor="end" fill="#111" stroke="#111" stroke-width="0.28" textLength="23.0" lengthAdjust="spacingAndGlyphs">-20</text><text x="48.0" y="130.1" font-size="12.5" text-anchor="end" fill="#111" stroke="#111" stroke-width="0.28" textLength="21.0" lengthAdjust="spacingAndGlyphs">-10</text><text x="48.0" y="161.8" font-size="12.5" text-anchor="end" fill="#111" stroke="#111" stroke-width="0.28" textLength="9.0" lengthAdjust="spacingAndGlyphs">0</text><text x="48.0" y="194.8" font-size="12.5" text-anchor="end" fill="#111" stroke="#111" stroke-width="0.28" textLength="16.0" lengthAdjust="spacingAndGlyphs">10</text><text x="48.0" y="226.9" font-size="12.5" text-anchor="end" fill="#111" stroke="#111" stroke-width="0.28" textLength="19.0" lengthAdjust="spacingAndGlyphs">20</text><text x="47.3" y="480.0" font-size="12.5" text-anchor="end" fill="#111" stroke="#111" stroke-width="0.28" textLength="31.6" lengthAdjust="spacingAndGlyphs">-200</text><text x="47.3" y="521.5" font-size="12.5" text-anchor="end" fill="#111" stroke="#111" stroke-width="0.28" textLength="28.3" lengthAdjust="spacingAndGlyphs">-100</text><text x="47.3" y="561.9" font-size="12.5" text-anchor="end" fill="#111" stroke="#111" stroke-width="0.28" textLength="9.0" lengthAdjust="spacingAndGlyphs">0</text><text x="47.3" y="603.3" font-size="12.5" text-anchor="end" fill="#111" stroke="#111" stroke-width="0.28" textLength="24.0" lengthAdjust="spacingAndGlyphs">100</text><text x="47.3" y="643.5" font-size="12.5" text-anchor="end" fill="#111" stroke="#111" stroke-width="0.28" textLength="27.0" lengthAdjust="spacingAndGlyphs">200</text><text x="159.9" y="357.0" font-size="12.6" text-anchor="middle" fill="#111" stroke="#111" stroke-width="0.28" textLength="13.2" lengthAdjust="spacingAndGlyphs">-6</text><text x="214.5" y="357.0" font-size="12.6" text-anchor="middle" fill="#111" stroke="#111" stroke-width="0.28" textLength="13.2" lengthAdjust="spacingAndGlyphs">-4</text><text x="269.1" y="357.0" font-size="12.6" text-anchor="middle" fill="#111" stroke="#111" stroke-width="0.28" textLength="13.2" lengthAdjust="spacingAndGlyphs">-2</text><text x="323.3" y="357.0" font-size="12.6" text-anchor="middle" fill="#111" stroke="#111" stroke-width="0.28" textLength="9.0" lengthAdjust="spacingAndGlyphs">0</text><text x="377.9" y="357.0" font-size="12.6" text-anchor="middle" fill="#111" stroke="#111" stroke-width="0.28" textLength="9.0" lengthAdjust="spacingAndGlyphs">2</text><text x="432.5" y="357.0" font-size="12.6" text-anchor="middle" fill="#111" stroke="#111" stroke-width="0.28" textLength="9.0" lengthAdjust="spacingAndGlyphs">4</text><text x="487.1" y="357.0" font-size="12.6" text-anchor="middle" fill="#111" stroke="#111" stroke-width="0.28" textLength="9.0" lengthAdjust="spacingAndGlyphs">6</text><text x="132.5" y="755.5" font-size="12.6" text-anchor="middle" fill="#111" stroke="#111" stroke-width="0.28" textLength="13.2" lengthAdjust="spacingAndGlyphs">-5</text><text x="170.6" y="755.5" font-size="12.6" text-anchor="middle" fill="#111" stroke="#111" stroke-width="0.28" textLength="13.2" lengthAdjust="spacingAndGlyphs">-4</text><text x="208.7" y="755.5" font-size="12.6" text-anchor="middle" fill="#111" stroke="#111" stroke-width="0.28" textLength="13.2" lengthAdjust="spacingAndGlyphs">-3</text><text x="246.8" y="755.5" font-size="12.6" text-anchor="middle" fill="#111" stroke="#111" stroke-width="0.28" textLength="13.2" lengthAdjust="spacingAndGlyphs">-2</text><text x="284.9" y="755.5" font-size="12.6" text-anchor="middle" fill="#111" stroke="#111" stroke-width="0.28" textLength="10.5" lengthAdjust="spacingAndGlyphs">-1</text><text x="323.0" y="755.5" font-size="12.6" text-anchor="middle" fill="#111" stroke="#111" stroke-width="0.28" textLength="9.0" lengthAdjust="spacingAndGlyphs">0</text><text x="361.1" y="755.5" font-size="12.6" text-anchor="middle" fill="#111" stroke="#111" stroke-width="0.28" textLength="5.5" lengthAdjust="spacingAndGlyphs">1</text><text x="399.2" y="755.5" font-size="12.6" text-anchor="middle" fill="#111" stroke="#111" stroke-width="0.28" textLength="9.0" lengthAdjust="spacingAndGlyphs">2</text><text x="437.3" y="755.5" font-size="12.6" text-anchor="middle" fill="#111" stroke="#111" stroke-width="0.28" textLength="9.0" lengthAdjust="spacingAndGlyphs">3</text><text x="475.4" y="755.5" font-size="12.6" text-anchor="middle" fill="#111" stroke="#111" stroke-width="0.28" textLength="9.0" lengthAdjust="spacingAndGlyphs">4</text><text x="513.5" y="755.5" font-size="12.6" text-anchor="middle" fill="#111" stroke="#111" stroke-width="0.28" textLength="9.0" lengthAdjust="spacingAndGlyphs">5</text><rect x="52.8" y="64.3" width="71.3" height="188.8" fill="none" stroke="#333" stroke-width="1"/><rect x="52.6" y="466.2" width="71.7" height="183.3" fill="none" stroke="#333" stroke-width="1"/><rect x="132.4" y="261.6" width="383" height="81.3" fill="none" stroke="#333" stroke-width="1"/><rect x="132.4" y="656" width="381.2" height="81.2" fill="none" stroke="#333" stroke-width="1"/><path d="M53.2 115.0h7.0M53.2 116.0h6.7M53.2 117.0h11.0M53.2 118.0h6.0M53.2 119.0h12.4M53.2 120.0h6.6M53.2 121.0h14.8M53.2 122.0h10.8M53.2 123.0h13.6M53.2 124.0h10.2M53.2 125.0h20.2M53.2 126.0h21.7M53.2 127.0h12.6M53.2 128.0h22.6M53.2 129.0h15.8M53.2 130.0h26.8M53.2 131.0h14.2M53.2 132.0h26.8M53.2 133.0h16.5M53.2 134.0h21.0M53.2 135.0h32.3M53.2 136.0h17.1M53.2 137.0h22.2M53.2 138.0h39.7M53.2 139.0h34.7M53.2 140.0h27.7M53.2 141.0h20.5M53.2 142.0h25.0M53.2 143.0h21.1M53.2 144.0h37.3M53.2 145.0h44.7M53.2 146.0h29.3M53.2 147.0h24.8M53.2 148.0h40.4M53.2 149.0h54.3M53.2 150.0h33.1M53.2 151.0h55.0M53.2 152.0h27.5M53.2 153.0h54.4M53.2 154.0h42.0M53.2 155.0h65.1M53.2 156.0h65.4M53.2 157.0h40.3M53.2 158.0h26.9M53.2 159.0h29.6M53.2 160.0h29.4M53.2 161.0h26.2M53.2 162.0h44.7M53.2 163.0h58.1M53.2 164.0h31.8M53.2 165.0h24.7M53.2 166.0h47.6M53.2 167.0h30.3M53.2 168.0h42.7M53.2 169.0h52.1M53.2 170.0h55.8M53.2 171.0h54.3M53.2 172.0h52.7M53.2 173.0h35.4M53.2 174.0h46.0M53.2 175.0h26.5M53.2 176.0h41.9M53.2 177.0h34.4M53.2 178.0h30.0M53.2 179.0h25.0M53.2 180.0h28.2M53.2 181.0h34.8M53.2 182.0h14.1M53.2 183.0h23.7M53.2 184.0h27.6M53.2 185.0h14.0M53.2 186.0h23.7M53.2 187.0h24.2M53.2 188.0h17.4M53.2 189.0h20.8M53.2 190.0h9.9M53.2 191.0h8.3M53.2 192.0h12.9M53.2 197.0h5.5M53.2 198.0h6.8M53.2 199.0h6.0M53.2 200.0h7.2M53.2 201.0h6.6M53.2 202.0h6.0M53.2 203.0h5.5M53.2 204.0h3.6" stroke="#3b62d0" stroke-width="1.05" fill="none"/><polygon points="53.2,115 57.1,115.0 57.7,116.5 58.3,118.0 58.9,119.5 59.6,121.0 60.4,122.5 61.2,124.0 62.1,125.5 63.0,127.0 63.9,128.5 64.9,130.0 65.9,131.5 66.9,133.0 68.0,134.5 69.0,136.0 70.1,137.5 71.1,139.0 72.1,140.5 73.1,142.0 74.0,143.5 74.9,145.0 75.7,146.5 76.4,148.0 77.1,149.5 77.6,151.0 78.1,152.5 78.4,154.0 78.6,155.5 78.7,157.0 78.7,158.5 78.6,160.0 78.3,161.5 77.9,163.0 77.5,164.5 76.9,166.0 76.2,167.5 75.5,169.0 74.6,170.5 73.7,172.0 72.8,173.5 71.8,175.0 70.8,176.5 69.7,178.0 68.7,179.5 67.6,181.0 66.6,182.5 65.6,184.0 64.6,185.5 63.6,187.0 62.7,188.5 61.8,190.0 60.9,191.5 53.2,192" fill="#3b62d0"/><polyline points="54.9,99.0 55.3,101.0 55.9,103.0 56.6,105.0 57.4,107.0 58.3,109.0 59.4,111.0 60.7,113.0 62.2,115.0 63.9,117.0 65.7,119.0 67.8,121.0 70.2,123.0 72.7,125.0 75.4,127.0 78.3,129.0 81.3,131.0 84.4,133.0 87.6,135.0 90.8,137.0 93.9,139.0 97.0,141.0 99.9,143.0 102.6,145.0 105.0,147.0 107.0,149.0 108.7,151.0 110.0,153.0 110.8,155.0 111.2,157.0 111.1,159.0 110.5,161.0 109.4,163.0 107.9,165.0 106.0,167.0 103.8,169.0 101.2,171.0 98.5,173.0 95.5,175.0 92.4,177.0 89.2,179.0 86.0,181.0 82.8,183.0 79.8,185.0 76.8,187.0 74.0,189.0 71.4,191.0 69.0,193.0 66.8,195.0 64.8,197.0 63.0,199.0 61.4,201.0 60.0,203.0 58.8,205.0 57.8,207.0 56.9,209.0 56.2,211.0 55.6,213.0 55.1,215.0" fill="none" stroke="#111" stroke-width="1.25" stroke-dasharray="4 2.4"/><path d="M53 93.0h2M124 93.0h-2M53 125.5h2M124 125.5h-2M53 158.0h2M124 158.0h-2M53 190.5h2M124 190.5h-2M53 223.0h2M124 223.0h-2M59.4 64.5v2M59.4 253v-2M89.7 64.5v2M89.7 253v-2M120.0 64.5v2M120.0 253v-2" stroke="#444" stroke-width="0.7"/><polygon points="58.9,467.5 59.3,468.3 59.8,469.1 59.9,469.9 60.4,470.7 60.8,471.5 61.2,472.3 61.8,473.1 62.4,473.9 62.7,474.7 63.2,475.5 63.8,476.3 64.1,477.1 64.9,477.9 65.3,478.7 65.8,479.5 66.1,480.3 66.9,481.1 67.1,481.9 67.6,482.7 68.1,483.5 68.7,484.3 69.3,485.1 69.7,485.9 70.1,486.7 70.7,487.5 70.0,488.3 67.9,489.1 67.6,489.9 67.8,490.7 67.5,491.5 67.7,492.3 67.1,493.1 68.0,493.9 68.3,494.7 67.2,495.5 67.0,496.3 68.4,497.1 68.1,497.9 67.3,498.7 67.2,499.5 68.3,500.3 67.4,501.1 68.3,501.9 66.8,502.7 68.1,503.5 67.8,504.3 68.2,505.1 67.6,505.9 67.8,506.7 67.5,507.5 67.8,508.3 67.9,509.1 66.6,509.9 67.3,510.7 67.6,511.5 67.3,512.3 67.7,513.1 66.8,513.9 66.6,514.7 67.2,515.5 65.9,516.3 65.4,517.1 66.5,517.9 65.8,518.7 64.5,519.5 64.8,520.3 64.6,521.1 64.6,521.9 64.7,522.7 63.1,523.5 63.1,524.3 62.6,525.1 63.3,525.9 62.2,526.7 62.8,527.5 61.3,528.3 62.1,529.1 61.3,529.9 59.9,530.7 59.8,531.5 60.2,532.3 59.5,533.1 59.8,533.9 59.4,534.7 58.2,535.5 59.0,536.3 59.1,537.1 58.4,537.9 58.9,538.7 58.7,539.5 57.7,540.3 57.7,541.1 58.0,541.9 58.3,542.7 57.8,543.5 58.1,544.3 59.2,545.1 58.1,545.9 59.6,546.7 59.9,547.5 58.8,548.3 59.7,549.1 59.9,549.9 61.4,550.7 61.4,551.5 62.1,552.3 62.3,553.1 63.1,553.9 63.4,554.7 64.6,555.5 65.0,556.3 64.5,557.1 65.0,557.9 65.6,558.7 67.4,559.5 67.2,560.3 67.9,561.1 68.9,561.9 68.4,562.7 69.4,563.5 70.1,564.3 70.5,565.1 71.4,565.9 71.6,566.7 72.3,567.5 72.0,568.3 71.9,569.1 73.2,569.9 72.7,570.7 73.3,571.5 74.5,572.3 74.4,573.1 75.1,573.9 75.3,574.7 75.7,575.5 76.4,576.3 76.6,577.1 76.5,577.9 77.3,578.7 77.9,579.5 78.2,580.3 78.3,581.1 78.7,581.9 78.3,582.7 78.9,583.5 79.1,584.3 78.8,585.1 79.2,585.9 78.2,586.7 78.1,587.5 78.2,588.3 79.3,589.1 78.9,589.9 79.6,590.7 78.9,591.5 78.7,592.3 78.1,593.1 78.5,593.9 78.8,594.7 77.7,595.5 77.5,596.3 78.5,597.1 78.4,597.9 77.4,598.7 77.2,599.5 76.6,600.3 76.4,601.1 76.1,601.9 77.4,602.7 76.9,603.5 75.5,604.3 75.7,605.1 76.4,605.9 76.4,606.7 75.1,607.5 76.2,608.3 75.5,609.1 74.6,609.9 75.5,610.7 74.9,611.5 73.8,612.3 74.0,613.1 74.6,613.9 74.6,614.7 74.1,615.5 72.9,616.3 72.6,617.1 72.9,617.9 72.8,618.7 71.9,619.5 72.7,620.3 71.8,621.1 71.8,621.9 72.2,622.7 72.0,623.5 70.8,624.3 71.5,625.1 70.7,625.9 71.3,626.7 70.4,627.5 70.0,628.3 71.0,629.1 70.0,629.9 70.3,630.7 69.8,631.5 70.2,632.3 69.8,633.1 69.2,633.9 68.9,634.7 69.1,635.5 69.0,636.3 68.1,637.1 68.2,637.9 67.3,638.7 66.5,639.5 66.4,640.3 65.4,641.1 65.0,641.9 64.3,642.7 63.8,643.5 62.7,644.3 62.0,645.1 61.7,645.9 60.6,646.7 60.0,647.5 59.4,648.3 58.7,649.1 59.8,649.1 61.0,648.3 62.4,647.5 63.3,646.7 64.8,645.9 66.0,645.1 67.1,644.3 67.9,643.5 68.6,642.7 69.6,641.9 71.0,641.1 72.0,640.3 71.6,639.5 72.0,638.7 72.3,637.9 72.9,637.1 73.4,636.3 73.3,635.5 74.1,634.7 74.6,633.9 75.1,633.1 74.4,632.3 75.8,631.5 75.1,630.7 76.3,629.9 76.1,629.1 76.6,628.3 76.7,627.5 77.8,626.7 77.4,625.9 77.4,625.1 78.5,624.3 79.5,623.5 80.0,622.7 78.5,621.9 80.5,621.1 80.1,620.3 80.9,619.5 82.3,618.7 82.8,617.9 81.6,617.1 81.7,616.3 83.9,615.5 83.2,614.7 85.0,613.9 83.6,613.1 85.3,612.3 84.3,611.5 84.7,610.7 85.7,609.9 86.1,609.1 87.3,608.3 87.3,607.5 88.7,606.7 89.5,605.9 88.1,605.1 90.9,604.3 89.3,603.5 90.8,602.7 91.1,601.9 92.4,601.1 92.2,600.3 93.4,599.5 93.1,598.7 92.8,597.9 93.2,597.1 93.9,596.3 96.2,595.5 96.1,594.7 94.7,593.9 97.3,593.1 95.5,592.3 97.3,591.5 97.2,590.7 96.0,589.9 98.6,589.1 98.6,588.3 97.5,587.5 98.2,586.7 99.6,585.9 99.6,585.1 100.3,584.3 102.1,583.5 102.3,582.7 102.0,581.9 104.6,581.1 103.0,580.3 104.7,579.5 105.5,578.7 105.1,577.9 107.1,577.1 107.2,576.3 108.9,575.5 108.6,574.7 109.3,573.9 109.1,573.1 110.5,572.3 111.3,571.5 111.1,570.7 112.0,569.9 111.4,569.1 112.0,568.3 113.1,567.5 112.8,566.7 113.9,565.9 114.6,565.1 115.7,564.3 115.9,563.5 117.1,562.7 115.7,561.9 117.4,561.1 116.1,560.3 116.2,559.5 117.0,558.7 115.8,557.9 117.7,557.1 116.8,556.3 118.2,555.5 116.6,554.7 117.3,553.9 117.3,553.1 117.1,552.3 118.2,551.5 118.2,550.7 119.1,549.9 118.4,549.1 118.1,548.3 118.0,547.5 116.1,546.7 116.0,545.9 115.6,545.1 116.7,544.3 116.0,543.5 115.6,542.7 116.5,541.9 115.7,541.1 113.6,540.3 114.2,539.5 114.3,538.7 113.7,537.9 114.4,537.1 112.4,536.3 113.1,535.5 112.0,534.7 112.1,533.9 109.3,533.1 108.7,532.3 108.6,531.5 109.6,530.7 107.1,529.9 106.5,529.1 107.8,528.3 105.1,527.5 104.7,526.7 103.5,525.9 102.9,525.1 102.1,524.3 101.7,523.5 101.8,522.7 100.9,521.9 100.3,521.1 97.9,520.3 96.6,519.5 97.7,518.7 96.8,517.9 95.1,517.1 92.8,516.3 93.2,515.5 90.6,514.7 91.0,513.9 88.7,513.1 88.3,512.3 86.9,511.5 87.1,510.7 86.7,509.9 85.1,509.1 86.1,508.3 84.5,507.5 83.5,506.7 83.5,505.9 81.1,505.1 82.6,504.3 82.3,503.5 79.4,502.7 81.3,501.9 78.7,501.1 79.8,500.3 79.5,499.5 77.9,498.7 78.4,497.9 77.6,497.1 76.3,496.3 75.4,495.5 76.3,494.7 74.8,493.9 74.1,493.1 75.0,492.3 74.8,491.5 74.6,490.7 73.6,489.9 72.7,489.1 72.7,488.3 72.1,487.5 72.1,486.7 71.5,485.9 71.0,485.1 70.3,484.3 70.0,483.5 69.6,482.7 68.9,481.9 68.4,481.1 68.3,480.3 67.6,479.5 66.8,478.7 66.4,477.9 65.7,477.1 65.3,476.3 65.0,475.5 64.5,474.7 64.1,473.9 63.5,473.1 62.8,472.3 62.2,471.5 61.6,470.7 61.4,469.9 60.9,469.1 60.1,468.3 59.7,467.5" fill="#1840d6" stroke="#1840d6" stroke-width="0.4"/><rect x="53.3" y="487.8" width="70.4" height="1.2" fill="#fff"/><rect x="53.3" y="537.3" width="70.4" height="1.2" fill="#fff"/><rect x="53.3" y="540.0" width="70.4" height="1.2" fill="#fff"/><rect x="53.3" y="588.6" width="70.4" height="1.2" fill="#fff"/><rect x="53.3" y="591.3" width="70.4" height="1.2" fill="#fff"/><polyline points="60.0,467.5 61.4,469.5 62.7,471.5 64.0,473.5 65.3,475.5 66.6,477.5 67.9,479.5 69.2,481.5 70.5,483.5 71.8,485.5 73.2,487.5 74.6,489.5 76.5,491.5 78.4,493.5 80.2,495.5 82.1,497.5 83.9,499.5 85.9,501.5 87.9,503.5 89.9,505.5 91.9,507.5 93.9,509.5 96.0,511.5 98.3,513.5 100.7,515.5 103.0,517.5 105.3,519.5 106.9,521.5 107.7,523.5 108.5,525.5 109.4,527.5 110.2,529.5 111.0,531.5 111.8,533.5 112.6,535.5 113.3,537.5 114.1,539.5 114.8,541.5 115.6,543.5 116.4,545.5 117.1,547.5 117.8,549.5 118.4,551.5 118.5,553.5 118.5,555.5 118.6,557.5 118.4,559.5 118.2,561.5 117.9,563.5 117.7,565.5 116.5,567.5 115.2,569.5 113.8,571.5 112.1,573.5 109.9,575.5 107.7,577.5 105.7,579.5 104.1,581.5 102.5,583.5 100.8,585.5 99.5,587.5 98.6,589.5 97.6,591.5 96.7,593.5 95.7,595.5 94.5,597.5 93.1,599.5 91.8,601.5 90.4,603.5 89.0,605.5 87.2,607.5 84.0,609.5 80.8,611.5 78.3,613.5 76.0,615.5 73.8,617.5 72.6,619.5 71.8,621.5 71.1,623.5 70.3,625.5 69.5,627.5 68.7,629.5 68.0,631.5 67.2,633.5 66.4,635.5 65.5,637.5 64.6,639.5 63.8,641.5 62.9,643.5 61.6,645.5 60.4,647.5" fill="none" stroke="#111" stroke-width="1.25" stroke-dasharray="4 2.4"/><path d="M53 475.5h2M124 475.5h-2M53 516.5h2M124 516.5h-2M53 557.5h2M124 557.5h-2M53 598.5h2M124 598.5h-2M53 639.5h2M124 639.5h-2M59.4 466.5v2M59.4 649.3v-2M89.7 466.5v2M89.7 649.3v-2M120.0 466.5v2M120.0 649.3v-2" stroke="#444" stroke-width="0.7"/><path d="M36.5 279.3h3.5M42.3 279.3h3.5" stroke="#111" stroke-width="1.1"/><path d="M36.5 295.6h9.7" stroke="#4a5ae0" stroke-width="1.1"/><path d="M36.5 311.2h9.7" stroke="#6f8f6f" stroke-width="1.1"/><text x="52.9" y="282.8" font-size="11" text-anchor="start" fill="#111" stroke="#111" stroke-width="0.28" textLength="47.0" lengthAdjust="spacingAndGlyphs">Marginal</text><text x="52.2" y="299.0" font-size="11" text-anchor="start" fill="#111" stroke="#111" stroke-width="0.28" textLength="24.3" lengthAdjust="spacingAndGlyphs">OSA</text><text x="52.2" y="315.0" font-size="11" text-anchor="start" fill="#111" stroke="#111" stroke-width="0.28" textLength="23.3" lengthAdjust="spacingAndGlyphs">RTO</text><path d="M36.5 680.1h3.5M42.3 680.1h3.5" stroke="#111" stroke-width="1.1"/><path d="M36.5 696.4h9.7" stroke="#4a5ae0" stroke-width="1.1"/><path d="M36.5 712.0h9.7" stroke="#6f8f6f" stroke-width="1.1"/><text x="52.9" y="683.6" font-size="11" text-anchor="start" fill="#111" stroke="#111" stroke-width="0.28" textLength="47.0" lengthAdjust="spacingAndGlyphs">Marginal</text><text x="52.2" y="699.8" font-size="11" text-anchor="start" fill="#111" stroke="#111" stroke-width="0.28" textLength="24.3" lengthAdjust="spacingAndGlyphs">OSA</text><text x="52.2" y="715.8" font-size="11" text-anchor="start" fill="#111" stroke="#111" stroke-width="0.28" textLength="23.3" lengthAdjust="spacingAndGlyphs">OSO</text><polyline points="132.6,314.6 133.3,317.0 134.0,317.5 134.7,318.0 135.4,320.1 136.1,318.8 136.8,314.8 137.5,324.2 138.2,319.3 138.9,324.8 139.6,324.6 140.3,324.9 141.0,325.1 141.7,326.3 142.4,326.9 143.1,327.2 143.8,327.7 144.5,329.6 145.2,331.1 145.9,329.4 146.6,331.9 147.3,328.9 148.0,331.0 148.7,329.7 149.4,334.0 150.1,336.2 150.8,337.3 151.5,329.9 152.2,332.4 152.9,325.1 153.6,324.1 154.3,321.1 155.0,324.5 155.7,317.8 156.4,321.3 157.1,315.2 157.8,308.5 158.5,308.1 159.2,308.6 159.9,297.1 160.6,295.3 161.3,293.8 162.0,289.4 162.7,286.4 163.4,292.0 164.1,281.8 164.8,276.7 165.5,275.6 166.2,270.3 166.9,280.1 167.6,272.4 168.3,292.9 169.0,277.6 169.7,272.5 170.4,269.4 171.1,273.0 171.8,277.3 172.5,272.4 173.2,278.5 173.9,278.8 174.6,278.1 175.3,277.9 176.0,277.0 176.7,277.5 177.4,278.7 178.1,280.9 178.8,289.9 179.5,299.3 180.2,301.5 180.9,302.7 181.6,314.2 182.3,313.0 183.0,316.7 183.7,320.5 184.4,324.5 185.1,329.1 185.8,329.5 186.5,331.9 187.2,339.4 187.9,338.5 188.6,338.3 189.3,338.3 190.0,336.1 190.7,339.3 191.4,334.3 192.1,334.0 192.8,336.5 193.5,333.7 194.2,331.7 194.9,331.4 195.6,327.9 196.3,331.7 197.0,328.8 197.7,329.8 198.4,331.3 199.1,329.3 199.8,327.3 200.5,326.9 201.2,325.6 201.9,329.1 202.6,318.6 203.3,321.9 204.0,320.2 204.7,322.9 205.4,320.5 206.1,320.7 206.8,325.4 207.5,320.0 208.2,321.2 208.9,316.8 209.6,315.4 210.3,313.7 211.0,320.6 211.7,312.2 212.4,313.6 213.1,321.7 213.8,315.1 214.5,313.4 215.2,311.9 215.9,308.3 216.6,312.7 217.3,314.2 218.0,307.3 218.7,308.0 219.4,314.7 220.1,307.2 220.8,310.5 221.5,315.5 222.2,304.4 222.9,306.9 223.6,303.7 224.3,298.8 225.0,311.0 225.7,308.2 226.4,304.8 227.1,307.2 227.8,303.2 228.5,299.9 229.2,302.8 229.9,302.6 230.6,301.9 231.3,309.4 232.0,302.8 232.7,302.1 233.4,306.8 234.1,307.9 234.8,312.3 235.5,307.6 236.2,302.0 236.9,304.1 237.6,311.4 238.3,306.9 239.0,311.7 239.7,317.3 240.4,307.2 241.1,308.1 241.8,313.3 242.5,314.8 243.2,318.6 243.9,311.9 244.6,319.7 245.3,318.1 246.0,314.8 246.7,320.0 247.4,322.9 248.1,327.4 248.8,321.5 249.5,326.0 250.2,321.3 250.9,328.5 251.6,326.8 252.3,331.4 253.0,324.7 253.7,326.1 254.4,325.6 255.1,335.0 255.8,330.3 256.5,327.9 257.2,331.4 257.9,335.9 258.6,336.2 259.3,336.5 260.0,331.9 260.7,331.9 261.4,324.7 262.1,323.0 262.8,326.0 263.5,324.3 264.2,318.4 264.9,310.8 265.6,310.7 266.3,309.9 267.0,314.0 267.7,303.6 268.4,297.2 269.1,294.8 269.8,292.7 270.5,290.7 271.2,288.6 271.9,295.4 272.6,280.5 273.3,269.8 274.0,282.9 274.7,273.4 275.4,272.7 276.1,272.9 276.8,276.8 277.5,275.8 278.2,277.5 278.9,273.5 279.6,275.5 280.3,269.7 281.0,269.8 281.7,272.1 282.4,272.9 283.1,266.6 283.8,269.1 284.5,281.3 285.2,283.5 285.9,289.2 286.6,290.4 287.3,292.8 288.0,300.3 288.7,300.5 289.4,301.5 290.1,306.6 290.8,313.6 291.5,318.7 292.2,320.5 292.9,323.1 293.6,327.0 294.3,328.2 295.0,338.6 295.7,337.5 296.4,334.1 297.1,339.6 297.8,335.3 298.5,336.0 299.2,335.9 299.9,337.3 300.6,334.5 301.3,334.6 302.0,333.0 302.7,338.2 303.4,331.8 304.1,329.0 304.8,327.3 305.5,329.9 306.2,328.0 306.9,328.9 307.6,328.9 308.3,324.0 309.0,326.6 309.7,323.7 310.4,323.1 311.1,321.7 311.8,323.0 312.5,320.9 313.2,320.2 313.9,320.5 314.6,317.0 315.3,324.2 316.0,321.5 316.7,317.9 317.4,319.4 318.1,315.0 318.8,317.6 319.5,311.9 320.2,315.8 320.9,315.8 321.6,313.7 322.3,316.6 323.0,311.0 323.7,313.5 324.4,314.3 325.1,313.6 325.8,311.2 326.5,316.3 327.2,312.8 327.9,311.7 328.6,306.3 329.3,308.5 330.0,305.9 330.7,314.8 331.4,308.6 332.1,304.3 332.8,309.8 333.5,310.5 334.2,304.2 334.9,306.6 335.6,314.8 336.3,305.6 337.0,306.5 337.7,316.4 338.4,305.1 339.1,301.0 339.8,302.0 340.5,306.1 341.2,308.6 341.9,302.8 342.6,298.8 343.3,308.4 344.0,305.7 344.7,304.9 345.4,303.7 346.1,311.4 346.8,307.8 347.5,304.8 348.2,306.9 348.9,309.8 349.6,307.4 350.3,311.6 351.0,318.0 351.7,317.9 352.4,319.3 353.1,320.2 353.8,318.6 354.5,320.2 355.2,314.9 355.9,323.2 356.6,323.6 357.3,323.3 358.0,324.1 358.7,321.3 359.4,323.8 360.1,321.7 360.8,325.5 361.5,326.9 362.2,326.7 362.9,332.2 363.6,328.0 364.3,331.7 365.0,332.2 365.7,332.1 366.4,334.7 367.1,335.1 367.8,334.1 368.5,338.8 369.2,333.9 369.9,333.1 370.6,326.3 371.3,323.8 372.0,324.1 372.7,327.8 373.4,314.5 374.1,312.0 374.8,310.6 375.5,309.0 376.2,308.1 376.9,308.8 377.6,301.1 378.3,300.9 379.0,295.4 379.7,289.7 380.4,286.8 381.1,287.9 381.8,283.3 382.5,285.7 383.2,278.8 383.9,276.5 384.6,270.8 385.3,271.9 386.0,277.2 386.7,277.0 387.4,283.7 388.1,272.3 388.8,278.6 389.5,275.0 390.2,265.0 390.9,269.6 391.6,276.7 392.3,273.6 393.0,272.1 393.7,281.0 394.4,278.0 395.1,284.1 395.8,289.9 396.5,288.2 397.2,297.4 397.9,295.6 398.6,299.6 399.3,313.0 400.0,318.3 400.7,321.1 401.4,319.8 402.1,324.1 402.8,325.6 403.5,328.8 404.2,334.5 404.9,336.3 405.6,340.7 406.3,334.2 407.0,335.8 407.7,333.6 408.4,332.8 409.1,339.4 409.8,338.1 410.5,334.8 411.2,334.4 411.9,333.9 412.6,331.9 413.3,323.4 414.0,324.7 414.7,331.1 415.4,322.4 416.1,331.9 416.8,329.7 417.5,327.7 418.2,327.2 418.9,327.4 419.6,323.1 420.3,329.2 421.0,322.7 421.7,320.1 422.4,327.4 423.1,321.7 423.8,321.6 424.5,323.6 425.2,326.1 425.9,318.7 426.6,318.6 427.3,313.3 428.0,317.1 428.7,321.7 429.4,313.4 430.1,312.3 430.8,309.1 431.5,309.8 432.2,309.1 432.9,312.9 433.6,313.2 434.3,304.8 435.0,312.5 435.7,314.9 436.4,312.8 437.1,306.6 437.8,311.6 438.5,306.2 439.2,303.7 439.9,302.4 440.6,301.8 441.3,305.7 442.0,308.8 442.7,299.8 443.4,298.8 444.1,310.2 444.8,302.1 445.5,313.6 446.2,306.5 446.9,299.7 447.6,308.6 448.3,309.1 449.0,299.2 449.7,304.7 450.4,310.9 451.1,300.4 451.8,307.7 452.5,307.6 453.2,313.6 453.9,311.5 454.6,305.4 455.3,302.6 456.0,307.4 456.7,310.0 457.4,310.5 458.1,310.1 458.8,309.3 459.5,317.7 460.2,313.2 460.9,313.0 461.6,317.1 462.3,317.8 463.0,318.3 463.7,323.0 464.4,317.2 465.1,322.0 465.8,325.0 466.5,321.5 467.2,324.1 467.9,326.3 468.6,326.8 469.3,326.2 470.0,323.7 470.7,325.4 471.4,328.7 472.1,328.7 472.8,329.5 473.5,329.8 474.2,327.7 474.9,334.3 475.6,331.1 476.3,338.1 477.0,341.5 477.7,337.9 478.4,334.6 479.1,329.2 479.8,325.6 480.5,324.4 481.2,325.8 481.9,320.4 482.6,312.5 483.3,317.6 484.0,310.7 484.7,312.6 485.4,307.1 486.1,301.1 486.8,299.1 487.5,300.6 488.2,292.0 488.9,297.0 489.6,284.4 490.3,291.4 491.0,275.1 491.7,272.9 492.4,280.6 493.1,284.4 493.8,274.7 494.5,279.5 495.2,270.6 495.9,270.2 496.6,275.4 497.3,286.2 498.0,273.9 498.7,267.1 499.4,263.0 500.1,274.8 500.8,278.4 501.5,273.4 502.2,276.1 502.9,272.3 503.6,286.1 504.3,286.0 505.0,281.0 505.7,288.3 506.4,300.9 507.1,300.5 507.8,296.8 508.5,309.0 509.2,313.5 509.9,311.2 510.6,323.9 511.3,329.5 512.0,327.3 512.7,329.6 513.4,334.4 514.1,336.9 514.8,337.7" fill="none" stroke="#3d7445" stroke-width="1.0" stroke-linejoin="round"/><polyline points="132.6,314.5 134.1,316.6 135.6,318.7 137.1,320.7 138.6,322.5 140.1,324.3 141.6,326.1 143.1,327.9 144.6,329.7 146.1,331.4 147.6,333.2 149.1,335.0 150.6,331.3 152.1,325.6 153.6,319.9 155.1,314.2 156.6,308.4 158.1,302.2 159.6,295.2 161.1,288.2 162.6,281.2 164.1,276.4 165.6,274.9 167.1,274.0 168.6,274.0 170.1,274.0 171.6,274.0 173.1,274.0 174.6,274.5 176.1,282.5 177.6,290.7 179.1,301.2 180.6,311.7 182.1,320.7 183.6,327.3 185.1,334.0 186.6,337.5 188.1,336.1 189.6,334.7 191.1,333.4 192.6,331.9 194.1,330.4 195.6,328.9 197.1,327.4 198.6,325.9 200.1,324.4 201.6,322.9 203.1,321.4 204.6,319.9 206.1,318.6 207.6,317.3 209.1,316.0 210.6,314.7 212.1,313.4 213.6,312.1 215.1,310.8 216.6,309.5 218.1,308.2 219.6,307.0 221.1,306.4 222.6,305.8 224.1,305.3 225.6,304.7 227.1,304.1 228.6,304.3 230.1,304.6 231.6,305.0 233.1,305.4 234.6,305.8 236.1,306.8 237.6,308.9 239.1,311.0 240.6,313.1 242.1,315.2 243.6,317.3 245.1,319.4 246.6,321.3 248.1,323.1 249.6,324.9 251.1,326.7 252.6,328.5 254.1,330.3 255.6,332.0 257.1,333.8 258.6,335.1 260.1,329.4 261.6,323.7 263.1,318.0 264.6,312.2 266.1,306.5 267.6,299.9 269.1,292.9 270.6,285.9 272.1,278.9 273.6,275.9 275.1,274.4 276.6,274.0 278.1,274.0 279.6,274.0 281.1,274.0 282.6,274.0 284.1,277.2 285.6,285.2 287.1,294.2 288.6,304.7 290.1,315.2 291.6,322.9 293.1,329.6 294.6,336.2 296.1,337.0 297.6,335.6 299.1,334.3 300.6,332.9 302.1,331.4 303.6,329.9 305.1,328.4 306.6,326.9 308.1,325.4 309.6,323.9 311.1,322.4 312.6,320.9 314.1,319.5 315.6,318.2 317.1,316.9 318.6,315.6 320.1,314.3 321.6,313.0 323.1,311.7 324.6,310.4 326.1,309.1 327.6,307.8 329.1,306.8 330.6,306.2 332.1,305.6 333.6,305.1 335.1,304.5 336.6,304.0 338.1,304.4 339.6,304.8 341.1,305.1 342.6,305.5 344.1,305.9 345.6,307.5 347.1,309.6 348.6,311.7 350.1,313.8 351.6,315.9 353.1,318.0 354.6,320.1 356.1,321.9 357.6,323.7 359.1,325.5 360.6,327.3 362.1,329.1 363.6,330.9 365.1,332.6 366.6,334.4 368.1,333.2 369.6,327.5 371.1,321.8 372.6,316.1 374.1,310.3 375.6,304.5 377.1,297.5 378.6,290.5 380.1,283.5 381.6,276.9 383.1,275.4 384.6,274.0 386.1,274.0 387.6,274.0 389.1,274.0 390.6,274.0 392.1,274.0 393.6,279.9 395.1,287.9 396.6,297.7 398.1,308.2 399.6,318.4 401.1,325.1 402.6,331.8 404.1,337.9 405.6,336.5 407.1,335.2 408.6,333.8 410.1,332.4 411.6,330.9 413.1,329.4 414.6,327.9 416.1,326.4 417.6,324.9 419.1,323.4 420.6,321.9 422.1,320.4 423.6,319.0 425.1,317.7 426.6,316.4 428.1,315.1 429.6,313.8 431.1,312.5 432.6,311.2 434.1,309.9 435.6,308.6 437.1,307.3 438.6,306.6 440.1,306.0 441.6,305.5 443.1,304.9 444.6,304.3 446.1,304.1 447.6,304.5 449.1,304.9 450.6,305.3 452.1,305.6 453.6,306.1 455.1,308.2 456.6,310.3 458.1,312.4 459.6,314.5 461.1,316.6 462.6,318.7 464.1,320.7 465.6,322.5 467.1,324.3 468.6,326.1 470.1,327.9 471.6,329.7 473.1,331.4 474.6,333.2 476.1,335.0 477.6,331.3 479.1,325.6 480.6,319.9 482.1,314.1 483.6,308.4 485.1,302.2 486.6,295.2 488.1,288.2 489.6,281.2 491.1,276.4 492.6,274.9 494.1,274.0 495.6,274.0 497.1,274.0 498.6,274.0 500.1,274.0 501.6,274.5 503.1,282.5 504.6,290.7 506.1,301.2 507.6,311.7 509.1,320.7 510.6,327.3 512.1,334.0 513.6,337.5 515.1,336.1" fill="none" stroke="#111" stroke-width="1.1" stroke-dasharray="3.5 2.2"/><path d="M159.5 262v2M159.5 342.6v-2M214.1 262v2M214.1 342.6v-2M268.7 262v2M268.7 342.6v-2M323.3 262v2M323.3 342.6v-2M377.9 262v2M377.9 342.6v-2M432.5 262v2M432.5 342.6v-2M487.1 262v2M487.1 342.6v-2M132.6 268.0h3M515.2 268.0h-3M132.6 302.4h3M515.2 302.4h-3M132.6 336.2h3M515.2 336.2h-3" stroke="#333" stroke-width="0.8"/><polygon points="132.8,728.1 133.4,728.4 134.0,728.1 134.6,728.2 135.2,727.6 135.8,727.4 136.4,727.1 137.0,727.2 137.6,727.2 138.2,726.8 138.8,726.7 139.4,727.4 140.0,726.4 140.6,726.8 141.2,726.5 141.8,726.5 142.4,726.4 143.0,726.8 143.6,726.2 144.2,726.2 144.8,725.7 145.4,726.4 146.0,725.5 146.6,725.9 147.2,725.4 147.8,725.2 148.4,725.3 149.0,725.0 149.6,725.0 150.2,725.2 150.8,725.2 151.4,725.0 152.0,724.3 152.6,725.2 153.2,724.7 153.8,725.4 154.4,725.1 155.0,725.8 155.6,725.3 156.2,725.3 156.8,725.4 157.4,725.7 158.0,725.5 158.6,726.1 159.2,726.8 159.8,727.2 160.4,726.7 161.0,727.2 161.6,727.7 162.2,726.6 162.8,726.5 163.4,725.8 164.0,725.5 164.6,725.1 165.2,724.7 165.8,724.1 166.4,724.1 167.0,724.0 167.6,722.9 168.2,722.6 168.8,721.7 169.4,722.1 170.0,721.6 170.6,721.3 171.2,720.7 171.8,720.3 172.4,720.0 173.0,718.8 173.6,718.6 174.2,718.3 174.8,718.7 175.4,718.0 176.0,717.4 176.6,717.7 177.2,716.6 177.8,716.4 178.4,716.4 179.0,716.2 179.6,716.6 180.2,715.5 180.8,715.6 181.4,715.4 182.0,715.2 182.6,715.7 183.2,715.0 183.8,713.9 184.4,713.8 185.0,714.8 185.6,713.4 186.2,713.3 186.8,713.6 187.4,712.8 188.0,712.8 188.6,712.9 189.2,712.8 189.8,711.9 190.4,712.1 191.0,712.6 191.6,711.8 192.2,710.8 192.8,711.6 193.4,711.5 194.0,710.4 194.6,709.9 195.2,709.6 195.8,711.0 196.4,710.6 197.0,709.1 197.6,709.2 198.2,710.1 198.8,708.5 199.4,708.7 200.0,709.2 200.6,708.9 201.2,708.4 201.8,708.3 202.4,708.5 203.0,708.0 203.6,706.4 204.2,707.3 204.8,707.5 205.4,705.7 206.0,707.3 206.6,705.2 207.2,706.5 207.8,705.8 208.4,704.6 209.0,704.7 209.6,704.9 210.2,704.8 210.8,704.6 211.4,704.4 212.0,703.4 212.6,705.1 213.2,705.0 213.8,705.0 214.4,704.1 215.0,705.2 215.6,704.1 216.2,703.9 216.8,704.0 217.4,704.7 218.0,705.3 218.6,706.3 219.2,707.0 219.8,705.9 220.4,707.9 221.0,708.3 221.6,707.7 222.2,705.7 222.8,706.3 223.4,705.2 224.0,704.6 224.6,703.6 225.2,702.5 225.8,701.6 226.4,698.5 227.0,697.1 227.6,696.4 228.2,694.5 228.8,693.7 229.4,692.0 230.0,688.8 230.6,688.8 231.2,687.7 231.8,688.4 232.4,688.6 233.0,687.9 233.6,685.6 234.2,686.7 234.8,683.9 235.4,683.1 236.0,682.5 236.6,683.0 237.2,681.8 237.8,681.8 238.4,681.2 239.0,680.9 239.6,682.3 240.2,681.8 240.8,681.9 241.4,681.6 242.0,679.6 242.6,682.1 243.2,681.6 243.8,680.5 244.4,681.3 245.0,680.6 245.6,681.4 246.2,679.7 246.8,679.1 247.4,678.6 248.0,680.4 248.6,677.5 249.2,677.2 249.8,679.3 250.4,679.5 251.0,676.7 251.6,677.9 252.2,676.9 252.8,677.3 253.4,677.9 254.0,677.3 254.6,676.4 255.2,676.9 255.8,675.6 256.4,677.4 257.0,674.8 257.6,676.7 258.2,676.7 258.8,675.2 259.4,675.8 260.0,673.3 260.6,674.2 261.2,672.6 261.8,674.1 262.4,673.6 263.0,673.1 263.6,671.7 264.2,673.6 264.8,671.5 265.4,672.4 266.0,671.0 266.6,672.4 267.2,672.1 267.8,673.1 268.4,671.4 269.0,670.8 269.6,668.9 270.2,669.5 270.8,671.2 271.4,668.7 272.0,669.5 272.6,670.7 273.2,668.6 273.8,668.7 274.4,669.9 275.0,668.0 275.6,666.2 276.2,668.0 276.8,667.9 277.4,665.3 278.0,668.6 278.6,667.5 279.2,666.7 279.8,667.6 280.4,666.4 281.0,666.3 281.6,664.2 282.2,666.1 282.8,666.0 283.4,665.9 284.0,666.2 284.6,664.7 285.2,663.1 285.8,665.7 286.4,665.2 287.0,662.0 287.6,664.8 288.2,664.1 288.8,661.3 289.4,661.4 290.0,663.0 290.6,661.7 291.2,662.2 291.8,660.9 292.4,662.3 293.0,661.1 293.6,663.2 294.2,663.0 294.8,661.9 295.4,661.5 296.0,661.1 296.6,660.6 297.2,663.7 297.8,660.9 298.4,661.2 299.0,662.1 299.6,662.0 300.2,662.0 300.8,662.1 301.4,661.2 302.0,664.1 302.6,661.2 303.2,662.2 303.8,660.6 304.4,663.4 305.0,663.1 305.6,663.3 306.2,662.5 306.8,661.1 307.4,664.9 308.0,662.1 308.6,663.2 309.2,664.4 309.8,662.9 310.4,662.5 311.0,664.1 311.6,664.2 312.2,665.0 312.8,663.9 313.4,665.2 314.0,663.0 314.6,664.9 315.2,662.8 315.8,666.2 316.4,666.4 317.0,666.6 317.6,665.4 318.2,666.3 318.8,665.0 319.4,665.5 320.0,665.7 320.6,664.3 321.2,664.0 321.8,665.2 322.4,666.5 323.0,665.6 323.6,665.7 324.2,666.4 324.8,665.8 325.4,665.4 326.0,668.2 326.6,668.0 327.2,665.2 327.8,666.8 328.4,666.1 329.0,666.2 329.6,667.1 330.2,668.6 330.8,666.3 331.4,666.0 332.0,668.9 332.6,669.0 333.2,666.2 333.8,669.1 334.4,668.1 335.0,669.3 335.6,669.6 336.2,669.8 336.8,668.8 337.4,669.6 338.0,666.9 338.6,667.4 339.2,667.1 339.8,668.0 340.4,667.6 341.0,668.1 341.6,670.0 342.2,668.7 342.8,670.6 343.4,668.7 344.0,670.5 344.6,670.7 345.2,669.5 345.8,670.0 346.4,668.1 347.0,668.9 347.6,670.5 348.2,669.5 348.8,668.4 349.4,668.1 350.0,671.2 350.6,669.8 351.2,670.3 351.8,669.3 352.4,670.2 353.0,668.5 353.6,669.4 354.2,671.8 354.8,671.4 355.4,668.9 356.0,671.5 356.6,669.5 357.2,670.3 357.8,668.8 358.4,671.8 359.0,670.9 359.6,671.6 360.2,671.4 360.8,672.2 361.4,670.3 362.0,672.4 362.6,671.9 363.2,672.3 363.8,671.9 364.4,671.9 365.0,674.3 365.6,674.1 366.2,674.3 366.8,674.4 367.4,674.1 368.0,673.5 368.6,674.8 369.2,674.0 369.8,675.2 370.4,674.1 371.0,676.6 371.6,677.5 372.2,676.8 372.8,676.1 373.4,676.2 374.0,676.2 374.6,677.5 375.2,677.1 375.8,678.6 376.4,677.3 377.0,679.7 377.6,677.4 378.2,678.1 378.8,678.4 379.4,679.1 380.0,678.3 380.6,678.9 381.2,680.1 381.8,679.5 382.4,681.9 383.0,680.8 383.6,680.9 384.2,680.9 384.8,681.2 385.4,683.2 386.0,682.5 386.6,681.8 387.2,682.5 387.8,681.5 388.4,682.1 389.0,682.1 389.6,683.0 390.2,685.2 390.8,684.0 391.4,684.8 392.0,684.2 392.6,686.2 393.2,685.0 393.8,685.6 394.4,686.2 395.0,685.8 395.6,686.8 396.2,687.6 396.8,687.8 397.4,685.8 398.0,687.9 398.6,688.1 399.2,688.4 399.8,689.0 400.4,687.6 401.0,688.2 401.6,689.4 402.2,688.8 402.8,690.0 403.4,690.7 404.0,691.2 404.6,690.5 405.2,690.2 405.8,691.0 406.4,692.8 407.0,693.3 407.6,692.8 408.2,693.9 408.8,694.5 409.4,694.8 410.0,694.3 410.6,695.5 411.2,694.2 411.8,695.3 412.4,695.2 413.0,694.5 413.6,695.3 414.2,695.6 414.8,697.2 415.4,697.3 416.0,697.6 416.6,697.9 417.2,697.2 417.8,697.6 418.4,698.6 419.0,698.3 419.6,698.0 420.2,699.1 420.8,700.4 421.4,700.0 422.0,699.9 422.6,699.6 423.2,701.1 423.8,701.3 424.4,701.7 425.0,701.8 425.6,700.6 426.2,701.2 426.8,702.2 427.4,701.4 428.0,702.7 428.6,702.2 429.2,702.4 429.8,702.9 430.4,703.1 431.0,703.0 431.6,704.1 432.2,705.2 432.8,705.0 433.4,705.3 434.0,704.5 434.6,705.6 435.2,704.8 435.8,705.0 436.4,706.3 437.0,706.7 437.6,707.0 438.2,705.8 438.8,706.8 439.4,706.7 440.0,707.3 440.6,707.5 441.2,708.9 441.8,708.8 442.4,707.9 443.0,708.5 443.6,708.8 444.2,709.8 444.8,709.3 445.4,709.3 446.0,710.8 446.6,710.9 447.2,710.3 447.8,710.4 448.4,710.9 449.0,710.4 449.6,709.9 450.2,710.3 450.8,710.2 451.4,711.5 452.0,711.1 452.6,711.0 453.2,710.7 453.8,710.6 454.4,711.9 455.0,711.7 455.6,712.0 456.2,712.3 456.8,711.5 457.4,711.7 458.0,712.1 458.6,712.3 459.2,712.6 459.8,712.2 460.4,711.9 461.0,711.7 461.6,711.4 462.2,712.3 462.8,712.5 463.4,711.6 464.0,711.7 464.6,712.0 465.2,712.8 465.8,713.4 466.4,713.5 467.0,712.9 467.6,712.3 468.2,712.9 468.8,713.8 469.4,712.5 470.0,713.8 470.6,713.7 471.2,714.1 471.8,714.1 472.4,713.2 473.0,714.0 473.6,713.5 474.2,713.1 474.8,713.7 475.4,714.8 476.0,715.8 476.6,716.6 477.2,715.8 477.8,717.2 478.4,717.2 479.0,717.5 479.6,718.1 480.2,719.0 480.8,720.0 481.4,720.4 482.0,721.5 482.6,721.7 483.2,722.6 483.8,723.9 484.4,724.5 485.0,724.8 485.6,725.3 486.2,724.6 486.8,724.1 487.4,723.6 488.0,723.4 488.6,722.6 489.2,722.5 489.8,721.7 490.4,721.5 491.0,721.6 491.6,720.5 492.2,720.4 492.8,719.8 493.4,719.7 494.0,720.2 494.6,718.5 495.2,719.4 495.8,719.5 496.4,719.7 497.0,719.3 497.6,719.6 498.2,719.3 498.8,719.5 499.4,719.3 500.0,720.6 500.6,720.5 501.2,719.8 501.8,720.2 502.4,720.9 503.0,720.3 503.6,720.9 504.2,721.5 504.8,721.6 505.4,720.9 506.0,722.0 506.6,721.6 507.2,721.8 507.8,721.5 508.4,721.6 509.0,722.3 509.6,722.4 510.2,722.9 510.8,722.8 511.4,722.8 512.0,723.2 512.6,723.4 513.2,723.4 513.2,726.4 512.6,726.0 512.0,726.1 511.4,726.3 510.8,726.1 510.2,725.7 509.6,725.9 509.0,726.3 508.4,725.9 507.8,725.7 507.2,725.2 506.6,725.0 506.0,724.6 505.4,725.0 504.8,724.7 504.2,724.7 503.6,724.9 503.0,724.9 502.4,723.9 501.8,724.3 501.2,724.5 500.6,724.0 500.0,724.2 499.4,723.8 498.8,724.3 498.2,723.4 497.6,723.3 497.0,723.9 496.4,723.6 495.8,722.8 495.2,723.2 494.6,723.4 494.0,723.2 493.4,723.4 492.8,724.0 492.2,724.7 491.6,725.3 491.0,725.2 490.4,725.5 489.8,725.8 489.2,726.3 488.6,726.7 488.0,727.4 487.4,728.0 486.8,727.6 486.2,728.5 485.6,729.0 485.0,727.9 484.4,727.9 483.8,726.8 483.2,726.4 482.6,725.4 482.0,725.7 481.4,724.8 480.8,723.6 480.2,723.0 479.6,722.7 479.0,722.0 478.4,721.7 477.8,721.6 477.2,721.5 476.6,721.0 476.0,719.2 475.4,719.3 474.8,719.7 474.2,719.0 473.6,718.2 473.0,718.9 472.4,717.7 471.8,718.7 471.2,717.6 470.6,717.8 470.0,717.4 469.4,718.6 468.8,717.5 468.2,718.1 467.6,717.6 467.0,718.1 466.4,718.2 465.8,717.3 465.2,717.3 464.6,717.2 464.0,716.8 463.4,716.6 462.8,717.5 462.2,716.5 461.6,717.4 461.0,717.6 460.4,716.2 459.8,716.3 459.2,717.3 458.6,717.5 458.0,716.7 457.4,716.7 456.8,717.2 456.2,716.3 455.6,716.1 455.0,717.2 454.4,715.6 453.8,715.8 453.2,716.6 452.6,716.9 452.0,716.5 451.4,716.0 450.8,716.5 450.2,715.2 449.6,715.3 449.0,716.4 448.4,716.4 447.8,716.4 447.2,715.8 446.6,714.9 446.0,714.8 445.4,714.7 444.8,715.0 444.2,714.3 443.6,714.4 443.0,713.9 442.4,713.4 441.8,714.4 441.2,712.9 440.6,713.5 440.0,712.6 439.4,713.0 438.8,712.8 438.2,712.5 437.6,713.2 437.0,712.0 436.4,712.7 435.8,711.2 435.2,711.2 434.6,710.8 434.0,711.9 433.4,710.3 432.8,711.0 432.2,709.7 431.6,709.9 431.0,710.4 430.4,709.9 429.8,709.0 429.2,709.7 428.6,708.0 428.0,709.4 427.4,708.2 426.8,707.4 426.2,707.6 425.6,707.6 425.0,708.2 424.4,706.6 423.8,706.7 423.2,707.6 422.6,707.1 422.0,705.6 421.4,705.7 420.8,706.2 420.2,706.2 419.6,704.8 419.0,705.4 418.4,704.3 417.8,704.6 417.2,704.8 416.6,704.8 416.0,704.2 415.4,704.2 414.8,704.6 414.2,704.1 413.6,704.2 413.0,702.5 412.4,702.7 411.8,702.9 411.2,702.1 410.6,702.2 410.0,701.8 409.4,701.3 408.8,699.8 408.2,700.8 407.6,701.1 407.0,698.8 406.4,700.8 405.8,700.4 405.2,699.6 404.6,699.9 404.0,697.3 403.4,699.3 402.8,699.1 402.2,698.0 401.6,697.2 401.0,697.9 400.4,697.4 399.8,696.5 399.2,696.2 398.6,695.8 398.0,695.7 397.4,696.5 396.8,695.2 396.2,693.5 395.6,694.9 395.0,694.0 394.4,694.9 393.8,694.2 393.2,694.9 392.6,694.2 392.0,692.2 391.4,692.5 390.8,693.1 390.2,692.5 389.6,691.5 389.0,692.2 388.4,690.9 387.8,690.9 387.2,691.0 386.6,691.5 386.0,692.2 385.4,690.6 384.8,690.2 384.2,689.1 383.6,690.6 383.0,690.7 382.4,690.5 381.8,688.7 381.2,690.8 380.6,689.1 380.0,690.3 379.4,689.0 378.8,689.6 378.2,688.3 377.6,687.4 377.0,688.2 376.4,689.3 375.8,688.5 375.2,687.0 374.6,685.7 374.0,686.4 373.4,687.9 372.8,686.7 372.2,686.9 371.6,685.2 371.0,686.9 370.4,685.0 369.8,685.4 369.2,686.1 368.6,685.2 368.0,684.5 367.4,682.8 366.8,684.2 366.2,685.5 365.6,684.7 365.0,685.1 364.4,682.0 363.8,682.4 363.2,681.6 362.6,683.0 362.0,683.1 361.4,683.0 360.8,682.7 360.2,683.1 359.6,683.3 359.0,682.2 358.4,680.8 357.8,682.3 357.2,680.1 356.6,682.4 356.0,681.1 355.4,682.1 354.8,682.5 354.2,679.2 353.6,681.0 353.0,681.4 352.4,681.2 351.8,679.5 351.2,679.6 350.6,680.0 350.0,679.9 349.4,680.1 348.8,679.9 348.2,681.1 347.6,678.9 347.0,679.4 346.4,680.8 345.8,679.7 345.2,680.1 344.6,680.8 344.0,678.9 343.4,681.2 342.8,680.2 342.2,680.1 341.6,679.2 341.0,679.7 340.4,677.9 339.8,680.3 339.2,680.3 338.6,677.8 338.0,677.7 337.4,678.0 336.8,680.5 336.2,678.0 335.6,680.7 335.0,679.4 334.4,679.4 333.8,680.2 333.2,680.1 332.6,677.1 332.0,677.7 331.4,678.6 330.8,677.9 330.2,677.5 329.6,677.5 329.0,677.3 328.4,677.3 327.8,678.0 327.2,676.1 326.6,678.7 326.0,678.7 325.4,679.5 324.8,678.0 324.2,676.6 323.6,678.7 323.0,678.0 322.4,676.1 321.8,678.8 321.2,676.8 320.6,676.2 320.0,676.8 319.4,675.6 318.8,677.5 318.2,677.7 317.6,674.6 317.0,677.7 316.4,676.7 315.8,677.8 315.2,674.2 314.6,675.7 314.0,676.0 313.4,675.3 312.8,675.7 312.2,677.2 311.6,674.1 311.0,674.6 310.4,673.3 309.8,674.5 309.2,676.1 308.6,674.3 308.0,673.2 307.4,676.3 306.8,675.0 306.2,672.8 305.6,675.8 305.0,674.6 304.4,674.4 303.8,672.7 303.2,672.7 302.6,673.3 302.0,674.0 301.4,675.0 300.8,674.3 300.2,673.3 299.6,673.3 299.0,674.9 298.4,674.9 297.8,675.4 297.2,673.8 296.6,673.0 296.0,673.4 295.4,674.4 294.8,671.4 294.2,674.3 293.6,671.7 293.0,673.0 292.4,675.5 291.8,673.1 291.2,675.0 290.6,674.9 290.0,676.0 289.4,675.5 288.8,675.6 288.2,674.9 287.6,674.7 287.0,676.5 286.4,676.6 285.8,676.9 285.2,676.5 284.6,675.2 284.0,676.8 283.4,674.8 282.8,677.3 282.2,676.4 281.6,675.7 281.0,678.3 280.4,678.3 279.8,676.9 279.2,679.4 278.6,676.0 278.0,676.8 277.4,677.0 276.8,679.2 276.2,677.4 275.6,677.3 275.0,677.4 274.4,677.8 273.8,680.8 273.2,679.3 272.6,680.3 272.0,679.7 271.4,680.7 270.8,681.2 270.2,681.4 269.6,682.7 269.0,680.6 268.4,681.5 267.8,683.5 267.2,681.0 266.6,680.8 266.0,680.9 265.4,682.1 264.8,683.2 264.2,682.7 263.6,682.9 263.0,684.6 262.4,682.9 261.8,685.3 261.2,685.8 260.6,684.8 260.0,686.4 259.4,685.5 258.8,686.6 258.2,686.2 257.6,686.8 257.0,685.1 256.4,685.5 255.8,686.9 255.2,685.8 254.6,686.9 254.0,686.1 253.4,687.0 252.8,688.3 252.2,687.9 251.6,687.7 251.0,688.3 250.4,687.3 249.8,688.1 249.2,687.8 248.6,688.9 248.0,689.1 247.4,688.0 246.8,688.3 246.2,688.8 245.6,690.6 245.0,689.5 244.4,690.3 243.8,690.0 243.2,690.7 242.6,689.3 242.0,690.0 241.4,689.3 240.8,691.5 240.2,691.5 239.6,691.9 239.0,692.6 238.4,691.7 237.8,692.3 237.2,691.5 236.6,692.3 236.0,692.2 235.4,692.0 234.8,693.8 234.2,694.4 233.6,695.2 233.0,696.5 232.4,696.0 231.8,697.0 231.2,696.4 230.6,697.6 230.0,697.3 229.4,699.1 228.8,700.6 228.2,703.2 227.6,704.0 227.0,705.3 226.4,706.9 225.8,707.2 225.2,707.8 224.6,710.5 224.0,710.2 223.4,710.2 222.8,712.0 222.2,711.7 221.6,711.9 221.0,712.6 220.4,711.9 219.8,712.0 219.2,711.4 218.6,712.1 218.0,711.0 217.4,710.1 216.8,709.6 216.2,711.1 215.6,710.8 215.0,709.7 214.4,710.9 213.8,711.2 213.2,710.3 212.6,709.5 212.0,709.4 211.4,710.2 210.8,710.8 210.2,710.1 209.6,711.5 209.0,711.6 208.4,712.0 207.8,710.9 207.2,712.2 206.6,711.7 206.0,711.9 205.4,713.1 204.8,712.1 204.2,713.5 203.6,712.1 203.0,713.8 202.4,712.9 201.8,713.2 201.2,714.2 200.6,713.8 200.0,713.4 199.4,714.1 198.8,714.1 198.2,714.0 197.6,714.2 197.0,715.6 196.4,715.4 195.8,715.1 195.2,715.8 194.6,715.1 194.0,716.4 193.4,715.8 192.8,717.1 192.2,716.3 191.6,717.0 191.0,717.2 190.4,718.0 189.8,717.7 189.2,717.7 188.6,717.8 188.0,718.3 187.4,717.5 186.8,718.8 186.2,719.4 185.6,719.1 185.0,719.5 184.4,719.2 183.8,718.7 183.2,720.1 182.6,720.2 182.0,719.2 181.4,720.3 180.8,719.8 180.2,720.0 179.6,720.3 179.0,720.3 178.4,720.5 177.8,720.9 177.2,720.9 176.6,721.0 176.0,722.0 175.4,722.6 174.8,722.3 174.2,722.3 173.6,722.9 173.0,723.3 172.4,723.2 171.8,724.3 171.2,724.3 170.6,725.1 170.0,725.2 169.4,725.1 168.8,725.9 168.2,726.6 167.6,726.5 167.0,726.7 166.4,727.1 165.8,727.4 165.2,727.7 164.6,728.9 164.0,729.4 163.4,729.6 162.8,729.9 162.2,729.6 161.6,730.8 161.0,730.3 160.4,730.0 159.8,729.3 159.2,729.6 158.6,729.4 158.0,728.8 157.4,729.4 156.8,729.1 156.2,729.3 155.6,728.2 155.0,728.7 154.4,728.6 153.8,728.5 153.2,728.4 152.6,728.1 152.0,728.4 151.4,727.7 150.8,728.0 150.2,728.6 149.6,728.3 149.0,728.2 148.4,728.8 147.8,729.3 147.2,728.8 146.6,728.7 146.0,728.9 145.4,728.9 144.8,729.6 144.2,728.9 143.6,729.8 143.0,729.9 142.4,730.0 141.8,729.4 141.2,729.4 140.6,729.5 140.0,729.9 139.4,729.8 138.8,730.4 138.2,730.7 137.6,730.2 137.0,730.7 136.4,730.4 135.8,730.9 135.2,730.9 134.6,730.8 134.0,731.2 133.4,731.1 132.8,731.0" fill="#4f8556" opacity="0.9"/><polyline points="132.8,730.1 133.1,727.8 133.4,729.0 133.7,731.4 134.0,729.2 134.3,729.4 134.6,729.6 134.9,728.3 135.2,727.6 135.5,731.5 135.8,729.0 136.1,727.8 136.4,729.9 136.7,728.4 137.0,727.8 137.3,728.2 137.6,727.2 137.9,727.5 138.2,729.6 138.5,728.7 138.8,728.2 139.1,729.9 139.4,729.2 139.7,727.9 140.0,726.7 140.3,727.7 140.6,729.7 140.9,727.1 141.2,730.6 141.5,727.8 141.8,726.5 142.1,727.5 142.4,729.6 142.7,727.2 143.0,728.4 143.3,728.6 143.6,727.1 143.9,728.9 144.2,729.3 144.5,728.5 144.8,725.5 145.1,727.9 145.4,728.3 145.7,728.5 146.0,729.5 146.3,727.7 146.6,727.3 146.9,724.8 147.2,725.8 147.5,728.5 147.8,725.7 148.1,726.7 148.4,725.0 148.7,726.6 149.0,725.4 149.3,727.4 149.6,726.7 149.9,727.2 150.2,724.8 150.5,726.4 150.8,727.6 151.1,722.7 151.4,725.7 151.7,726.3 152.0,727.4 152.3,727.2 152.6,727.2 152.9,726.9 153.2,727.5 153.5,726.4 153.8,726.5 154.1,725.3 154.4,726.5 154.7,726.5 155.0,728.8 155.3,725.6 155.6,727.3 155.9,726.7 156.2,727.2 156.5,728.4 156.8,727.1 157.1,726.2 157.4,727.4 157.7,728.5 158.0,727.8 158.3,728.4 158.6,726.1 158.9,728.9 159.2,727.4 159.5,726.7 159.8,728.6 160.1,726.7 160.4,728.8 160.7,730.4 161.0,728.1 161.3,727.9 161.6,730.1 161.9,729.4 162.2,729.4 162.5,726.1 162.8,727.1 163.1,730.0 163.4,726.7 163.7,726.9 164.0,727.4 164.3,727.3 164.6,726.6 164.9,723.5 165.2,727.1 165.5,724.8 165.8,727.3 166.1,727.4 166.4,724.3 166.7,725.6 167.0,727.4 167.3,727.3 167.6,726.1 167.9,724.0 168.2,725.0 168.5,723.0 168.8,726.1 169.1,724.4 169.4,725.6 169.7,720.0 170.0,722.5 170.3,722.3 170.6,722.3 170.9,720.9 171.2,723.1 171.5,721.0 171.8,724.8 172.1,721.3 172.4,721.0 172.7,720.4 173.0,722.2 173.3,721.6 173.6,719.4 173.9,716.0 174.2,719.9 174.5,719.0 174.8,720.1 175.1,718.5 175.4,720.3 175.7,717.9 176.0,720.0 176.3,719.1 176.6,720.9 176.9,719.1 177.2,720.2 177.5,718.6 177.8,718.6 178.1,717.8 178.4,716.6 178.7,719.0 179.0,718.5 179.3,721.1 179.6,719.1 179.9,721.4 180.2,721.4 180.5,718.5 180.8,716.3 181.1,717.5 181.4,719.5 181.7,717.6 182.0,719.5 182.3,716.9 182.6,717.6 182.9,718.9 183.2,718.3 183.5,717.7 183.8,717.4 184.1,717.9 184.4,716.6 184.7,718.4 185.0,715.6 185.3,721.8 185.6,716.8 185.9,714.8 186.2,713.3 186.5,714.5 186.8,716.7 187.1,715.0 187.4,717.9 187.7,715.0 188.0,713.6 188.3,714.9 188.6,714.3 188.9,714.9 189.2,713.0 189.5,714.8 189.8,711.4 190.1,715.1 190.4,714.5 190.7,714.3 191.0,713.0 191.3,714.3 191.6,714.7 191.9,710.9 192.2,716.0 192.5,713.7 192.8,714.8 193.1,716.7 193.4,711.3 193.7,711.7 194.0,711.6 194.3,713.5 194.6,711.3 194.9,711.5 195.2,716.5 195.5,712.5 195.8,713.7 196.1,714.7 196.4,715.5 196.7,709.7 197.0,713.2 197.3,713.9 197.6,714.5 197.9,710.8 198.2,711.2 198.5,712.3 198.8,711.9 199.1,711.1 199.4,710.4 199.7,711.3 200.0,710.8 200.3,711.8 200.6,709.9 200.9,709.0 201.2,710.0 201.5,710.4 201.8,713.0 202.1,709.8 202.4,706.1 202.7,715.1 203.0,712.9 203.3,711.5 203.6,711.1 203.9,710.1 204.2,713.7 204.5,707.2 204.8,711.3 205.1,711.2 205.4,714.6 205.7,709.2 206.0,712.6 206.3,710.1 206.6,706.9 206.9,706.6 207.2,711.5 207.5,706.2 207.8,708.0 208.1,712.3 208.4,706.4 208.7,709.6 209.0,712.6 209.3,711.6 209.6,709.8 209.9,706.3 210.2,711.9 210.5,708.9 210.8,707.8 211.1,705.1 211.4,702.5 211.7,708.3 212.0,706.4 212.3,703.5 212.6,709.5 212.9,708.0 213.2,706.1 213.5,706.5 213.8,708.7 214.1,708.7 214.4,705.4 214.7,709.6 215.0,707.1 215.3,705.2 215.6,707.2 215.9,707.6 216.2,710.2 216.5,709.1 216.8,702.5 217.1,704.9 217.4,709.7 217.7,708.7 218.0,706.2 218.3,707.4 218.6,712.3 218.9,703.8 219.2,711.9 219.5,711.7 219.8,708.3 220.1,709.2 220.4,710.8 220.7,710.4 221.0,711.4 221.3,712.7 221.6,708.5 221.9,709.5 222.2,710.2 222.5,707.9 222.8,708.4 223.1,711.4 223.4,703.2 223.7,708.2 224.0,706.0 224.3,704.2 224.6,706.0 224.9,707.1 225.2,707.6 225.5,703.1 225.8,705.8 226.1,707.1 226.4,703.2 226.7,703.9 227.0,702.5 227.3,702.3 227.6,697.3 227.9,702.5 228.2,699.7 228.5,702.8 228.8,699.3 229.1,693.8 229.4,699.0 229.7,698.9 230.0,697.3 230.3,693.0 230.6,692.3 230.9,697.3 231.2,690.6 231.5,695.3 231.8,692.7 232.1,690.0 232.4,690.6 232.7,689.7 233.0,692.7 233.3,688.7 233.6,690.2 233.9,689.4 234.2,691.1 234.5,692.8 234.8,684.5 235.1,690.3 235.4,686.3 235.7,687.7 236.0,687.6 236.3,692.9 236.6,692.5 236.9,686.6 237.2,686.5 237.5,692.0 237.8,688.8 238.1,693.3 238.4,684.6 238.7,690.7 239.0,685.1 239.3,676.8 239.6,689.1 239.9,683.3 240.2,688.8 240.5,685.3 240.8,690.4 241.1,681.5 241.4,680.7 241.7,691.0 242.0,689.6 242.3,686.1 242.6,680.1 242.9,688.5 243.2,693.9 243.5,684.1 243.8,683.9 244.1,682.3 244.4,686.6 244.7,684.7 245.0,679.6 245.3,682.3 245.6,688.0 245.9,680.7 246.2,685.4 246.5,688.0 246.8,686.9 247.1,678.0 247.4,686.1 247.7,680.1 248.0,676.8 248.3,684.9 248.6,678.0 248.9,682.8 249.2,687.9 249.5,685.4 249.8,682.8 250.1,686.5 250.4,683.3 250.7,685.9 251.0,686.9 251.3,679.3 251.6,688.6 251.9,682.2 252.2,682.8 252.5,683.1 252.8,681.4 253.1,680.7 253.4,684.1 253.7,679.9 254.0,683.7 254.3,684.6 254.6,679.7 254.9,680.5 255.2,683.5 255.5,681.4 255.8,683.7 256.1,681.1 256.4,680.0 256.7,680.3 257.0,682.1 257.3,685.1 257.6,674.5 257.9,678.8 258.2,679.0 258.5,677.4 258.8,678.5 259.1,684.4 259.4,683.7 259.7,677.6 260.0,674.4 260.3,681.1 260.6,681.3 260.9,674.9 261.2,680.0 261.5,680.7 261.8,681.5 262.1,677.0 262.4,680.6 262.7,678.0 263.0,681.7 263.3,679.3 263.6,680.6 263.9,678.2 264.2,677.0 264.5,678.8 264.8,681.0 265.1,676.2 265.4,678.9 265.7,686.7 266.0,674.8 266.3,672.1 266.6,673.4 266.9,675.8 267.2,676.8 267.5,668.1 267.8,668.9 268.1,679.4 268.4,670.8 268.7,678.8 269.0,680.8 269.3,664.0 269.6,678.0 269.9,675.8 270.2,674.2 270.5,676.9 270.8,675.1 271.1,677.3 271.4,682.3 271.7,676.2 272.0,670.0 272.3,680.2 272.6,679.0 272.9,680.2 273.2,675.9 273.5,677.8 273.8,682.0 274.1,673.7 274.4,671.4 274.7,679.6 275.0,672.3 275.3,678.1 275.6,671.3 275.9,671.4 276.2,674.4 276.5,674.3 276.8,669.8 277.1,679.4 277.4,671.0 277.7,675.4 278.0,668.8 278.3,669.9 278.6,669.9 278.9,672.8 279.2,672.7 279.5,672.8 279.8,671.9 280.1,675.5 280.4,675.4 280.7,669.8 281.0,672.0 281.3,673.2 281.6,674.2 281.9,673.3 282.2,669.7 282.5,669.7 282.8,671.2 283.1,672.9 283.4,666.3 283.7,666.5 284.0,668.9 284.3,670.8 284.6,667.6 284.9,668.4 285.2,666.8 285.5,672.2 285.8,661.6 286.1,669.8 286.4,667.0 286.7,669.8 287.0,670.3 287.3,657.0 287.6,674.1 287.9,672.3 288.2,675.8 288.5,672.4 288.8,672.9 289.1,671.2 289.4,675.6 289.7,663.1 290.0,668.2 290.3,664.6 290.6,672.2 290.9,669.5 291.2,675.2 291.5,668.8 291.8,667.3 292.1,667.2 292.4,664.7 292.7,659.1 293.0,667.6 293.3,665.7 293.6,665.6 293.9,662.5 294.2,667.8 294.5,662.9 294.8,668.6 295.1,666.5 295.4,666.1 295.7,660.7 296.0,669.0 296.3,671.3 296.6,667.1 296.9,665.2 297.2,670.3 297.5,671.1 297.8,665.9 298.1,679.5 298.4,673.1 298.7,674.3 299.0,669.7 299.3,669.7 299.6,663.7 299.9,666.9 300.2,668.3 300.5,671.0 300.8,665.9 301.1,664.5 301.4,673.2 301.7,668.7 302.0,672.3 302.3,668.7 302.6,665.7 302.9,668.2 303.2,657.9 303.5,672.6 303.8,670.8 304.1,673.5 304.4,667.5 304.7,677.0 305.0,673.8 305.3,661.1 305.6,661.0 305.9,669.7 306.2,662.8 306.5,668.1 306.8,668.0 307.1,667.4 307.4,675.2 307.7,671.3 308.0,671.6 308.3,669.9 308.6,681.6 308.9,674.6 309.2,666.1 309.5,671.4 309.8,665.9 310.1,668.4 310.4,668.8 310.7,663.4 311.0,661.4 311.3,664.2 311.6,671.7 311.9,657.7 312.2,672.1 312.5,660.6 312.8,666.3 313.1,667.4 313.4,672.9 313.7,669.8 314.0,665.3 314.3,667.4 314.6,671.0 314.9,674.6 315.2,671.2 315.5,669.7 315.8,669.1 316.1,676.9 316.4,666.9 316.7,668.5 317.0,671.9 317.3,675.8 317.6,663.4 317.9,674.7 318.2,675.5 318.5,671.8 318.8,662.9 319.1,667.9 319.4,670.3 319.7,672.1 320.0,665.8 320.3,670.0 320.6,674.1 320.9,668.9 321.2,670.0 321.5,669.4 321.8,665.5 322.1,669.9 322.4,670.6 322.7,674.6 323.0,668.3 323.3,666.2 323.6,669.7 323.9,668.1 324.2,674.1 324.5,669.6 324.8,665.5 325.1,674.5 325.4,671.7 325.7,672.8 326.0,673.7 326.3,676.5 326.6,668.4 326.9,674.8 327.2,672.6 327.5,672.6 327.8,672.0 328.1,670.5 328.4,673.3 328.7,672.6 329.0,675.3 329.3,678.7 329.6,668.6 329.9,680.6 330.2,677.1 330.5,668.1 330.8,672.3 331.1,672.8 331.4,677.6 331.7,669.0 332.0,679.9 332.3,668.6 332.6,671.6 332.9,670.6 333.2,668.1 333.5,668.6 333.8,670.8 334.1,672.2 334.4,670.8 334.7,669.6 335.0,663.0 335.3,672.3 335.6,681.1 335.9,680.2 336.2,678.2 336.5,672.0 336.8,675.7 337.1,671.6 337.4,671.9 337.7,674.4 338.0,677.9 338.3,671.9 338.6,671.3 338.9,673.8 339.2,668.1 339.5,677.5 339.8,678.1 340.1,678.8 340.4,677.2 340.7,671.8 341.0,673.2 341.3,670.5 341.6,675.5 341.9,683.0 342.2,670.4 342.5,676.9 342.8,679.8 343.1,670.2 343.4,682.9 343.7,671.8 344.0,674.0 344.3,676.2 344.6,678.2 344.9,677.7 345.2,673.6 345.5,672.0 345.8,665.3 346.1,672.7 346.4,679.7 346.7,671.6 347.0,677.2 347.3,677.6 347.6,675.5 347.9,672.6 348.2,672.7 348.5,674.7 348.8,668.0 349.1,680.5 349.4,670.8 349.7,672.5 350.0,672.6 350.3,673.9 350.6,676.6 350.9,679.9 351.2,676.0 351.5,681.4 351.8,673.7 352.1,678.0 352.4,678.4 352.7,675.9 353.0,678.0 353.3,671.3 353.6,680.6 353.9,678.6 354.2,676.1 354.5,674.1 354.8,678.8 355.1,671.2 355.4,678.5 355.7,679.3 356.0,685.5 356.3,675.3 356.6,681.0 356.9,678.2 357.2,669.4 357.5,670.7 357.8,673.7 358.1,680.4 358.4,681.6 358.7,675.0 359.0,677.8 359.3,677.1 359.6,666.6 359.9,680.7 360.2,682.0 360.5,668.0 360.8,673.2 361.1,676.6 361.4,676.7 361.7,681.2 362.0,681.8 362.3,675.3 362.6,680.1 362.9,675.2 363.2,676.6 363.5,678.8 363.8,680.1 364.1,675.7 364.4,685.5 364.7,679.1 365.0,678.5 365.3,681.5 365.6,676.3 365.9,680.0 366.2,669.7 366.5,672.6 366.8,677.8 367.1,677.6 367.4,678.1 367.7,677.1 368.0,681.8 368.3,684.3 368.6,678.0 368.9,683.9 369.2,681.6 369.5,675.8 369.8,675.4 370.1,680.7 370.4,684.6 370.7,677.4 371.0,673.2 371.3,684.5 371.6,685.3 371.9,680.4 372.2,685.3 372.5,688.9 372.8,678.5 373.1,680.3 373.4,680.5 373.7,685.9 374.0,679.0 374.3,681.1 374.6,686.9 374.9,686.1 375.2,686.4 375.5,679.4 375.8,684.4 376.1,680.9 376.4,686.4 376.7,685.0 377.0,685.8 377.3,682.9 377.6,684.1 377.9,685.0 378.2,683.1 378.5,685.1 378.8,680.7 379.1,680.1 379.4,678.4 379.7,683.9 380.0,687.4 380.3,686.1 380.6,678.0 380.9,686.3 381.2,685.1 381.5,684.6 381.8,686.0 382.1,687.3 382.4,690.1 382.7,689.8 383.0,692.2 383.3,687.8 383.6,684.0 383.9,690.6 384.2,682.1 384.5,689.1 384.8,683.0 385.1,684.6 385.4,690.7 385.7,684.7 386.0,690.4 386.3,689.1 386.6,686.7 386.9,689.7 387.2,689.4 387.5,688.0 387.8,685.5 388.1,690.5 388.4,686.8 388.7,687.8 389.0,689.5 389.3,687.9 389.6,689.1 389.9,689.4 390.2,689.5 390.5,689.1 390.8,693.2 391.1,687.4 391.4,687.6 391.7,685.1 392.0,681.8 392.3,691.5 392.6,691.0 392.9,694.1 393.2,685.2 393.5,687.4 393.8,688.2 394.1,696.1 394.4,693.0 394.7,689.7 395.0,690.3 395.3,691.5 395.6,687.1 395.9,691.8 396.2,687.5 396.5,691.3 396.8,693.2 397.1,692.0 397.4,689.2 397.7,690.6 398.0,694.1 398.3,690.2 398.6,687.8 398.9,691.3 399.2,690.7 399.5,691.8 399.8,692.5 400.1,691.6 400.4,691.8 400.7,695.7 401.0,694.8 401.3,696.1 401.6,693.6 401.9,692.5 402.2,694.6 402.5,689.6 402.8,690.7 403.1,696.6 403.4,692.9 403.7,692.6 404.0,691.5 404.3,696.0 404.6,691.5 404.9,698.5 405.2,695.8 405.5,690.4 405.8,694.1 406.1,692.8 406.4,697.4 406.7,697.5 407.0,694.8 407.3,694.5 407.6,697.7 407.9,694.9 408.2,700.4 408.5,695.1 408.8,698.0 409.1,691.8 409.4,698.4 409.7,695.8 410.0,698.4 410.3,700.8 410.6,697.5 410.9,691.4 411.2,692.8 411.5,698.6 411.8,696.2 412.1,695.6 412.4,701.6 412.7,698.4 413.0,701.6 413.3,701.7 413.6,698.4 413.9,699.9 414.2,696.7 414.5,700.9 414.8,700.0 415.1,704.3 415.4,702.5 415.7,700.1 416.0,698.9 416.3,700.2 416.6,700.9 416.9,702.9 417.2,703.7 417.5,698.2 417.8,698.7 418.1,702.3 418.4,698.6 418.7,701.5 419.0,697.4 419.3,701.1 419.6,700.9 419.9,701.4 420.2,700.7 420.5,703.6 420.8,704.7 421.1,704.4 421.4,702.1 421.7,702.1 422.0,701.4 422.3,701.4 422.6,702.8 422.9,702.9 423.2,703.0 423.5,704.2 423.8,705.7 424.1,702.3 424.4,703.4 424.7,705.4 425.0,704.7 425.3,702.4 425.6,701.7 425.9,706.1 426.2,702.2 426.5,705.8 426.8,702.6 427.1,709.1 427.4,702.8 427.7,709.5 428.0,707.1 428.3,708.7 428.6,708.5 428.9,707.0 429.2,705.3 429.5,711.6 429.8,705.3 430.1,706.8 430.4,703.5 430.7,706.6 431.0,708.0 431.3,705.3 431.6,707.3 431.9,706.4 432.2,706.4 432.5,708.7 432.8,709.3 433.1,705.9 433.4,703.9 433.7,708.8 434.0,705.6 434.3,707.0 434.6,706.4 434.9,710.4 435.2,713.0 435.5,707.3 435.8,713.2 436.1,709.1 436.4,708.1 436.7,711.3 437.0,713.1 437.3,708.7 437.6,708.6 437.9,713.3 438.2,711.4 438.5,703.8 438.8,709.4 439.1,708.2 439.4,708.8 439.7,710.4 440.0,709.3 440.3,709.5 440.6,714.7 440.9,707.3 441.2,711.0 441.5,712.0 441.8,708.0 442.1,708.8 442.4,708.9 442.7,713.0 443.0,709.2 443.3,712.5 443.6,709.3 443.9,709.3 444.2,712.7 444.5,713.6 444.8,709.5 445.1,710.2 445.4,712.8 445.7,710.5 446.0,710.3 446.3,710.6 446.6,713.3 446.9,707.9 447.2,716.3 447.5,716.0 447.8,715.4 448.1,712.6 448.4,711.8 448.7,714.1 449.0,711.0 449.3,717.3 449.6,712.0 449.9,715.5 450.2,714.8 450.5,712.5 450.8,712.9 451.1,711.8 451.4,713.6 451.7,714.6 452.0,713.5 452.3,712.9 452.6,713.6 452.9,715.9 453.2,715.3 453.5,714.6 453.8,712.5 454.1,712.8 454.4,714.7 454.7,713.1 455.0,712.5 455.3,716.4 455.6,714.1 455.9,714.4 456.2,712.9 456.5,714.5 456.8,715.5 457.1,714.6 457.4,711.4 457.7,713.2 458.0,715.2 458.3,714.6 458.6,716.1 458.9,713.7 459.2,714.2 459.5,716.0 459.8,714.3 460.1,716.0 460.4,711.2 460.7,712.7 461.0,716.2 461.3,716.0 461.6,715.9 461.9,716.3 462.2,716.3 462.5,712.6 462.8,717.6 463.1,716.3 463.4,712.6 463.7,712.4 464.0,715.5 464.3,713.6 464.6,715.8 464.9,714.3 465.2,712.2 465.5,713.4 465.8,714.3 466.1,715.0 466.4,716.5 466.7,713.9 467.0,715.9 467.3,714.7 467.6,714.9 467.9,711.0 468.2,714.3 468.5,712.7 468.8,716.5 469.1,717.3 469.4,716.1 469.7,719.1 470.0,715.9 470.3,716.9 470.6,714.9 470.9,716.2 471.2,713.7 471.5,715.0 471.8,717.4 472.1,715.6 472.4,715.1 472.7,715.5 473.0,716.6 473.3,718.2 473.6,713.1 473.9,715.8 474.2,715.8 474.5,715.8 474.8,716.5 475.1,717.6 475.4,719.0 475.7,714.3 476.0,715.5 476.3,717.9 476.6,715.6 476.9,719.0 477.2,717.1 477.5,718.5 477.8,717.1 478.1,717.8 478.4,723.8 478.7,719.2 479.0,722.2 479.3,720.2 479.6,721.5 479.9,719.5 480.2,721.8 480.5,720.6 480.8,717.5 481.1,718.2 481.4,722.2 481.7,723.7 482.0,722.0 482.3,721.9 482.6,722.9 482.9,726.3 483.2,721.9 483.5,725.6 483.8,726.5 484.1,723.7 484.4,724.5 484.7,725.6 485.0,725.6 485.3,727.9 485.6,726.8 485.9,725.9 486.2,726.8 486.5,727.6 486.8,725.5 487.1,724.7 487.4,726.7 487.7,727.6 488.0,727.2 488.3,726.0 488.6,724.6 488.9,725.7 489.2,725.2 489.5,725.0 489.8,724.0 490.1,725.3 490.4,724.9 490.7,721.8 491.0,724.3 491.3,721.8 491.6,723.1 491.9,722.6 492.2,723.3 492.5,721.7 492.8,721.7 493.1,721.3 493.4,721.2 493.7,719.6 494.0,722.3 494.3,720.5 494.6,721.7 494.9,721.0 495.2,721.6 495.5,721.9 495.8,719.2 496.1,721.0 496.4,721.5 496.7,720.3 497.0,720.4 497.3,722.0 497.6,723.4 497.9,722.4 498.2,722.7 498.5,722.2 498.8,724.6 499.1,721.9 499.4,723.2 499.7,726.9 500.0,722.6 500.3,722.1 500.6,719.9 500.9,719.9 501.2,725.4 501.5,722.4 501.8,721.1 502.1,721.8 502.4,720.9 502.7,722.6 503.0,721.7 503.3,723.5 503.6,724.9 503.9,723.5 504.2,723.0 504.5,723.0 504.8,725.0 505.1,721.2 505.4,721.8 505.7,722.4 506.0,721.6 506.3,724.0 506.6,722.9 506.9,722.1 507.2,724.3 507.5,723.5 507.8,724.2 508.1,723.7 508.4,723.1 508.7,722.4 509.0,724.5 509.3,722.7 509.6,725.4 509.9,724.4 510.2,724.1 510.5,723.1 510.8,726.5 511.1,724.0 511.4,725.1 511.7,723.6 512.0,726.1 512.3,725.2 512.6,726.1 512.9,725.9 513.2,724.8" fill="none" stroke="#47804f" stroke-width="0.8" stroke-linejoin="round"/><polyline points="132.8,729.6 134.3,729.3 135.8,729.1 137.3,728.9 138.8,728.6 140.3,728.4 141.8,728.1 143.3,727.9 144.8,727.7 146.3,727.4 147.8,727.2 149.3,726.9 150.8,726.7 152.3,726.5 153.8,726.8 155.3,727.0 156.8,727.3 158.3,727.6 159.8,728.3 161.3,728.9 162.8,728.1 164.3,727.1 165.8,726.1 167.3,725.1 168.8,724.1 170.3,723.1 171.8,722.1 173.3,721.1 174.8,720.1 176.3,719.6 177.8,719.0 179.3,718.5 180.8,718.0 182.3,717.5 183.8,717.0 185.3,716.5 186.8,716.0 188.3,715.5 189.8,714.9 191.3,714.4 192.8,713.9 194.3,713.4 195.8,712.9 197.3,712.3 198.8,711.8 200.3,711.3 201.8,710.7 203.3,710.2 204.8,709.7 206.3,709.1 207.8,708.6 209.3,708.1 210.8,707.5 212.3,707.3 213.8,707.4 215.3,707.4 216.8,707.5 218.3,708.4 219.8,709.5 221.3,710.1 222.8,708.4 224.3,706.8 225.8,704.1 227.3,700.5 228.8,696.9 230.3,693.7 231.8,692.1 233.3,690.6 234.8,689.1 236.3,687.5 237.8,686.9 239.3,686.5 240.8,686.0 242.3,685.6 243.8,685.1 245.3,684.7 246.8,684.2 248.3,683.8 249.8,683.3 251.3,682.9 252.8,682.4 254.3,682.0 255.8,681.5 257.3,680.9 258.8,680.3 260.3,679.7 261.8,679.0 263.3,678.4 264.8,677.8 266.3,677.2 267.8,676.6 269.3,676.0 270.8,675.4 272.3,674.7 273.8,674.1 275.3,673.5 276.8,672.9 278.3,672.3 279.8,671.7 281.3,671.3 282.8,670.8 284.3,670.3 285.8,669.9 287.3,669.4 288.8,668.9 290.3,668.5 291.8,668.0 293.3,667.5 294.8,667.4 296.3,667.6 297.8,667.7 299.3,667.9 300.8,668.0 302.3,668.2 303.8,668.4 305.3,668.5 306.8,668.7 308.3,668.9 309.8,669.0 311.3,669.3 312.8,669.6 314.3,669.9 315.8,670.2 317.3,670.5 318.8,670.8 320.3,671.1 321.8,671.4 323.3,671.7 324.8,672.0 326.3,672.2 327.8,672.4 329.3,672.6 330.8,672.8 332.3,673.0 333.8,673.3 335.3,673.5 336.8,673.7 338.3,673.9 339.8,674.1 341.3,674.2 342.8,674.4 344.3,674.5 345.8,674.6 347.3,674.8 348.8,674.9 350.3,675.0 351.8,675.2 353.3,675.3 354.8,675.5 356.3,675.6 357.8,675.7 359.3,676.1 360.8,676.7 362.3,677.3 363.8,677.9 365.3,678.5 366.8,679.1 368.3,679.7 369.8,680.3 371.3,680.9 372.8,681.5 374.3,682.1 375.8,682.7 377.3,683.3 378.8,683.9 380.3,684.5 381.8,685.1 383.3,685.7 384.8,686.3 386.3,686.8 387.8,687.4 389.3,688.0 390.8,688.6 392.3,689.2 393.8,689.8 395.3,690.3 396.8,690.9 398.3,691.7 399.8,692.4 401.3,693.2 402.8,694.0 404.3,694.8 405.8,695.5 407.3,696.3 408.8,697.1 410.3,697.9 411.8,698.6 413.3,699.4 414.8,700.2 416.3,700.9 417.8,701.5 419.3,702.1 420.8,702.7 422.3,703.3 423.8,703.9 425.3,704.5 426.8,705.1 428.3,705.7 429.8,706.3 431.3,706.9 432.8,707.5 434.3,708.1 435.8,708.7 437.3,709.2 438.8,709.8 440.3,710.4 441.8,711.0 443.3,711.6 444.8,712.1 446.3,712.7 447.8,713.1 449.3,713.3 450.8,713.4 452.3,713.6 453.8,713.8 455.3,714.0 456.8,714.1 458.3,714.3 459.8,714.5 461.3,714.6 462.8,714.8 464.3,715.0 465.8,715.1 467.3,715.3 468.8,715.4 470.3,715.6 471.8,715.8 473.3,715.9 474.8,716.7 476.3,717.9 477.8,719.2 479.3,720.4 480.8,721.9 482.3,723.6 483.8,725.2 485.3,726.9 486.8,726.1 488.3,725.1 489.8,724.1 491.3,723.2 492.8,722.3 494.3,721.4 495.8,721.2 497.3,721.5 498.8,721.8 500.3,722.1 501.8,722.4 503.3,722.7 504.8,723.0 506.3,723.4 507.8,723.7 509.3,724.0 510.8,724.3 512.3,724.6" fill="none" stroke="#111" stroke-width="1.1" stroke-dasharray="3.5 2.2"/><path d="M132.8 656.3v2M132.8 737v-2M170.8 656.3v2M170.8 737v-2M208.9 656.3v2M208.9 737v-2M246.9 656.3v2M246.9 737v-2M284.9 656.3v2M284.9 737v-2M323.0 656.3v2M323.0 737v-2M361.1 656.3v2M361.1 737v-2M399.1 656.3v2M399.1 737v-2M437.1 656.3v2M437.1 737v-2M475.2 656.3v2M475.2 737v-2M513.2 656.3v2M513.2 737v-2M132.6 662.5h3M513.4 662.5h-3M132.6 696.5h3M513.4 696.5h-3M132.6 730.5h3M513.4 730.5h-3" stroke="#333" stroke-width="0.8"/><path d="M133 75.5h3M514 75.5h-3M133 92.0h3M514 92.0h-3M133 108.5h3M514 108.5h-3M133 125.0h3M514 125.0h-3M133 141.5h3M514 141.5h-3M133 158.0h3M514 158.0h-3M133 174.5h3M514 174.5h-3M133 191.0h3M514 191.0h-3M133 207.5h3M514 207.5h-3M133 224.0h3M514 224.0h-3M133 240.5h3M514 240.5h-3M157.4 64v2.5M157.4 254v-2.5M212.6 64v2.5M212.6 254v-2.5M267.8 64v2.5M267.8 254v-2.5M323.0 64v2.5M323.0 254v-2.5M378.2 64v2.5M378.2 254v-2.5M433.4 64v2.5M433.4 254v-2.5M488.6 64v2.5M488.6 254v-2.5M133 475.5h3M513.5 475.5h-3M133 496.0h3M513.5 496.0h-3M133 516.5h3M513.5 516.5h-3M133 537.0h3M513.5 537.0h-3M133 557.5h3M513.5 557.5h-3M133 578.0h3M513.5 578.0h-3M133 598.5h3M513.5 598.5h-3M133 619.0h3M513.5 619.0h-3M133 639.5h3M513.5 639.5h-3M170.8 466v2.5M170.8 649v-2.5M208.9 466v2.5M208.9 649v-2.5M246.9 466v2.5M246.9 649v-2.5M284.9 466v2.5M284.9 649v-2.5M323.0 466v2.5M323.0 649v-2.5M361.1 466v2.5M361.1 649v-2.5M399.1 466v2.5M399.1 649v-2.5M437.1 466v2.5M437.1 649v-2.5M475.2 466v2.5M475.2 649v-2.5" stroke="#dde" stroke-width="0.7" opacity="0.85"/><path d="M179.0 81.0L265.0 213.0L265.0 230.0L179.0 99.0Z" fill="none" stroke="#f53ad8" stroke-width="1.35"/><path d="M179.0 81.0L265.0 213.0L265.0 230.0L179.0 99.0Z" fill="none" stroke="#0a0a14" stroke-width="1.35" stroke-dasharray="2.8 2.8"/><path d="M404.5 77.0L404.5 94.0L371.0 225.0L371.0 208.0Z" fill="none" stroke="#f53ad8" stroke-width="1.35"/><path d="M404.5 77.0L404.5 94.0L371.0 225.0L371.0 208.0Z" fill="none" stroke="#0a0a14" stroke-width="1.35" stroke-dasharray="2.8 2.8"/><path d="M217.0 467.3L467.5 636.8L467.5 643.3L217.0 473.8Z" fill="none" stroke="#f53ad8" stroke-width="1.35"/><path d="M217.0 467.3L467.5 636.8L467.5 643.3L217.0 473.8Z" fill="none" stroke="#0a0a14" stroke-width="1.35" stroke-dasharray="2.8 2.8"/><path d="M171.0 641.5L415.0 472.5L415.0 479.0L171.0 648.0Z" fill="none" stroke="#f53ad8" stroke-width="1.35"/><path d="M171.0 641.5L415.0 472.5L415.0 479.0L171.0 648.0Z" fill="none" stroke="#0a0a14" stroke-width="1.35" stroke-dasharray="2.8 2.8"/><text x="139.7" y="85.0" font-size="14" text-anchor="start" fill="#fff" stroke="#fff" stroke-width="0.1" textLength="19.0" lengthAdjust="spacingAndGlyphs">(a)</text><text x="140.0" y="487.0" font-size="14" text-anchor="start" fill="#fff" stroke="#fff" stroke-width="0.1" textLength="19.5" lengthAdjust="spacingAndGlyphs">(d)</text><text x="93.3" y="83.0" font-size="14" text-anchor="start" fill="#111" stroke="#111" stroke-width="0.1" textLength="20.0" lengthAdjust="spacingAndGlyphs">(b)</text><text x="94.0" y="485.0" font-size="14" text-anchor="start" fill="#111" stroke="#111" stroke-width="0.1" textLength="20.0" lengthAdjust="spacingAndGlyphs">(e)</text><text x="139.7" y="278.0" font-size="14" text-anchor="start" fill="#111" stroke="#111" stroke-width="0.1" textLength="19.5" lengthAdjust="spacingAndGlyphs">(c)</text><text x="141.0" y="673.0" font-size="14" text-anchor="start" fill="#111" stroke="#111" stroke-width="0.1" textLength="15.0" lengthAdjust="spacingAndGlyphs">(f)</text><text x="201.2" y="94.8" font-family="Liberation Serif,serif" font-style="italic" font-size="25" fill="#fff">&#981;<tspan font-style="normal" font-size="16" dy="4.5" dx="1">1</tspan></text><circle cx="207.4" cy="74.2" r="0.9" fill="#fff"/><circle cx="211.4" cy="74.2" r="0.9" fill="#fff"/><text x="364.4" y="101.4" font-family="Liberation Serif,serif" font-style="italic" font-size="25" fill="#fff">&#981;<tspan font-style="normal" font-size="16" dy="4.5" dx="1">2</tspan></text><circle cx="370.6" cy="80.8" r="0.9" fill="#fff"/><circle cx="374.6" cy="80.8" r="0.9" fill="#fff"/><text x="198.2" y="505.0" font-family="Liberation Serif,serif" font-style="italic" font-size="25" fill="#fff">&#981;<tspan font-style="normal" font-size="16" dy="4.5" dx="1">1</tspan></text><circle cx="204.4" cy="484.4" r="0.9" fill="#fff"/><circle cx="208.4" cy="484.4" r="0.9" fill="#fff"/><text x="169.4" y="618.4" font-family="Liberation Serif,serif" font-style="italic" font-size="25" fill="#fff">&#981;<tspan font-style="normal" font-size="16" dy="4.5" dx="1">2</tspan></text><circle cx="175.6" cy="597.8" r="0.9" fill="#fff"/><circle cx="179.6" cy="597.8" r="0.9" fill="#fff"/></g></svg>
</div></body></html>
